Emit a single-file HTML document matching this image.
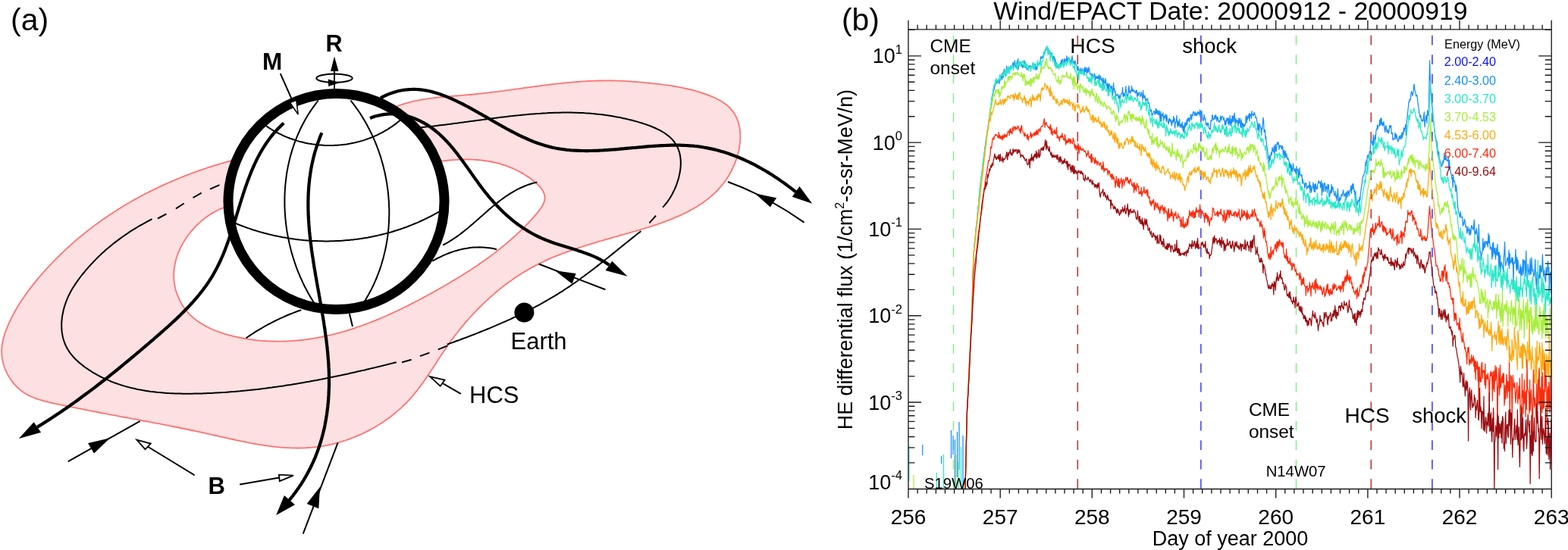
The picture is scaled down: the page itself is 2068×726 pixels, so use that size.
<!DOCTYPE html>
<html><head><meta charset="utf-8"><title>Figure</title>
<style>
html,body{margin:0;padding:0;background:#fff;}
body{width:2068px;height:726px;overflow:hidden;}
svg{display:block;}
text{font-family:"Liberation Sans",Arial,Helvetica,sans-serif;}
</style></head><body>
<svg width="2068" height="726" viewBox="0 0 2068 726">
<rect width="2068" height="726" fill="#fff"/>
<path d="M303.2 212.6L300.8 213.2L298.4 213.9L296 214.6L293.6 215.3L291.2 216L288.8 216.7L286.4 217.4L284 218.2L281.6 218.9L279.2 219.7L276.8 220.4L274.4 221.2L272.1 222L269.7 222.8L267.3 223.6L265 224.4L262.6 225.2L260.2 226.1L257.9 226.9L255.5 227.8L253.2 228.6L250.9 229.5L248.5 230.4L246.2 231.3L243.9 232.2L241.5 233.1L239.2 234L236.9 235L234.6 235.9L232.3 236.9L230 237.8L227.7 238.8L225.4 239.8L223.1 240.8L220.9 241.8L218.6 242.8L216.3 243.9L214.1 244.9L211.8 245.9L209.5 247L207.3 248.1L205.1 249.1L202.8 250.2L200.6 251.3L198.4 252.4L196.1 253.6L193.9 254.7L191.7 255.8L189.5 257L187.3 258.1L185.1 259.3L182.9 260.5L180.8 261.7L178.6 262.9L176.4 264.1L174.3 265.3L172.1 266.6L170 267.8L167.8 269.1L165.7 270.3L163.5 271.6L161.4 272.9L159.3 274.2L157.2 275.5L155.1 276.8L153 278.2L150.9 279.5L148.8 280.9L146.8 282.2L144.7 283.6L142.6 285L140.6 286.4L138.5 287.8L136.5 289.2L134.4 290.6L132.4 292.1L130.4 293.5L128.4 295L126.4 296.4L124.4 297.9L122.4 299.4L120.4 300.9L118.4 302.4L116.5 303.9L114.5 305.5L112.6 307L110.6 308.6L108.7 310.2L106.8 311.7L104.9 313.3L102.9 314.9L101 316.5L99.2 318.2L97.3 319.8L95.4 321.4L93.5 323.1L91.7 324.8L89.8 326.5L88 328.1L86.1 329.8L84.3 331.6L82.5 333.3L80.7 335L78.9 336.8L77.1 338.5L75.3 340.3L73.5 342.1L71.8 343.9L70 345.7L68.3 347.5L66.6 349.3L64.8 351.1L63.1 353L61.4 354.9L59.7 356.7L58 358.6L56.3 360.5L54.7 362.4L53 364.3L51.4 366.3L49.7 368.2L48.1 370.1L46.5 372.1L44.9 374.1L43.3 376.1L41.8 378.1L40.2 380.1L38.7 382.1L37.1 384.1L35.6 386.2L34.2 388.2L32.7 390.3L31.3 392.4L29.8 394.5L28.4 396.6L27.1 398.7L25.7 400.8L24.4 403L23.1 405.1L21.8 407.3L20.5 409.5L19.3 411.7L18.1 413.9L16.9 416.1L15.8 418.3L14.7 420.6L13.6 422.8L12.5 425.1L11.5 427.4L10.5 429.7L9.5 432L8.6 434.3L7.7 436.6L6.9 439L6.1 441.3L5.4 443.7L4.7 446.1L4.1 448.4L3.6 450.8L3.1 453.2L2.7 455.7L2.5 458.1L2.3 460.5L2.2 462.9L2.2 465.4L2.3 467.8L2.5 470.3L2.9 472.7L3.3 475.2L3.8 477.6L4.4 480L5.1 482.5L5.9 484.8L6.8 487.2L7.8 489.5L8.9 491.8L10 494.1L11.2 496.3L12.5 498.4L13.9 500.6L15.4 502.6L16.9 504.6L18.5 506.6L20.1 508.5L21.9 510.3L23.7 512L25.5 513.7L27.4 515.3L29.4 516.7L31.4 518.2L33.5 519.5L35.6 520.7L37.8 521.9L40 523L42.3 524L44.5 525L46.9 525.8L49.2 526.7L51.6 527.5L54 528.2L56.5 528.9L58.9 529.6L61.4 530.2L63.9 530.9L66.4 531.4L68.9 532L71.4 532.6L73.9 533.1L76.4 533.6L78.9 534.2L81.4 534.7L83.9 535.2L86.4 535.7L88.9 536.2L91.4 536.7L93.9 537.2L96.4 537.7L98.8 538.2L101.3 538.7L103.8 539.2L106.3 539.7L108.8 540.2L111.2 540.7L113.7 541.2L116.2 541.7L118.6 542.2L121.1 542.6L123.6 543.1L126 543.6L128.5 544L131 544.5L133.4 545L135.9 545.5L138.3 545.9L140.8 546.4L143.2 546.8L145.7 547.3L148.1 547.8L150.6 548.2L153 548.7L155.5 549.1L157.9 549.6L160.4 550.1L162.8 550.5L165.3 551L167.7 551.4L170.2 551.9L172.6 552.3L175 552.8L177.5 553.2L179.9 553.7L182.3 554.2L184.8 554.6L187.2 555.1L189.7 555.5L192.1 556L194.5 556.4L197 556.9L199.4 557.4L201.8 557.8L204.3 558.3L206.7 558.8L209.1 559.2L211.6 559.7L214 560.2L216.5 560.6L218.9 561.1L221.3 561.6L223.8 562.1L226.2 562.5L228.6 563L231.1 563.5L233.5 564L236 564.5L238.4 565L240.8 565.5L243.3 566L245.7 566.5L248.2 567L250.6 567.5L253 568L255.5 568.5L257.9 569.1L260.4 569.6L262.8 570.1L265.3 570.6L267.7 571.2L270.2 571.7L272.6 572.3L275.1 572.8L277.5 573.3L280 573.9L282.5 574.5L284.9 575L287.4 575.6L289.8 576.1L292.3 576.7L294.8 577.2L297.2 577.8L299.7 578.4L302.2 578.9L304.6 579.5L307.1 580L309.6 580.5L312.1 581.1L314.5 581.6L317 582.1L319.5 582.6L321.9 583.1L324.4 583.6L326.9 584.1L329.4 584.6L331.8 585.1L334.3 585.5L336.8 586L339.3 586.4L341.8 586.8L344.2 587.2L346.7 587.6L349.2 588L351.7 588.3L354.1 588.7L356.6 589L359.1 589.3L361.6 589.6L364.1 589.9L366.5 590.1L369 590.4L371.5 590.6L374 590.8L376.5 590.9L378.9 591.1L381.4 591.2L383.9 591.3L386.4 591.4L388.9 591.4L391.3 591.5L393.8 591.5L396.3 591.4L398.8 591.4L401.2 591.3L403.7 591.2L406.2 591L408.7 590.9L411.1 590.7L413.6 590.4L416.1 590.2L418.5 589.9L421 589.5L423.5 589.2L426 588.8L428.4 588.3L430.9 587.9L433.3 587.4L435.8 586.8L438.2 586.3L440.7 585.7L443.1 585.1L445.6 584.4L448 583.7L450.4 583L452.8 582.2L455.3 581.5L457.7 580.6L460.1 579.8L462.4 578.9L464.8 578L467.2 577.1L469.5 576.1L471.9 575.1L474.2 574.1L476.5 573.1L478.8 572L481.1 570.9L483.4 569.8L485.7 568.6L487.9 567.4L490.1 566.2L492.4 565L494.6 563.7L496.7 562.4L498.9 561.1L501.1 559.8L503.2 558.4L505.3 557L507.4 555.6L509.5 554.1L511.5 552.7L513.5 551.2L515.6 549.7L517.5 548.1L519.5 546.6L521.4 545L523.4 543.4L525.3 541.7L527.1 540.1L529 538.4L530.8 536.7L532.6 535L534.3 533.3L536.1 531.5L537.8 529.7L539.5 527.9L541.1 526.1L542.8 524.2L544.4 522.4L546 520.5L547.5 518.6L549.1 516.7L550.6 514.8L552.1 512.8L553.6 510.9L555 508.9L556.5 506.9L557.9 504.9L559.3 502.9L560.7 500.9L562.1 498.9L563.5 496.8L564.9 494.8L566.3 492.7L567.6 490.7L569 488.6L570.4 486.5L571.7 484.4L573.1 482.4L574.4 480.3L575.8 478.2L577.1 476.1L578.5 474L579.9 471.9L581.2 469.8L582.6 467.8L584 465.7L585.4 463.6L586.8 461.5L588.2 459.4L589.6 457.4L591 455.3L592.5 453.2L594 451.2L595.4 449.1L596.9 447.1L598.5 445.1L600 443L601.5 441L603.1 439L604.7 437L606.2 435L607.8 433.1L609.5 431.1L611.1 429.1L612.7 427.2L614.4 425.2L616.1 423.3L617.7 421.4L619.4 419.5L621.2 417.6L622.9 415.7L624.6 413.8L626.4 412L628.1 410.1L629.9 408.3L631.7 406.5L633.5 404.7L635.3 402.9L637.1 401.1L639 399.3L640.8 397.6L642.7 395.9L644.6 394.1L646.4 392.4L648.3 390.8L650.2 389.1L652.2 387.4L654.1 385.8L656 384.2L658 382.6L659.9 381L661.9 379.4L663.9 377.8L665.9 376.3L667.9 374.8L669.9 373.3L671.9 371.8L674 370.4L676 368.9L678 367.5L680.1 366.1L682.2 364.7L684.2 363.4L686.3 362L688.4 360.7L690.5 359.4L692.6 358.1L694.8 356.9L696.9 355.6L699 354.4L701.2 353.2L703.3 352.1L705.5 350.9L707.6 349.8L709.8 348.7L712 347.6L714.2 346.5L716.4 345.5L718.6 344.4L720.8 343.4L723 342.4L725.2 341.4L727.5 340.5L729.7 339.5L732 338.6L734.2 337.7L736.5 336.8L738.7 335.9L741 335L743.3 334.1L745.6 333.3L747.9 332.4L750.2 331.6L752.5 330.8L754.8 329.9L757.1 329.1L759.5 328.4L761.8 327.6L764.1 326.8L766.5 326L768.8 325.3L771.2 324.5L773.5 323.8L775.9 323L778.3 322.3L780.7 321.6L783 320.9L785.4 320.2L787.8 319.4L790.2 318.7L792.6 318L795 317.3L797.4 316.6L799.9 315.9L802.3 315.3L804.7 314.6L807.2 313.9L809.6 313.2L812 312.5L814.5 311.8L816.9 311.1L819.4 310.4L821.9 309.7L824.3 309L826.8 308.3L829.3 307.6L831.7 306.9L834.2 306.2L836.7 305.5L839.2 304.7L841.7 304L844.2 303.3L846.7 302.5L849.1 301.8L851.6 301L854.1 300.3L856.6 299.5L859.1 298.7L861.5 297.9L864 297.1L866.4 296.3L868.9 295.4L871.3 294.6L873.8 293.7L876.2 292.8L878.6 291.9L881 291L883.4 290.1L885.8 289.1L888.2 288.2L890.5 287.2L892.8 286.2L895.2 285.2L897.5 284.1L899.8 283L902 282L904.3 280.9L906.5 279.7L908.7 278.6L910.9 277.4L913.1 276.2L915.3 275L917.4 273.7L919.5 272.4L921.6 271.1L923.6 269.8L925.7 268.4L927.7 267L929.6 265.6L931.6 264.1L933.5 262.7L935.4 261.1L937.2 259.6L939.1 258L940.9 256.4L942.6 254.7L944.4 253.1L946.1 251.3L947.7 249.6L949.3 247.8L950.9 246L952.5 244.1L954 242.2L955.5 240.2L956.9 238.3L958.3 236.2L959.7 234.2L961 232.1L962.3 229.9L963.5 227.7L964.7 225.5L965.8 223.2L966.9 220.9L967.9 218.5L968.9 216.2L969.9 213.7L970.8 211.3L971.6 208.9L972.4 206.4L973.1 203.9L973.7 201.4L974.3 198.9L974.8 196.3L975.2 193.8L975.6 191.3L975.9 188.8L976.1 186.3L976.3 183.8L976.4 181.3L976.4 178.8L976.3 176.3L976.1 173.9L975.8 171.5L975.5 169.1L975.1 166.7L974.5 164.4L973.9 162.1L973.2 159.9L972.4 157.7L971.5 155.5L970.5 153.4L969.4 151.4L968.2 149.4L966.8 147.4L965.4 145.6L963.9 143.8L962.2 142L960.4 140.3L958.6 138.7L956.6 137.2L954.5 135.7L952.4 134.3L950.2 133L947.9 131.7L945.5 130.5L943.1 129.3L940.7 128.2L938.2 127.1L935.6 126.1L933.1 125.1L930.5 124.2L927.9 123.3L925.3 122.4L922.7 121.6L920.1 120.8L917.6 120.1L915 119.4L912.5 118.7L910 118.1L907.4 117.5L904.9 116.9L902.4 116.3L899.9 115.8L897.4 115.3L895 114.8L892.5 114.4L890 114L887.6 113.5L885.1 113.2L882.6 112.8L880.2 112.4L877.7 112.1L875.3 111.8L872.8 111.4L870.4 111.2L867.9 110.9L865.5 110.6L863 110.3L860.6 110.1L858.1 109.8L855.7 109.5L853.2 109.3L850.7 109.1L848.2 108.8L845.8 108.6L843.3 108.4L840.8 108.2L838.3 108L835.8 107.8L833.3 107.7L830.8 107.5L828.4 107.3L825.9 107.2L823.4 107.1L820.9 106.9L818.4 106.8L815.9 106.7L813.4 106.6L810.9 106.6L808.4 106.5L805.9 106.5L803.4 106.4L800.9 106.4L798.4 106.4L795.9 106.4L793.4 106.5L791 106.5L788.5 106.5L786 106.6L783.5 106.7L781 106.8L778.5 106.9L776 107L773.6 107.2L771.1 107.3L768.6 107.4L766.1 107.6L763.6 107.8L761.1 108L758.7 108.2L756.2 108.4L753.7 108.6L751.2 108.8L748.8 109L746.3 109.3L743.8 109.5L741.3 109.8L738.8 110.1L736.4 110.3L733.9 110.6L731.4 110.9L728.9 111.2L726.4 111.5L724 111.8L721.5 112.1L719 112.4L716.5 112.7L714.1 113L711.6 113.3L709.1 113.7L706.6 114L704.1 114.3L701.7 114.7L699.2 115L696.7 115.3L694.2 115.7L691.7 116L689.2 116.4L686.8 116.7L684.3 117.1L681.8 117.4L679.3 117.7L676.8 118.1L674.3 118.4L671.8 118.8L669.3 119.1L666.9 119.4L664.4 119.8L661.9 120.1L659.4 120.4L656.9 120.8L654.4 121.1L651.9 121.4L649.4 121.7L646.9 122L644.4 122.3L641.9 122.6L639.4 122.9L636.9 123.2L634.4 123.5L631.9 123.7L629.3 124L626.8 124.3L624.3 124.5L621.8 124.8L619.3 125L616.8 125.2L614.2 125.4L611.7 125.6L609.2 125.9L606.7 126.1L604.1 126.3L601.6 126.5L599.1 126.7L596.6 126.9L594.1 127.1L591.5 127.3L589 127.5L586.5 127.7L584 128L581.5 128.2L579 128.5L576.5 128.7L574 129L571.5 129.3L569 129.6L566.6 129.9L564.1 130.3L561.6 130.7L559.2 131.1L556.7 131.5L554.3 131.9L551.8 132.4L549.4 132.9L547 133.4L544.6 133.9L542.2 134.5L539.8 135.1L537.4 135.8L535.1 136.4L532.7 137.2L530.3 137.9L528 138.7L525.7 139.5L523.4 140.4L521.1 141.3L518.8 142.3L516.5 143.3L514.3 144.3L512 145.4L509.8 146.5L507.5 147.6L505.3 148.7L503.1 149.8L500.8 151L498.6 152.2L496.4 153.3L494.2 154.5L491.9 155.7L489.7 156.8L487.5 158L485.2 159.1L483 160.3L480.8 161.4L478.5 162.5L476.2 163.6L474 164.6L471.7 165.6L469.4 166.7L467.1 167.7L464.8 168.6L462.5 169.6L460.2 170.5L457.9 171.4L455.6 172.3L453.3 173.2L450.9 174.1L448.6 174.9L446.2 175.8L443.9 176.6L441.5 177.4L439.2 178.2L436.8 179L434.4 179.7L432.1 180.5L429.7 181.2L427.3 182L424.9 182.7L422.5 183.4L420.1 184.1L417.7 184.8L415.3 185.4L412.9 186.1L410.5 186.7L408.1 187.4L405.7 188L403.2 188.6L400.8 189.3L398.4 189.9L396 190.5L393.5 191.1L391.1 191.7L388.7 192.3L386.2 192.8L383.8 193.4L381.4 194L378.9 194.5L376.5 195.1L374 195.7L371.6 196.2L369.1 196.8L366.7 197.3L364.2 197.9L361.8 198.5L359.3 199L356.9 199.6L354.4 200.1L352 200.7L349.5 201.2L347.1 201.8L344.6 202.3L342.2 202.9L339.7 203.5L337.3 204L334.8 204.6L332.4 205.2L330 205.8L327.5 206.3L325.1 206.9L322.6 207.5L320.2 208.1L317.8 208.7L315.3 209.4L312.9 210L310.5 210.6L308 211.2L305.6 211.9L303.2 212.6ZM294.5 274.3L292.1 275.2L289.8 276.2L287.5 277.3L285.3 278.5L283 279.7L280.8 280.9L278.6 282.3L276.4 283.6L274.3 285.1L272.2 286.6L270.1 288.1L268.1 289.7L266.1 291.4L264.1 293.1L262.2 294.8L260.3 296.6L258.4 298.5L256.6 300.3L254.9 302.3L253.2 304.2L251.5 306.2L249.9 308.3L248.3 310.3L246.8 312.4L245.3 314.6L243.9 316.7L242.5 318.9L241.2 321.1L240 323.4L238.8 325.7L237.7 328L236.6 330.3L235.6 332.6L234.7 335L233.8 337.3L233 339.7L232.3 342.1L231.7 344.5L231.1 346.9L230.6 349.4L230.2 351.8L229.8 354.2L229.5 356.7L229.3 359.1L229.2 361.6L229.2 364L229.3 366.4L229.4 368.9L229.6 371.3L229.9 373.7L230.3 376.1L230.8 378.5L231.3 380.9L231.9 383.3L232.6 385.6L233.4 387.9L234.3 390.2L235.2 392.4L236.2 394.7L237.2 396.9L238.4 399L239.6 401.1L240.8 403.2L242.2 405.2L243.6 407.2L245.1 409.1L246.6 411L248.2 412.8L249.8 414.6L251.5 416.3L253.3 418L255.1 419.6L257 421.1L259 422.6L260.9 424.1L263 425.5L265 426.8L267.1 428.1L269.3 429.4L271.5 430.6L273.7 431.8L276 432.9L278.3 434L280.6 435L283 436L285.4 437L287.8 437.9L290.3 438.7L292.7 439.6L295.2 440.4L297.7 441.1L300.2 441.9L302.7 442.6L305.3 443.2L307.8 443.8L310.4 444.4L312.9 445L315.5 445.5L318.1 446L320.6 446.5L323.2 447L325.8 447.4L328.3 447.8L330.9 448.1L333.4 448.5L336 448.8L338.5 449.1L341.1 449.3L343.6 449.6L346.1 449.8L348.7 450L351.2 450.1L353.7 450.3L356.3 450.4L358.8 450.5L361.3 450.5L363.8 450.6L366.3 450.6L368.8 450.6L371.3 450.6L373.8 450.5L376.3 450.4L378.8 450.3L381.3 450.2L383.8 450.1L386.3 449.9L388.7 449.7L391.2 449.5L393.7 449.3L396.1 449L398.6 448.8L401.1 448.5L403.5 448.2L406 447.8L408.4 447.5L410.9 447.1L413.3 446.7L415.8 446.3L418.2 445.9L420.6 445.4L423.1 445L425.5 444.5L427.9 444L430.3 443.4L432.7 442.9L435.1 442.3L437.6 441.8L440 441.2L442.4 440.6L444.8 439.9L447.2 439.3L449.5 438.6L451.9 438L454.3 437.3L456.7 436.6L459.1 435.8L461.4 435.1L463.8 434.4L466.2 433.6L468.5 432.8L470.9 432L473.3 431.2L475.6 430.4L478 429.5L480.3 428.7L482.6 427.8L485 426.9L487.3 426L489.6 425.1L492 424.2L494.3 423.3L496.6 422.3L498.9 421.4L501.2 420.4L503.5 419.5L505.8 418.5L508.1 417.5L510.4 416.5L512.7 415.4L515 414.4L517.3 413.4L519.6 412.3L521.9 411.2L524.1 410.2L526.4 409.1L528.7 408L530.9 406.9L533.2 405.8L535.5 404.7L537.7 403.6L540 402.4L542.2 401.3L544.4 400.1L546.7 399L548.9 397.8L551.1 396.7L553.4 395.5L555.6 394.3L557.8 393.1L560 391.9L562.2 390.7L564.4 389.5L566.7 388.3L568.8 387.1L571 385.9L573.2 384.6L575.4 383.4L577.6 382.2L579.8 380.9L582 379.7L584.1 378.4L586.3 377.2L588.5 375.9L590.6 374.7L592.8 373.4L594.9 372.1L597.1 370.8L599.2 369.6L601.4 368.3L603.5 367L605.6 365.7L607.8 364.4L609.9 363.1L612 361.7L614.1 360.4L616.2 359.1L618.3 357.7L620.4 356.4L622.5 355L624.6 353.6L626.6 352.2L628.7 350.9L630.8 349.5L632.8 348L634.9 346.6L636.9 345.2L639 343.8L641 342.3L643 340.8L645 339.4L647.1 337.9L649.1 336.4L651.1 334.9L653 333.4L655 331.8L657 330.3L659 328.7L660.9 327.1L662.9 325.5L664.8 323.9L666.8 322.3L668.7 320.7L670.6 319.1L672.6 317.4L674.5 315.7L676.4 314L678.2 312.3L680.1 310.6L682 308.9L683.9 307.1L685.7 305.3L687.6 303.5L689.4 301.7L691.2 299.9L693.1 298.1L694.9 296.2L696.7 294.3L698.5 292.4L700.2 290.5L702 288.6L703.8 286.6L705.5 284.6L707.3 282.6L709 280.6L710.6 278.6L712.1 276.6L713.5 274.5L714.8 272.5L716 270.4L716.9 268.4L717.7 266.3L718.2 264.3L718.5 262.3L718.6 260.2L718.3 258.2L717.8 256.2L717.1 254.3L716.1 252.3L714.9 250.4L713.6 248.5L712 246.7L710.4 244.8L708.6 243.1L706.7 241.3L704.7 239.6L702.6 238L700.5 236.4L698.3 234.8L696.2 233.3L694 231.9L691.8 230.5L689.6 229.1L687.4 227.9L685.2 226.6L682.9 225.5L680.7 224.3L678.4 223.3L676.1 222.2L673.8 221.3L671.5 220.3L669.2 219.5L666.9 218.6L664.6 217.8L662.2 217.1L659.9 216.4L657.5 215.7L655.1 215.1L652.7 214.5L650.3 214L647.9 213.5L645.5 213.1L643.1 212.7L640.7 212.3L638.3 212L635.8 211.7L633.4 211.4L630.9 211.2L628.4 211L626 210.8L623.5 210.7L621 210.6L618.5 210.5L616 210.5L613.6 210.5L611.1 210.5L608.5 210.6L606 210.7L603.5 210.8L601 210.9L598.5 211.1L596 211.3L593.4 211.5L590.9 211.7L588.4 212L585.8 212.3L583.3 212.6L580.8 212.9L578.2 213.2L575.7 213.6L573.1 214L570.6 214.4L568.1 214.8L565.5 215.2L563 215.7L560.4 216.1L557.9 216.6L555.4 217.1L552.8 217.6L550.3 218.1L547.7 218.7L545.2 219.2L542.7 219.7L540.2 220.3L537.6 220.9L535.1 221.4L532.6 222L530.1 222.6L527.6 223.2L525.1 223.8L522.6 224.4L520.1 225L517.6 225.6L515.1 226.2L512.6 226.8L510.1 227.4L507.6 228L505.2 228.6L502.7 229.2L500.2 229.8L497.8 230.4L495.3 231L492.9 231.7L490.4 232.3L488 232.9L485.6 233.5L483.1 234.1L480.7 234.7L478.3 235.3L475.9 235.9L473.4 236.6L471 237.2L468.6 237.8L466.2 238.4L463.8 239L461.4 239.6L458.9 240.2L456.5 240.8L454.1 241.4L451.7 242L449.3 242.6L446.9 243.2L444.5 243.8L442.1 244.4L439.7 245L437.4 245.6L435 246.1L432.6 246.7L430.2 247.3L427.8 247.9L425.4 248.4L423 249L420.6 249.6L418.2 250.1L415.8 250.7L413.4 251.2L411 251.8L408.6 252.3L406.2 252.8L403.8 253.3L401.4 253.9L399 254.4L396.6 254.9L394.2 255.4L391.8 255.9L389.4 256.4L387 256.9L384.6 257.4L382.2 257.8L379.8 258.3L377.4 258.8L375 259.2L372.6 259.7L370.1 260.1L367.7 260.6L365.3 261L362.8 261.4L360.4 261.8L358 262.2L355.5 262.6L353.1 263L350.6 263.4L348.2 263.7L345.7 264.1L343.3 264.5L340.8 264.8L338.3 265.1L335.9 265.5L333.4 265.8L330.9 266.1L328.4 266.5L326 266.8L323.5 267.2L321 267.6L318.6 268L316.1 268.4L313.7 268.9L311.2 269.4L308.8 269.9L306.4 270.5L304 271.2L301.6 271.9L299.2 272.6L296.8 273.4L294.5 274.3Z" fill="#fde0e1" fill-rule="evenodd" stroke="#ff7272" stroke-width="1.8"/>
<path d="M200.5 289.2L198.2 290.4L196 291.5L193.8 292.7L191.7 293.9L189.5 295.1L187.3 296.3L185.1 297.5L183 298.7L180.9 300L178.7 301.3L176.6 302.6L174.5 303.9L172.4 305.2L170.3 306.6L168.3 308L166.2 309.4L164.1 310.8L162.1 312.2L160.1 313.6L158.1 315.1L156.1 316.6L154.1 318.1L152.1 319.6L150.1 321.1L148.2 322.7L146.3 324.3L144.3 325.9L142.4 327.5L140.5 329.1L138.6 330.8L136.8 332.5L134.9 334.1L133.1 335.9L131.3 337.6L129.4 339.3L127.6 341.1L125.9 342.9L124.1 344.7L122.4 346.6L120.6 348.4L118.9 350.3L117.2 352.2L115.5 354.1L113.8 356L112.2 358L110.6 360L108.9 362L107.3 364L105.7 366L104.2 368.1L102.7 370.2L101.2 372.3L99.7 374.4L98.3 376.6L96.9 378.8L95.5 381L94.2 383.2L93 385.5L91.8 387.8L90.6 390.1L89.6 392.4L88.5 394.8L87.6 397.2L86.7 399.5L85.9 402L85.1 404.4L84.4 406.8L83.7 409.3L83.2 411.7L82.7 414.2L82.2 416.6L81.9 419.1L81.6 421.5L81.4 424L81.2 426.4L81.2 428.8L81.2 431.3L81.3 433.7L81.5 436.1L81.7 438.4L82.1 440.8L82.5 443.1L83 445.4L83.6 447.7L84.3 450L85.1 452.2L85.9 454.4L86.9 456.6L88 458.7L89.1 460.8L90.4 462.8L91.7 464.9L93.2 466.8L94.7 468.7L96.3 470.6L98 472.5L99.7 474.2L101.6 476L103.4 477.7L105.4 479.4L107.4 481L109.4 482.6L111.4 484.2L113.5 485.7L115.7 487.1L117.8 488.6L120 489.9L122.1 491.3L124.3 492.6L126.5 493.9L128.7 495.1L131 496.3L133.2 497.5L135.5 498.6L137.7 499.7L140 500.7L142.3 501.7L144.6 502.7L146.9 503.7L149.3 504.6L151.6 505.5L154 506.3L156.3 507.1L158.7 507.9L161.1 508.7L163.5 509.4L165.9 510.1L168.3 510.8L170.7 511.4L173.1 512L175.5 512.6L178 513.1L180.4 513.7L182.9 514.2L185.3 514.6L187.8 515.1L190.3 515.5L192.8 515.9L195.3 516.3L197.8 516.7L200.3 517L202.8 517.3L205.3 517.6L207.8 517.9L210.3 518.1L212.8 518.3L215.4 518.5L217.9 518.7L220.4 518.9L222.9 519.1L225.5 519.2L228 519.3L230.6 519.4L233.1 519.5L235.7 519.6L238.2 519.6L240.8 519.7L243.3 519.7L245.9 519.7L248.4 519.7L250.9 519.7L253.5 519.7L256 519.6L258.6 519.6L261.1 519.5L263.7 519.5L266.2 519.4L268.8 519.3L271.3 519.2L273.8 519.1L276.4 519L278.9 518.9L281.4 518.8L283.9 518.6L286.4 518.5L289 518.3L291.5 518.2L294 518L296.5 517.9L299 517.7L301.5 517.5L304 517.3L306.5 517.1L309 516.9L311.5 516.7L314 516.5L316.5 516.3L319 516L321.5 515.8L323.9 515.6L326.4 515.3L328.9 515.1L331.4 514.8L333.9 514.5L336.3 514.2L338.8 514L341.3 513.7L343.7 513.4L346.2 513.1L348.7 512.8L351.1 512.5L353.6 512.1L356.1 511.8L358.5 511.5L361 511.1L363.5 510.8L365.9 510.5L368.4 510.1L370.8 509.7L373.3 509.4L375.7 509L378.2 508.6L380.6 508.2L383.1 507.9L385.5 507.5L388 507.1L390.4 506.7L392.9 506.3L395.3 505.8L397.8 505.4L400.2 505L402.7 504.6L405.1 504.1L407.5 503.7L410 503.2L412.4 502.8L414.9 502.3L417.3 501.9L419.8 501.4L422.2 500.9L424.6 500.5L427.1 500L429.5 499.5L432 499L434.4 498.5L436.9 498L439.3 497.5L441.7 497L444.2 496.5L446.6 496L449.1 495.5L451.5 494.9L454 494.4L456.4 493.9L458.9 493.4L461.3 492.8L463.7 492.3L466.2 491.7L468.6 491.2L471.1 490.6L473.5 490.1L476 489.5L478.4 488.9L480.9 488.4L483.4 487.8L485.8 487.2L488.3 486.6L490.7 486L493.2 485.5L495.6 484.9L498.1 484.3L500.6 483.7L503 483.1L505.5 482.5L508 481.9L510.4 481.3L512.9 480.6L515.4 480L517.9 479.4L520.3 478.8L522.8 478.2" fill="none" stroke="#000" stroke-width="2" stroke-linecap="butt"/>
<path d="M208 288.5L219.4 282.3" fill="none" stroke="#000" stroke-width="2" stroke-linecap="butt"/>
<path d="M231.9 275.3L242.7 268.5" fill="none" stroke="#000" stroke-width="2" stroke-linecap="butt"/>
<path d="M254.5 261L265.7 254.7" fill="none" stroke="#000" stroke-width="2" stroke-linecap="butt"/>
<path d="M277 249.7L289.5 244.2" fill="none" stroke="#000" stroke-width="2" stroke-linecap="butt"/>
<path d="M530.1 478.2L542.6 474.7" fill="none" stroke="#000" stroke-width="2" stroke-linecap="butt"/>
<path d="M553.9 470.1L566.4 465.6" fill="none" stroke="#000" stroke-width="2" stroke-linecap="butt"/>
<path d="M577.7 461.4L590.2 456.4" fill="none" stroke="#000" stroke-width="2" stroke-linecap="butt"/>
<path d="M856.4 294.4L865.1 284.7" fill="none" stroke="#000" stroke-width="2" stroke-linecap="butt"/>
<path d="M589.7 454.6L592.1 453.8L594.5 452.9L596.8 452.1L599.2 451.2L601.6 450.3L603.9 449.5L606.3 448.6L608.6 447.7L611 446.8L613.3 446L615.7 445.1L618 444.2L620.4 443.3L622.7 442.4L625.1 441.5L627.4 440.6L629.7 439.6L632.1 438.7L634.4 437.8L636.7 436.9L639.1 435.9L641.4 435L643.7 434L646 433.1L648.3 432.1L650.7 431.1L653 430.2L655.3 429.2L657.6 428.2L659.9 427.2L662.2 426.2L664.5 425.2L666.8 424.2L669 423.1L671.3 422.1L673.6 421.1L675.9 420L678.1 418.9L680.4 417.9L682.7 416.8L684.9 415.7L687.2 414.6L689.4 413.5L691.6 412.4L693.9 411.3L696.1 410.2L698.3 409.1L700.6 407.9L702.8 406.8L705 405.6L707.2 404.4L709.4 403.3L711.6 402.1L713.8 400.9L716 399.6L718.1 398.4L720.3 397.2L722.5 396L724.6 394.7L726.8 393.4L728.9 392.2L731.1 390.9L733.2 389.6L735.3 388.3L737.4 386.9L739.6 385.6L741.7 384.3L743.8 382.9L745.8 381.5L747.9 380.2L750 378.8L752.1 377.4L754.1 376L756.2 374.5L758.3 373.1L760.3 371.7L762.3 370.2L764.4 368.7L766.4 367.3L768.4 365.8L770.5 364.3L772.5 362.8L774.5 361.3L776.5 359.8L778.5 358.3L780.5 356.8L782.5 355.2L784.5 353.7L786.5 352.1L788.4 350.6L790.4 349.1L792.4 347.5L794.4 345.9L796.3 344.4L798.3 342.8L800.3 341.2L802.2 339.7L804.2 338.1L806.2 336.5L808.1 334.9L810.1 333.4L812 331.8L814 330.2L815.9 328.6L817.9 327L819.8 325.5L821.8 323.9L823.7 322.3L825.7 320.7L827.7 319.2L829.6 317.6L831.6 316L833.5 314.4L835.5 312.9L837.4 311.3L839.4 309.8L841.3 308.2L843.3 306.7L845.3 305.1" fill="none" stroke="#000" stroke-width="2" stroke-linecap="butt"/>
<path d="M554.1 168.3L556.6 168L559 167.8L561.5 167.5L563.9 167.3L566.4 167L568.9 166.7L571.3 166.5L573.8 166.2L576.2 165.9L578.7 165.6L581.2 165.3L583.7 165L586.1 164.7L588.6 164.4L591.1 164.1L593.6 163.8L596 163.4L598.5 163.1L601 162.8L603.5 162.5L606 162.1L608.5 161.8L610.9 161.5L613.4 161.1L615.9 160.8L618.4 160.4L620.9 160.1L623.4 159.8L625.9 159.4L628.4 159.1L630.9 158.7L633.4 158.4L635.9 158.1L638.4 157.7L640.9 157.4L643.4 157.1L645.9 156.7L648.4 156.4L650.9 156.1L653.4 155.8L655.9 155.4L658.4 155.1L660.9 154.8L663.5 154.5L666 154.2L668.5 153.9L671 153.6L673.5 153.3L676 153.1L678.5 152.8L681 152.5L683.5 152.3L686.1 152L688.6 151.7L691.1 151.5L693.6 151.3L696.1 151L698.6 150.8L701.1 150.6L703.7 150.4L706.2 150.2L708.7 150L711.2 149.9L713.7 149.7L716.2 149.5L718.7 149.4L721.3 149.3L723.8 149.1L726.3 149L728.8 148.9L731.3 148.8L733.8 148.8L736.3 148.7L738.9 148.7L741.4 148.6L743.9 148.6L746.4 148.6L748.9 148.6L751.4 148.6L753.9 148.6L756.4 148.7L758.9 148.7L761.4 148.8L763.9 148.9L766.4 149L768.9 149.1L771.5 149.3L774 149.4L776.5 149.6L779 149.8L781.5 150L784 150.2L786.5 150.5L788.9 150.7L791.4 151L793.9 151.3L796.4 151.6L798.9 151.9L801.4 152.3L803.9 152.7L806.4 153.1L808.9 153.5L811.4 153.9L813.8 154.4L816.3 154.8L818.8 155.3L821.3 155.9L823.8 156.4L826.2 157L828.7 157.6L831.2 158.2L833.7 158.8L836.1 159.5L838.6 160.1L841.1 160.9L843.5 161.6L846 162.3L848.4 163.1L850.9 163.9L853.3 164.8L855.8 165.6L858.2 166.5L860.5 167.5L862.9 168.5L865.2 169.5L867.4 170.6L869.6 171.7L871.8 172.8L873.9 174.1L876 175.3L878 176.7L879.9 178.1L881.7 179.5L883.5 181L885.2 182.6L886.8 184.3L888.3 186L889.6 187.8L890.9 189.7L892.1 191.6L893.2 193.7L894.2 195.8L895 198L895.8 200.3L896.4 202.6L896.9 205L897.3 207.4L897.6 209.9L897.8 212.4L897.8 215L897.8 217.6L897.6 220.2L897.4 222.8L897 225.5L896.6 228.1L896 230.8L895.4 233.5L894.7 236.1L893.9 238.7L893.1 241.3L892.2 243.9L891.2 246.5L890.1 249L889 251.4L887.8 253.8L886.6 256.2L885.3 258.4L884 260.7L882.7 262.8L881.3 264.8L879.9 266.8L878.4 268.7L877 270.4L875.5 272.1L874 273.6" fill="none" stroke="#000" stroke-width="2" stroke-linecap="butt"/>
<path d="M708.3 240.5L705.8 241.1L703.2 241.8L700.8 242.5L698.3 243.3L695.9 244.1L693.5 245L691.2 246L688.9 247L686.6 248L684.3 249.1L682.1 250.2L679.9 251.4L677.7 252.6L675.6 253.8L673.5 255.1L671.4 256.4L669.3 257.8L667.2 259.2L665.2 260.6L663.2 262.1L661.2 263.5L659.2 265L657.2 266.6L655.3 268.1L653.3 269.7L651.4 271.2L649.5 272.8L647.5 274.5L645.6 276.1L643.7 277.7L641.8 279.4L640 281L638.1 282.7L636.2 284.4L634.3 286L632.4 287.7L630.5 289.4L628.6 291L626.8 292.7L624.9 294.3L623 296L621 297.6L619.1 299.2L617.2 300.9L615.3 302.5L613.3 304L611.4 305.6L609.4 307.1L607.4 308.7L605.4 310.2L603.4 311.6L601.3 313.1L599.2 314.5L597.2 315.9L595.1 317.2L592.9 318.6L590.8 319.8L588.6 321.1L586.4 322.3L584.2 323.5" fill="none" stroke="#000" stroke-width="2" stroke-linecap="butt"/>
<path d="M655 329.2L652.5 328.6L650 328.1L647.5 327.6L645 327.2L642.4 326.9L639.9 326.7L637.4 326.5L634.9 326.4L632.4 326.3L629.9 326.4L627.3 326.5L624.8 326.6L622.3 326.8L619.8 327.1L617.3 327.5L614.9 327.9L612.4 328.3L609.9 328.8L607.5 329.4L605 330L602.6 330.7L600.2 331.4L597.7 332.1L595.4 333L593 333.8L590.6 334.7L588.3 335.7L586 336.7L583.7 337.7L581.4 338.8L579.1 339.9L576.9 341L574.7 342.2L572.5 343.4L570.3 344.7" fill="none" stroke="#000" stroke-width="2" stroke-linecap="butt"/>
<path d="M324.6 446.2L326.7 444.7L328.8 443.3L331 441.9L333.1 440.5L335.3 439.1L337.5 437.7L339.6 436.4L341.8 435.1L344 433.8L346.2 432.5L348.4 431.2L350.7 430L352.9 428.7L355.2 427.5L357.4 426.3L359.7 425.2L362 424L364.2 422.9L366.5 421.8L368.8 420.7L371.2 419.6L373.5 418.6L375.8 417.5L378.2 416.5L380.5 415.5L382.9 414.5L385.3 413.6L387.7 412.6L390.1 411.7L392.5 410.8L394.9 410L397.3 409.1" fill="none" stroke="#000" stroke-width="2" stroke-linecap="butt"/>
<path d="M460.9 414L465 430.9" fill="none" stroke="#000" stroke-width="2" stroke-linecap="butt"/>
<circle cx="443.5" cy="266" r="142.5" fill="#fff"/>
<path d="M351 166.3L353.1 167.7L355.3 169.1L357.5 170.5L359.7 171.8L361.9 173.1L364.1 174.3L366.3 175.5L368.6 176.6L370.9 177.7L373.2 178.8L375.5 179.8L377.9 180.8L380.2 181.8L382.6 182.7L384.9 183.5L387.3 184.3L389.7 185.1L392.1 185.9L394.6 186.6L397 187.2L399.5 187.8L401.9 188.4L404.4 188.9L406.8 189.4L409.3 189.8L411.8 190.3L414.3 190.6L416.8 190.9L419.3 191.2L421.8 191.4L424.3 191.6L426.8 191.8L429.3 191.9L431.8 192L434.3 192L436.8 192L439.4 191.9L441.9 191.8L444.4 191.7L446.9 191.5L449.4 191.3L451.9 191L454.4 190.7L456.9 190.4L459.3 190L461.8 189.6L464.3 189.1L466.7 188.6L469.2 188L471.6 187.4L474.1 186.8L476.5 186.1L478.9 185.4L481.3 184.6L483.7 183.8L486.1 182.9L488.4 182L490.8 181.1L493.1 180.1L495.4 179.1L497.7 178.1L500 176.9L502.2 175.8L504.5 174.6L506.7 173.4L508.9 172.1L511.1 170.8L513.2 169.4L515.4 168L517.5 166.6L519.6 165.1L521.7 163.6L523.7 162L525.7 160.4L527.7 158.8" fill="none" stroke="#000" stroke-width="2" stroke-linecap="butt"/>
<path d="M306 292.9L308.3 293.9L310.7 294.8L313 295.8L315.3 296.7L317.7 297.6L320 298.5L322.4 299.4L324.7 300.2L327.1 301.1L329.5 301.9L331.8 302.7L334.2 303.5L336.6 304.2L339 304.9L341.4 305.7L343.8 306.4L346.2 307L348.7 307.7L351.1 308.3L353.5 309L356 309.6L358.4 310.1L360.8 310.7L363.3 311.2L365.8 311.8L368.2 312.3L370.7 312.7L373.1 313.2L375.6 313.6L378.1 314.1L380.6 314.5L383 314.8L385.5 315.2L388 315.6L390.5 315.9L393 316.2L395.5 316.5L398 316.7L400.5 317L403 317.2L405.5 317.4L408 317.6L410.5 317.8L413 317.9L415.5 318L418 318.1L420.5 318.2L423 318.3L425.5 318.3L428 318.4L430.5 318.4L433 318.4L435.5 318.3L438 318.3L440.5 318.2L443 318.1L445.5 318L448 317.9L450.5 317.7L453 317.5L455.5 317.3L458 317.1L460.5 316.9L463 316.6L465.5 316.4L468 316.1L470.5 315.8L472.9 315.4L475.4 315.1L477.9 314.7L480.4 314.3L482.8 313.9L485.3 313.5L487.8 313L490.2 312.5L492.7 312L495.1 311.5L497.6 311L500 310.4L502.4 309.8L504.9 309.2L507.3 308.6L509.7 308L512.1 307.3L514.5 306.7L517 306L519.4 305.2L521.7 304.5L524.1 303.8L526.5 303L528.9 302.2L531.2 301.4L533.6 300.5L536 299.7L538.3 298.8L540.6 297.9L543 296.9L545.3 296L547.6 295L549.9 294.1L552.2 293.1L554.5 292L556.8 291L559.1 289.9L561.3 288.8L563.6 287.7L565.8 286.6L568.1 285.5L570.3 284.3L572.5 283.1L574.7 281.9L576.9 280.7L579.1 279.4" fill="none" stroke="#000" stroke-width="2" stroke-linecap="butt"/>
<path d="M419.8 132.5L418.2 134.5L416.7 136.5L415.2 138.6L413.7 140.6L412.2 142.7L410.8 144.8L409.4 146.9L408 149L406.6 151.1L405.3 153.3L404 155.4L402.8 157.6L401.6 159.8L400.4 162L399.2 164.2L398 166.5L396.9 168.7L395.8 171L394.8 173.3L393.8 175.5L392.8 177.8L391.8 180.1L390.9 182.5L390 184.8L389.1 187.1L388.2 189.5L387.4 191.8L386.6 194.2L385.8 196.6L385.1 199L384.4 201.4L383.7 203.8L383 206.2L382.4 208.6L381.8 211L381.2 213.5L380.7 215.9L380.1 218.4L379.6 220.8L379.2 223.3L378.7 225.8L378.3 228.2L377.9 230.7L377.6 233.2L377.3 235.7L377 238.2L376.7 240.7L376.4 243.2L376.2 245.7L376 248.2L375.8 250.7L375.7 253.2L375.6 255.7L375.5 258.3L375.4 260.8L375.4 263.3L375.4 265.8L375.4 268.3L375.4 270.9L375.5 273.4L375.6 275.9L375.7 278.4L375.8 281L376 283.5L376.2 286L376.4 288.5L376.7 291L376.9 293.5L377.2 296L377.5 298.6L377.9 301.1L378.2 303.6L378.6 306.1L379.1 308.5L379.5 311L380 313.5L380.5 316L381 318.5L381.5 320.9L382.1 323.4L382.7 325.9L383.3 328.3L383.9 330.7L384.6 333.2L385.3 335.6L386 338L386.7 340.4L387.5 342.8L388.3 345.2L389.1 347.6L389.9 350L390.7 352.4L391.6 354.7L392.5 357.1L393.4 359.4L394.4 361.7L395.3 364L396.3 366.3L397.4 368.6L398.4 370.9L399.4 373.2L400.5 375.4L401.6 377.7L402.8 379.9L403.9 382.1L405.1 384.3L406.3 386.5L407.5 388.7L408.7 390.8L410 393L411.3 395.1L412.6 397.2L413.9 399.3" fill="none" stroke="#000" stroke-width="2" stroke-linecap="butt"/>
<path d="M462.5 132.7L464 134.7L465.6 136.6L467.1 138.6L468.6 140.6L470 142.6L471.5 144.7L472.9 146.7L474.3 148.8L475.7 150.9L477 153L478.3 155.1L479.6 157.3L480.9 159.4L482.1 161.6L483.4 163.8L484.6 165.9L485.7 168.2L486.9 170.4L488 172.6L489.1 174.8L490.2 177.1L491.3 179.4L492.3 181.7L493.3 183.9L494.3 186.2L495.3 188.6L496.2 190.9L497.1 193.2L498 195.6L498.9 197.9L499.7 200.3L500.5 202.7L501.3 205L502.1 207.4L502.8 209.8L503.5 212.2L504.2 214.7L504.9 217.1L505.5 219.5L506.1 221.9L506.7 224.4L507.3 226.8L507.8 229.3L508.3 231.7L508.8 234.2L509.3 236.7L509.7 239.2L510.2 241.6L510.5 244.1L510.9 246.6L511.2 249.1L511.6 251.6L511.8 254.1L512.1 256.6L512.3 259.1L512.5 261.6L512.7 264.1L512.9 266.6L513 269.1L513.1 271.6L513.2 274.1L513.3 276.6L513.3 279.2L513.3 281.7L513.3 284.2L513.2 286.7L513.1 289.2L513 291.7L512.9 294.2L512.7 296.7L512.6 299.2L512.4 301.7L512.1 304.2L511.9 306.7L511.6 309.2L511.3 311.7L510.9 314.1L510.6 316.6L510.2 319.1L509.7 321.5L509.3 324L508.8 326.5L508.3 328.9L507.8 331.3L507.2 333.8L506.6 336.2L506 338.6L505.4 341L504.7 343.4L504 345.8L503.3 348.2L502.6 350.6L501.8 353L501 355.3L500.2 357.7L499.3 360L498.4 362.4L497.5 364.7L496.6 367L495.6 369.3L494.6 371.6L493.6 373.9L492.6 376.1L491.5 378.4L490.4 380.6L489.3 382.9L488.1 385.1L486.9 387.3L485.7 389.5L484.4 391.6L483.2 393.8L481.9 396L480.5 398.1" fill="none" stroke="#000" stroke-width="2" stroke-linecap="butt"/>
<path d="M374.3 162.5L372.4 164.2L370.6 165.9L368.8 167.7L367 169.5L365.3 171.3L363.6 173.2L361.9 175L360.3 176.9L358.7 178.9L357.2 180.8L355.7 182.8L354.2 184.7L352.8 186.7L351.4 188.8L350 190.8L348.7 192.9L347.4 194.9L346.1 197L344.9 199.1L343.6 201.3L342.4 203.4L341.3 205.6L340.1 207.8L339 209.9L337.9 212.2L336.9 214.4L335.8 216.6L334.8 218.9L333.8 221.1L332.8 223.4L331.8 225.7L330.9 228L330 230.3L329.1 232.6L328.2 234.9L327.3 237.3L326.4 239.6L325.6 241.9L324.8 244.3L323.9 246.7L323.1 249.1L322.3 251.4L321.5 253.8L320.7 256.2L320 258.6L319.2 261L318.4 263.4L317.7 265.8L316.9 268.2L316.2 270.6L315.4 273.1L314.7 275.5L314 277.9L313.2 280.3L312.5 282.7L311.7 285.1L311 287.6L310.3 290L309.5 292.4L308.8 294.8L308 297.2L307.3 299.6L306.5 302L305.7 304.4L304.9 306.8L304.1 309.2L303.3 311.6L302.5 314L301.7 316.3L300.9 318.7L300 321L299.2 323.4L298.3 325.7L297.4 328.1L296.5 330.4L295.6 332.7L294.7 335L293.7 337.3L292.7 339.5L291.7 341.8L290.7 344.1L289.7 346.3L288.6 348.5L287.5 350.7L286.4 352.9L285.3 355.1L284.1 357.3L282.9 359.4L281.7 361.6L280.5 363.7L279.2 365.8L277.9 367.9L276.6 369.9L275.3 372L273.9 374L272.5 376L271.1 378L269.6 380L268.1 382L266.6 384L265.1 385.9L263.6 387.8L262 389.8L260.4 391.7L258.8 393.6L257.2 395.4L255.6 397.3L253.9 399.2L252.2 401L250.5 402.9L248.8 404.7L247.1 406.5L245.4 408.3L243.6 410.1L241.8 411.9L240 413.6L238.3 415.4L236.4 417.2L234.6 418.9L232.8 420.7L231 422.4L229.1 424.1L227.3 425.8L225.4 427.6L223.5 429.3L221.6 431L219.7 432.7L217.9 434.3L216 436L214.1 437.7L212.1 439.4L210.2 441.1L208.3 442.7L206.4 444.4L204.5 446L202.6 447.7L200.7 449.4L198.7 451L196.8 452.7L194.9 454.3L193 455.9L191.1 457.6L189.1 459.2L187.2 460.9L185.3 462.5L183.4 464.1L181.4 465.7L179.5 467.4L177.6 469L175.7 470.6L173.7 472.2L171.8 473.8L169.9 475.4L167.9 477L166 478.6L164.1 480.2L162.1 481.8L160.2 483.4L158.3 485L156.3 486.6L154.4 488.2L152.4 489.7L150.5 491.3L148.5 492.9L146.6 494.4L144.6 496L142.7 497.6L140.7 499.1L138.8 500.7L136.8 502.2L134.8 503.7L132.9 505.3L130.9 506.8L128.9 508.3L127 509.8L125 511.4L123 512.9L121 514.4L119 515.9L117 517.4L115 518.9L113 520.3L111 521.8L109 523.3L107 524.8L105 526.2L103 527.7L101 529.2L99 530.6L97 532.1L94.9 533.5L92.9 534.9L90.9 536.4L88.8 537.8L86.8 539.2L84.7 540.6L82.7 542L80.6 543.4L78.6 544.8L76.5 546.2L74.4 547.6L72.3 549L70.3 550.3L68.2 551.7L66.1 553.1L64 554.4L61.9 555.8L59.8 557.1L57.7 558.4L55.6 559.8L53.5 561.1L51.3 562.4L49.2 563.7" fill="none" stroke="#000" stroke-width="4.2" stroke-linecap="butt" stroke-linejoin="round"/>
<path d="M24.8 579 44.6 557.2 54.1 570.8Z" fill="#000"/>
<path d="M424.4 175.3L423.4 177.7L422.4 180.1L421.5 182.5L420.6 185L419.7 187.4L418.8 189.8L418 192.3L417.2 194.7L416.5 197.1L415.7 199.6L415 202L414.4 204.4L413.7 206.9L413.1 209.3L412.6 211.8L412 214.2L411.5 216.7L411 219.1L410.5 221.5L410.1 224L409.7 226.4L409.3 228.9L409 231.3L408.6 233.8L408.3 236.2L408 238.7L407.8 241.1L407.5 243.6L407.3 246.1L407.1 248.5L407 251L406.8 253.4L406.7 255.9L406.6 258.4L406.5 260.8L406.5 263.3L406.4 265.7L406.4 268.2L406.4 270.7L406.4 273.1L406.4 275.6L406.5 278.1L406.6 280.5L406.6 283L406.8 285.5L406.9 287.9L407 290.4L407.2 292.9L407.3 295.4L407.5 297.8L407.7 300.3L407.9 302.8L408.1 305.2L408.4 307.7L408.6 310.2L408.9 312.7L409.2 315.2L409.5 317.6L409.7 320.1L410.1 322.6L410.4 325.1L410.7 327.6L411 330L411.4 332.5L411.7 335L412.1 337.5L412.5 340L412.9 342.4L413.2 344.9L413.6 347.4L414 349.9L414.4 352.4L414.8 354.9L415.3 357.4L415.7 359.8L416.1 362.3L416.5 364.8L417 367.3L417.4 369.8L417.8 372.3L418.3 374.8L418.7 377.3L419.1 379.7L419.6 382.2L420 384.7L420.5 387.2L420.9 389.7L421.4 392.2L421.8 394.7L422.2 397.2L422.7 399.7L423.1 402.2L423.5 404.7L424 407.1L424.4 409.6L424.8 412.1L425.2 414.6L425.7 417.1L426.1 419.6L426.5 422.1L426.9 424.6L427.3 427.1L427.6 429.6L428 432.1L428.4 434.6L428.7 437.1L429.1 439.6L429.4 442L429.8 444.5L430.1 447L430.4 449.5L430.7 452L431 454.5L431.3 457L431.6 459.5L431.8 462L432.1 464.5L432.3 467L432.5 469.5L432.7 472L432.9 474.5L433.1 476.9L433.3 479.4L433.4 481.9L433.5 484.4L433.7 486.9L433.8 489.4L433.9 491.9L433.9 494.4L434 496.9L434 499.4L434 501.9L434 504.3L434 506.8L434 509.3L433.9 511.8L433.8 514.3L433.7 516.7L433.6 519.2L433.5 521.7L433.3 524.2L433.2 526.6L433 529.1L432.8 531.6L432.5 534L432.3 536.5L432 538.9L431.7 541.4L431.4 543.8L431.1 546.3L430.7 548.7L430.3 551.1L429.9 553.6L429.5 556L429 558.4L428.6 560.8L428.1 563.3L427.6 565.7L427 568.1L426.4 570.5L425.8 572.9L425.2 575.3L424.6 577.6L423.9 580L423.2 582.4L422.5 584.8L421.7 587.1L421 589.5L420.2 591.8L419.3 594.2L418.5 596.5L417.6 598.8L416.7 601.2L415.8 603.5L414.8 605.8L413.8 608.1L412.8 610.4L411.7 612.7L410.6 615L409.5 617.3L408.4 619.5L407.2 621.8L406 624L404.8 626.3L403.5 628.5L402.3 630.7L400.9 633L399.6 635.2L398.2 637.4L396.8 639.6L395.3 641.7L393.9 643.9L392.3 646.1L390.8 648.2L389.2 650.4L387.6 652.5L386 654.7L384.3 656.8L382.6 658.9L380.8 661" fill="none" stroke="#000" stroke-width="4.2" stroke-linecap="butt" stroke-linejoin="round"/>
<path d="M364.2 679.9 374.9 653.9 389 666.3Z" fill="#000"/>
<path d="M488 156L490.6 155L493.1 154.1L495.7 153.3L498.2 152.7L500.8 152.1L503.3 151.6L505.9 151.2L508.4 150.9L510.9 150.7L513.5 150.5L516 150.5L518.5 150.5L520.9 150.6L523.4 150.8L525.9 151.1L528.3 151.4L530.8 151.8L533.2 152.3L535.6 152.9L538 153.5L540.3 154.2L542.7 154.9L545 155.8L547.3 156.6L549.6 157.6L551.8 158.6L554 159.6L556.2 160.8L558.4 161.9L560.6 163.2L562.7 164.4L564.8 165.7L566.8 167.1L568.8 168.5L570.8 170L572.8 171.5L574.7 173L576.6 174.6L578.5 176.2L580.3 177.8L582.1 179.5L583.9 181.2L585.7 183L587.4 184.7L589.1 186.5L590.8 188.4L592.5 190.2L594.1 192.1L595.7 194L597.4 195.9L599 197.9L600.5 199.9L602.1 201.8L603.6 203.8L605.2 205.9L606.7 207.9L608.2 209.9L609.7 212L611.2 214L612.7 216.1L614.2 218.2L615.7 220.3L617.2 222.4L618.7 224.5L620.1 226.5L621.6 228.6L623.1 230.7L624.5 232.8L626 234.9L627.5 237L629 239L630.5 241.1L632 243.2L633.5 245.2L635 247.2L636.5 249.2L638.1 251.2L639.6 253.2L641.2 255.2L642.8 257.1L644.3 259.1L645.9 261L647.6 262.9L649.2 264.7L650.8 266.6L652.5 268.4L654.2 270.2L655.9 272L657.6 273.8L659.3 275.5L661 277.3L662.8 279L664.5 280.7L666.3 282.3L668.1 284L669.9 285.6L671.8 287.2L673.6 288.7L675.5 290.3L677.4 291.8L679.3 293.3L681.2 294.8L683.1 296.2L685.1 297.6L687.1 299L689.1 300.4L691.1 301.7L693.1 303L695.2 304.3L697.3 305.6L699.4 306.8L701.5 308L703.6 309.2L705.8 310.3L708 311.4L710.2 312.5L712.4 313.5L714.7 314.6L717 315.5L719.3 316.5L721.6 317.4L723.9 318.3L726.3 319.2L728.7 320.1L731 320.9L733.5 321.7L735.9 322.5L738.3 323.3L740.7 324L743.2 324.8L745.6 325.6L748.1 326.3L750.5 327.1L753 327.8L755.4 328.6L757.9 329.3L760.3 330.1L762.8 330.9L765.2 331.7L767.6 332.5L770 333.4L772.4 334.2L774.8 335.1L777.1 336L779.5 336.9L781.8 337.9L784.1 338.9L786.3 339.9L788.6 341L790.8 342.1L793 343.3L795.1 344.5L797.3 345.7L799.3 347L801.4 348.4L803.4 349.8" fill="none" stroke="#000" stroke-width="4.2" stroke-linecap="butt" stroke-linejoin="round"/>
<path d="M827.5 364.7 807.2 344.5 798.6 357Z" fill="#000"/>
<path d="M501.9 129.3L504.5 128L507.1 126.7L509.7 125.5L512.3 124.4L514.8 123.4L517.4 122.5L519.9 121.7L522.4 121L524.9 120.3L527.4 119.8L529.9 119.3L532.4 118.9L534.8 118.5L537.3 118.3L539.7 118.1L542.2 118L544.6 117.9L547 117.9L549.4 118L551.8 118.2L554.2 118.4L556.6 118.7L559 119L561.3 119.4L563.7 119.8L566 120.3L568.4 120.8L570.7 121.4L573 122.1L575.4 122.7L577.7 123.5L580 124.2L582.3 125L584.6 125.9L586.9 126.7L589.1 127.6L591.4 128.6L593.7 129.6L596 130.5L598.2 131.6L600.5 132.6L602.7 133.7L605 134.8L607.2 135.9L609.4 137L611.7 138.1L613.9 139.3L616.1 140.5L618.4 141.7L620.6 142.9L622.8 144.1L625 145.3L627.2 146.6L629.4 147.8L631.6 149.1L633.9 150.3L636.1 151.6L638.3 152.8L640.5 154.1L642.7 155.4L644.9 156.7L647.1 157.9L649.3 159.2L651.5 160.5L653.7 161.8L655.9 163L658.1 164.3L660.4 165.5L662.6 166.8L664.8 168L667 169.3L669.2 170.5L671.4 171.7L673.7 172.9L675.9 174L678.1 175.2L680.4 176.3L682.6 177.5L684.9 178.6L687.1 179.7L689.4 180.7L691.6 181.8L693.9 182.8L696.2 183.8L698.4 184.8L700.7 185.7L703 186.7L705.3 187.6L707.6 188.4L709.9 189.2L712.2 190L714.6 190.8L716.9 191.5L719.2 192.2L721.6 192.9L723.9 193.5L726.3 194.1L728.7 194.7L731.1 195.2L733.5 195.7L735.9 196.1L738.3 196.5L740.7 196.9L743.1 197.2L745.5 197.5L748 197.8L750.4 198L752.8 198.3L755.3 198.5L757.8 198.6L760.2 198.7L762.7 198.9L765.2 198.9L767.7 199L770.2 199L772.6 199.1L775.1 199.1L777.7 199L780.2 199L782.7 198.9L785.2 198.9L787.7 198.8L790.2 198.6L792.8 198.5L795.3 198.4L797.8 198.2L800.4 198.1L802.9 197.9L805.5 197.7L808 197.5L810.6 197.3L813.1 197.1L815.7 196.9L818.2 196.6L820.8 196.4L823.3 196.2L825.9 195.9L828.4 195.7L831 195.5L833.6 195.2L836.1 195L838.7 194.8L841.2 194.5L843.8 194.3L846.4 194.1L848.9 193.8L851.5 193.6L854 193.4L856.6 193.2L859.1 193L861.7 192.8L864.2 192.6L866.8 192.5L869.3 192.3L871.9 192.2L874.4 192.1L877 192L879.5 191.9L882 191.8L884.6 191.7L887.1 191.7L889.6 191.7L892.1 191.7L894.6 191.7L897.1 191.7L899.6 191.8L902.1 191.9L904.6 192L907.1 192.1L909.6 192.3L912.1 192.5L914.6 192.7L917 193L919.5 193.2L922 193.5L924.4 193.9L926.8 194.3L929.3 194.7L931.7 195.1L934.1 195.6L936.6 196.1L939 196.6L941.4 197.1L943.8 197.7L946.1 198.3L948.5 199L950.9 199.7L953.3 200.3L955.6 201.1L958 201.8L960.3 202.6L962.7 203.4L965 204.2L967.3 205.1L969.6 206L971.9 206.9L974.2 207.8L976.5 208.8L978.8 209.7L981.1 210.7L983.4 211.8L985.6 212.8L987.9 213.9L990.1 215L992.4 216.1L994.6 217.2L996.8 218.4L999 219.6L1001.2 220.8L1003.4 222L1005.6 223.3L1007.8 224.5L1010 225.8L1012.2 227.1L1014.3 228.4L1016.5 229.7L1018.6 231.1L1020.7 232.5L1022.8 233.9L1025 235.3L1027.1 236.7L1029.1 238.1L1031.2 239.6L1033.3 241.1L1035.4 242.5L1037.4 244L1039.5 245.6L1041.5 247.1L1043.5 248.6L1045.6 250.2L1047.6 251.8L1049.6 253.3" fill="none" stroke="#000" stroke-width="4.2" stroke-linecap="butt" stroke-linejoin="round"/>
<path d="M1071.2 268.8 1054.5 246.1 1044.8 259.7Z" fill="#000"/>
<circle cx="443.5" cy="266" r="142.5" fill="none" stroke="#000" stroke-width="13"/>
<path d="M89.8 609.2L184.7 555.9" fill="none" stroke="#000" stroke-width="2" stroke-linecap="butt"/>
<path d="M145 578.2 116 585 124 598.6Z" fill="#000"/>
<path d="M445.6 584.4L399.7 704.7" fill="none" stroke="#000" stroke-width="2" stroke-linecap="butt"/>
<path d="M422 642.7 404.7 665 420.3 671.2Z" fill="#000"/>
<path d="M710.7 348.5L798.4 382.3" fill="none" stroke="#000" stroke-width="2" stroke-linecap="butt"/>
<path d="M732 357.2 759.6 361 754.6 374.8Z" fill="#000"/>
<path d="M960 240Q1010 258 1060.6 293.6" fill="none" stroke="#000" stroke-width="2" stroke-linecap="butt"/>
<path d="M995.5 255.2 1024.2 261.2 1015.8 273.3Z" fill="#000"/>
<path d="M369.8 97.2L387.5 137" fill="none" stroke="#000" stroke-width="2" stroke-linecap="butt"/>
<path d="M393.2 151 382.6 135.6 390.8 132.4Z" fill="#fff" stroke="#000" stroke-width="1.5" stroke-linejoin="miter"/>
<path d="M256.6 627.3L194 589" fill="none" stroke="#000" stroke-width="2" stroke-linecap="butt"/>
<path d="M180.5 580.7 191.5 593.2 198.8 585.6Z" fill="#fff" stroke="#000" stroke-width="1.8" stroke-linejoin="miter"/>
<path d="M316.2 639.5L368.3 630.6" fill="none" stroke="#000" stroke-width="2" stroke-linecap="butt"/>
<path d="M386.9 627.7 367.9 626.6 368.8 635.1Z" fill="#fff" stroke="#000" stroke-width="1.8" stroke-linejoin="miter"/>
<path d="M607.8 519.8L583 505.5" fill="none" stroke="#000" stroke-width="2" stroke-linecap="butt"/>
<path d="M567.2 497.2 586.5 501.5 580.7 509.7Z" fill="#fff" stroke="#000" stroke-width="1.8" stroke-linejoin="miter"/>
<path d="M441 92L441 118" fill="none" stroke="#000" stroke-width="2" stroke-linecap="butt"/>
<path d="M441 74.4 436 93.9 446.5 93.9Z" fill="#000"/>
<ellipse cx="441" cy="103.2" rx="23.7" ry="5.6" fill="none" stroke="#000" stroke-width="2"/>
<path d="M447.8 109.2 432.8 104.4 433.2 114Z" fill="#000"/>
<circle cx="691.4" cy="412.6" r="13" fill="#000"/>
<text x="14" y="40.3" font-size="41">(a)</text>
<text x="346" y="92" font-size="31.5" font-weight="bold">M</text>
<text x="429.6" y="67.8" font-size="30.5" font-weight="bold">R</text>
<text x="274.5" y="652.2" font-size="31" font-weight="bold">B</text>
<text x="673.5" y="460.8" font-size="31">Earth</text>
<text x="619.1" y="532" font-size="31">HCS</text>
<defs><clipPath id="pc"><rect x="1198" y="38.8" width="848.2" height="606.7"/></clipPath></defs>
<path d="M1257.5 46.8V645.5" stroke="#7fea86" stroke-width="1.4" stroke-dasharray="12.7 12.75" fill="none"/>
<path d="M1421.3 46.8V645.5" stroke="#b8393b" stroke-width="1.6" stroke-dasharray="12.7 12.75" fill="none"/>
<path d="M1583.8 46.8V645.5" stroke="#5b5bf5" stroke-width="1.9" stroke-dasharray="12.7 12.75" fill="none"/>
<path d="M1709.5 46.8V645.5" stroke="#7fea86" stroke-width="1.4" stroke-dasharray="12.7 12.75" fill="none"/>
<path d="M1808.3 46.8V645.5" stroke="#b8393b" stroke-width="1.6" stroke-dasharray="12.7 12.75" fill="none"/>
<path d="M1888.9 46.8V645.5" stroke="#5b5bf5" stroke-width="1.9" stroke-dasharray="12.7 12.75" fill="none"/>
<g clip-path="url(#pc)" fill="none" stroke-width="1.25" stroke-linejoin="round">
<path stroke="#1890f8" d="M1273 645.9l0.6 -24l0.6 -26.7l0.6 -29.3l0.6 -23.5l0.6 -12.7l0.6 -10.3l0.6 -13.3l0.6 -10.8l0.6 -16.2l0.6 -6.6l0.6 -14.6l0.6 -10.8l0.6 -13.1l0.6 -12.4l0.6 -17.9l0.6 -20l0.6 -21.9l0.6 -20.3l0.6 -9.7l0.6 -7.7l0.6 -6.7l0.6 -3.6l0.6 -7.3l0.6 -7.4l0.6 -4.6l0.6 -5.4l0.6 -6.7l0.6 -6.5l0.6 -5.2l0.6 -6l0.6 -8.2l0.6 -7.5l0.6 -3.7l0.6 -4.6l0.6 -5.9l0.6 -3.9l0.6 -4.5l0.6 -6.2l0.6 -5.4l0.6 -3.7l0.6 -4.9l0.6 -3.9l0.6 -6.6l0.6 -3.4l0.6 -4.3l0.6 -4.9l0.6 -2.3l0.6 -3.8l0.6 -5.3l0.6 -2.2l0.6 -4.7l0.6 -4.6l0.6 -4.6l0.6 -4.1l0.6 -6.4l0.6 -2.6l0.6 -4.6l0.6 -6.4l0.6 -2.8l0.6 -4.2l0.6 1.4l0.6 -6.7l0.6 -0.9l0.6 -0.9l0.6 -6.3l0.6 1.8l0.6 -4.7l0.6 0.7l0.6 -3.6l0.6 4.9l0.6 -2.4l0.6 -2.5l0.6 2.2l0.6 1.4l0.6 1.6l0.6 -11.4l0.6 7.3l0.6 -1.9l0.6 -2.3l0.6 -3.5l0.6 6.2l0.6 -9l0.6 5.1l0.6 1.3l0.6 -10.3l0.6 3l0.6 -4l0.6 3.9l0.6 3.7l0.6 1.1l0.6 -12.5l0.6 3.4l0.6 3.4l0.6 2.6l0.6 -3.8l0.6 -4.1l0.6 2.8l0.6 -1.5l0.6 -1l0.6 -2.3l0.6 3.2l0.6 -0.6l0.6 -2.2l0.6 -0.7l0.6 -4l0.6 2.2l0.6 4.5l0.6 -5l0.6 -4.2l0.6 8.1l0.6 -2.6l0.6 4.6l0.6 -6.2l0.6 -2l0.6 -3.2l0.6 8.8l0.6 4l0.6 -10.2l0.6 0.8l0.6 4.1l0.6 -4.1l0.6 1.2l0.6 -0.1l0.6 2.1l0.6 3.6l0.6 -2.8l0.6 3.1l0.6 -3.6l0.6 2l0.6 -7.7l0.6 2.1l0.6 7.4l0.6 -4l0.6 3.5l0.6 0.9l0.6 2.4l0.6 -1.1l0.6 0.5l0.6 -3.3l0.6 -1.4l0.6 0l0.6 1.2l0.6 -1.4l0.6 1.9l0.6 0.7l0.6 0.7l0.6 -1.7l0.6 -5.1l0.6 5.5l0.6 0.5l0.6 2.4l0.6 -2.1l0.6 -4.5l0.6 -0.6l0.6 8.3l0.6 -4.2l0.6 2.9l0.6 0.3l0.6 -9.4l0.6 3.5l0.6 -0.8l0.6 -0.6l0.6 -1.2l0.6 -1.7l0.6 -0.9l0.6 -5.6l0.6 2.8l0.6 -2.6l0.6 1.4l0.6 -2.5l0.6 2.4l0.6 -0.7l0.6 -3.3l0.6 -1.8l0.6 -2.4l0.6 -2.7l0.6 -0.7l0.6 -2.3l0.6 2.3l0.6 0.2l0.6 2.5l0.6 -4.3l0.6 7.3l0.6 -4.4l0.6 0.3l0.6 2.5l0.6 -0.2l0.6 3.4l0.6 -1.8l0.6 -0.1l0.6 1.8l0.6 7.5l0.6 -2.8l0.6 -2.5l0.6 4.3l0.6 -3.4l0.6 11.3l0.6 -8.4l0.6 7.7l0.6 1.6l0.6 -4.6l0.6 5.4l0.6 1.4l0.6 -1.8l0.6 -1l0.6 1.6l0.6 -3l0.6 0l0.6 -2l0.6 1.7l0.6 -5.4l0.6 4.8l0.6 -4.4l0.6 -2l0.6 3.6l0.6 3.6l0.6 -2.9l0.6 -4.8l0.6 4.3l0.6 -3.2l0.6 1.4l0.6 0.8l0.6 -6.9l0.6 7.4l0.6 -4l0.6 1.2l0.6 -2.3l0.6 -0.2l0.6 1.6l0.6 5.4l0.6 2.5l0.6 -5.8l0.6 3l0.6 -4.2l0.6 -4.8l0.6 6.7l0.6 1.9l0.6 -1.9l0.6 3l0.6 1.5l0.6 -3.5l0.6 -1.2l0.6 4.6l0.6 1l0.6 0.7l0.6 4.5l0.6 2.6l0.6 -6l0.6 3.9l0.6 1.4l0.6 -0.3l0.6 1.3l0.6 -4.1l0.6 3.7l0.6 4.2l0.6 -3.3l0.6 -4.2l0.6 4l0.6 2.3l0.6 -2.6l0.6 -2.9l0.6 6.8l0.6 -9.1l0.6 5.8l0.6 -1.8l0.6 -3.6l0.6 7.9l0.6 -2.3l0.6 -4.7l0.6 5.8l0.6 -2.9l0.6 -4.2l0.6 4.1l0.6 3.8l0.6 1.6l0.6 -0.6l0.6 -0.2l0.6 2.1l0.6 -1.9l0.6 4.7l0.6 -3l0.6 1.3l0.6 0.8l0.6 -4.4l0.6 1.8l0.6 7.2l0.6 -3.7l0.6 -1.5l0.6 2.6l0.6 -2.4l0.6 2.6l0.6 -2.6l0.6 3.2l0.6 -5.5l0.6 9.7l0.6 -5.2l0.6 -3.4l0.6 4.5l0.6 0.4l0.6 2.2l0.6 -4.3l0.6 5.4l0.6 10.8l0.6 -15.4l0.6 5.9l0.6 -1.2l0.6 2l0.6 -6.4l0.6 2.7l0.6 5.8l0.6 -1l0.6 5.8l0.6 -7.3l0.6 3.5l0.6 9.2l0.6 -11.5l0.6 0.3l0.6 2.7l0.6 -0.2l0.6 3.9l0.6 -1.6l0.6 -2.6l0.6 3.9l0.6 8.7l0.6 -4.1l0.6 -12.6l0.6 9.3l0.6 -1.9l0.6 5.7l0.6 -2l0.6 7.9l0.6 -2.5l0.6 0.4l0.6 -1.9l0.6 -0.2l0.6 2l0.6 3.7l0.6 -1.7l0.6 -2.4l0.6 6.1l0.6 -3.6l0.6 -1.6l0.6 -3.2l0.6 0.2l0.6 -0.7l0.6 -7.6l0.6 12.5l0.6 -1.6l0.6 -3.3l0.6 4.1l0.6 -2.5l0.6 -1l0.6 -9.5l0.6 6.7l0.6 2.7l0.6 3.5l0.6 0.9l0.6 -1.4l0.6 -9.3l0.6 -3.9l0.6 9.1l0.6 -1.9l0.6 2.7l0.6 -4l0.6 0.9l0.6 -6.3l0.6 6.7l0.6 -2.9l0.6 2.9l0.6 0.3l0.6 -1.7l0.6 1.9l0.6 -0.5l0.6 2.7l0.6 -0.6l0.6 -3.4l0.6 0.3l0.6 8.6l0.6 -5.6l0.6 4l0.6 -1.5l0.6 -2.7l0.6 -0.2l0.6 3.6l0.6 0.7l0.6 1.2l0.6 -6.1l0.6 2.8l0.6 1.9l0.6 6.4l0.6 -13.2l0.6 9.6l0.6 -3.4l0.6 4l0.6 -3l0.6 3.1l0.6 4.3l0.6 -3.3l0.6 1.1l0.6 0.3l0.6 -2.1l0.6 6.5l0.6 -0.8l0.6 0.2l0.6 4.7l0.6 1.5l0.6 4.8l0.6 -0.7l0.6 -1.1l0.6 7.1l0.6 -1.5l0.6 1l0.6 -1.8l0.6 -2.3l0.6 -0.8l0.6 0.5l0.6 4.2l0.6 -2.5l0.6 -5.4l0.6 6.1l0.6 -4.9l0.6 6.2l0.6 -4.5l0.6 -0.1l0.6 5.5l0.6 -0.7l0.6 -5.3l0.6 9.2l0.6 5l0.6 -12.6l0.6 12.2l0.6 -8.9l0.6 0.6l0.6 1.8l0.6 -4.2l0.6 10.5l0.6 -2.5l0.6 -4l0.6 2.2l0.6 -4.2l0.6 4.4l0.6 5.4l0.6 -9.1l0.6 4.7l0.6 2.6l0.6 3.3l0.6 1.5l0.6 -6.6l0.6 -0.9l0.6 4.4l0.6 -2.9l0.6 0.4l0.6 5.5l0.6 2.3l0.6 -5.4l0.6 -2l0.6 3.5l0.6 -8.7l0.6 6.9l0.6 -3.8l0.6 12.8l0.6 -6.2l0.6 -1.9l0.6 -0.9l0.6 -7.9l0.6 11.7l0.6 3.7l0.6 -7.9l0.6 6.1l0.6 -0.4l0.6 -8.2l0.6 9.6l0.6 1.2l0.6 -3.7l0.6 -0.6l0.6 4.8l0.6 -7.6l0.6 7.1l0.6 4.9l0.6 -7.1l0.6 9.5l0.6 -5.6l0.6 -7.9l0.6 5.6l0.6 -5l0.6 3.2l0.6 -7.6l0.6 6l0.6 -7.8l0.6 3.6l0.6 -4.3l0.6 0.5l0.6 4.8l0.6 -4.2l0.6 -2.9l0.6 -3.2l0.6 7.9l0.6 -2.4l0.6 -4.9l0.6 1.5l0.6 -4.8l0.6 -0.3l0.6 0.3l0.6 4.4l0.6 -0.4l0.6 -4.1l0.6 4.6l0.6 0l0.6 -2.9l0.6 2.7l0.6 -4.8l0.6 1l0.6 2l0.6 -2.2l0.6 3.6l0.6 -6.9l0.6 9.6l0.6 -7.6l0.6 2.6l0.6 -2.9l0.6 8.2l0.6 3.8l0.6 0.4l0.6 0l0.6 -7.8l0.6 3.8l0.6 2.5l0.6 -1l0.6 8.4l0.6 -2.2l0.6 0.4l0.6 3.5l0.6 -4.4l0.6 0.6l0.6 0.8l0.6 6.1l0.6 -0.1l0.6 1.4l0.6 -0.5l0.6 -11.6l0.6 0.4l0.6 0.4l0.6 -8l0.6 1.3l0.6 5.1l0.6 -0.3l0.6 -0.1l0.6 -3.9l0.6 -1.7l0.6 4.7l0.6 -4.9l0.6 3.3l0.6 4.8l0.6 -5.1l0.6 -0.3l0.6 3.3l0.6 3.2l0.6 -0.1l0.6 -1.4l0.6 1.3l0.6 -8.1l0.6 2.5l0.6 3.6l0.6 -4.2l0.6 -1.4l0.6 0.7l0.6 1.2l0.6 3.3l0.6 -2.9l0.6 4.5l0.6 5.4l0.6 -6.3l0.6 5.4l0.6 -3.5l0.6 -5.2l0.6 3.1l0.6 -2.6l0.6 6.7l0.6 -7.2l0.6 9.3l0.6 -2.9l0.6 -9.6l0.6 10.2l0.6 2.9l0.6 -8.6l0.6 5.8l0.6 -10.4l0.6 7.5l0.6 -6.6l0.6 7.1l0.6 -8.2l0.6 -3.3l0.6 10.9l0.6 6.9l0.6 -10.2l0.6 5.5l0.6 -2.6l0.6 -1.1l0.6 4l0.6 3.9l0.6 -10.3l0.6 6.3l0.6 -0.2l0.6 -6.2l0.6 11.1l0.6 1l0.6 -10.1l0.6 10.5l0.6 -5.7l0.6 -0.2l0.6 6.5l0.6 -5.2l0.6 -0.1l0.6 3.3l0.6 -1.5l0.6 -1.9l0.6 -9.5l0.6 -1.4l0.6 9.3l0.6 -8l0.6 3.2l0.6 -4.8l0.6 2.7l0.6 -5.1l0.6 9.6l0.6 -10.1l0.6 3.3l0.6 -1l0.6 4.4l0.6 -9.7l0.6 4.9l0.6 -0.8l0.6 2.2l0.6 -0.7l0.6 -4.2l0.6 2.3l0.6 0.2l0.6 5l0.6 -0.5l0.6 -0.3l0.6 4.7l0.6 3.3l0.6 9.1l0.6 -8.4l0.6 5l0.6 5.9l0.6 -11.4l0.6 3.1l0.6 1.5l0.6 2.3l0.6 8.3l0.6 -9.1l0.6 1.4l0.6 -7.5l0.6 -7.5l0.6 3.7l0.6 15.3l0.6 -0.4l0.6 -2.6l0.6 11.9l0.6 -3.3l0.6 7.8l0.6 5.4l0.6 3l0.6 5l0.6 7.1l0.6 -0.4l0.6 6.9l0.6 -10l0.6 6.5l0.6 -4l0.6 -3.3l0.6 -3.2l0.6 3.6l0.6 -10l0.6 4.7l0.6 -1.6l0.6 3.4l0.6 -8.3l0.6 11.1l0.6 -9.3l0.6 -4l0.6 9.3l0.6 0l0.6 -8l0.6 -3.8l0.6 2.8l0.6 -3l0.6 2.2l0.6 7.5l0.6 -4.5l0.6 -0.8l0.6 1.4l0.6 -1l0.6 3.8l0.6 0.3l0.6 -4.4l0.6 2l0.6 10.9l0.6 -6.4l0.6 -0.4l0.6 10.2l0.6 -6.7l0.6 -2.3l0.6 8.5l0.6 -5.2l0.6 2.6l0.6 4.7l0.6 0l0.6 -1.3l0.6 2.9l0.6 1.3l0.6 8.7l0.6 -6.2l0.6 1.7l0.6 11.3l0.6 -10.7l0.6 8.7l0.6 0l0.6 -5.7l0.6 -4.9l0.6 7.6l0.6 1.2l0.6 1.2l0.6 -3.2l0.6 4.9l0.6 1l0.6 -8.9l0.6 10.5l0.6 -4.5l0.6 -2.7l0.6 1.8l0.6 10.2l0.6 -2.8l0.6 -10.6l0.6 8.6l0.6 0.3l0.6 1.5l0.6 0.5l0.6 -2.2l0.6 11.6l0.6 -5.2l0.6 4.6l0.6 0.4l0.6 -0.2l0.6 6.4l0.6 -1.1l0.6 -4.6l0.6 -0.9l0.6 2.1l0.6 6.5l0.6 -3.3l0.6 0.9l0.6 -2.2l0.6 0.6l0.6 2.1l0.6 -8.5l0.6 15l0.6 -10l0.6 1.1l0.6 8.3l0.6 -4.2l0.6 -1.3l0.6 -3l0.6 -4.4l0.6 7.8l0.6 4.1l0.6 -9.4l0.6 10.2l0.6 -11.3l0.6 1.8l0.6 5.4l0.6 -2.6l0.6 2.7l0.6 -6.8l0.6 -1.1l0.6 -3.5l0.6 2.9l0.6 0.4l0.6 -1.5l0.6 7.6l0.6 -3.9l0.6 -5.4l0.6 19.8l0.6 -14.6l0.6 -1.6l0.6 11.1l0.6 -0.6l0.6 -9.7l0.6 -1.5l0.6 2.4l0.6 9.1l0.6 -5.7l0.6 -1.4l0.6 3.4l0.6 5.4l0.6 -11.3l0.6 5.1l0.6 -4.1l0.6 15.9l0.6 -0.9l0.6 -3.8l0.6 -4.1l0.6 3.5l0.6 -11.5l0.6 10.5l0.6 -7.2l0.6 0.3l0.6 3.3l0.6 2.2l0.6 4.4l0.6 1.4l0.6 -1l0.6 -4.6l0.6 8.4l0.6 -2.9l0.6 7l0.6 -8.4l0.6 -7.5l0.6 10.8l0.6 11.3l0.6 -8l0.6 -3.2l0.6 4.6l0.6 -2.2l0.6 -0.9l0.6 -4.9l0.6 1.6l0.6 -0.2l0.6 -4.2l0.6 -3l0.6 5.1l0.6 3.3l0.6 -2.1l0.6 -1.2l0.6 -0.9l0.6 8.7l0.6 -10.5l0.6 3.1l0.6 3.9l0.6 -8.8l0.6 1.2l0.6 3l0.6 2.7l0.6 -6.5l0.6 0.1l0.6 -1.2l0.6 -5.8l0.6 10.5l0.6 -6l0.6 -6.6l0.6 6.6l0.6 -6.9l0.6 4.7l0.6 5.9l0.6 -1.9l0.6 10.6l0.6 -9.1l0.6 9.5l0.6 3l0.6 6l0.6 -1.7l0.6 -3.9l0.6 -1.1l0.6 -0.7l0.6 4.7l0.6 -8.3l0.6 3.6l0.6 -8.1l0.6 -4.3l0.6 -5.3l0.6 -2.1l0.6 -7.7l0.6 -2.7l0.6 -1.9l0.6 0l0.6 -3.1l0.6 -2l0.6 -0.3l0.6 -12.4l0.6 4.3l0.6 -7l0.6 3.4l0.6 -8.4l0.6 -1.7l0.6 1.2l0.6 3.7l0.6 -5.7l0.6 -4.1l0.6 2.4l0.6 -11.6l0.6 -6.2l0.6 4.1l0.6 -1.5l0.6 3.1l0.6 2.5l0.6 -14.6l0.6 13.3l0.6 -5.2l0.6 -4.2l0.6 -3.3l0.6 6.2l0.6 -10.5l0.6 -3.5l0.6 0.7l0.6 -6.5l0.6 5l0.6 -3.3l0.6 -0.1l0.6 -1.1l0.6 -6.9l0.6 7.3l0.6 -9.7l0.6 7.7l0.6 -7.7l0.6 8.9l0.6 -3.2l0.6 4.3l0.6 -1.7l0.6 -4.1l0.6 5.7l0.6 5.6l0.6 2.8l0.6 -7.2l0.6 -1.4l0.6 5.4l0.6 3.3l0.6 -1.2l0.6 -2.4l0.6 4.9l0.6 -0.6l0.6 -2.4l0.6 -7.7l0.6 2.5l0.6 0.9l0.6 -2.8l0.6 11l0.6 -1l0.6 -0.4l0.6 9.6l0.6 -2.4l0.6 0.6l0.6 0.9l0.6 -1.8l0.6 -7.1l0.6 3.1l0.6 5.5l0.6 -6.4l0.6 3.5l0.6 1.9l0.6 4.3l0.6 -0.5l0.6 -1.9l0.6 -5.1l0.6 3.8l0.6 -1.5l0.6 -3.3l0.6 5.2l0.6 -3.7l0.6 -5.3l0.6 7l0.6 -6.2l0.6 2.1l0.6 -8.9l0.6 5l0.6 -4.5l0.6 -0.3l0.6 -4.6l0.6 14.2l0.6 -14.8l0.6 -5.2l0.6 -4.9l0.6 -6.6l0.6 -5.2l0.6 -7.4l0.6 0.4l0.6 -3.9l0.6 1.6l0.6 -2.2l0.6 -7.1l0.6 -2.6l0.6 1.1l0.6 5l0.6 -2.4l0.6 -1.4l0.6 -9.1l0.6 -2.7l0.6 7l0.6 2.5l0.6 1.1l0.6 5.3l0.6 -0.4l0.6 -1.1l0.6 3.2l0.6 7.4l0.6 3.5l0.6 3.7l0.6 5.9l0.6 1.3l0.6 4.6l0.6 -2.9l0.6 2.9l0.6 3.8l0.6 1l0.6 -1.9l0.6 2.1l0.6 -1l0.6 -6.5l0.6 -4.7l0.6 19.7l0.6 -6.1l0.6 -3.2l0.6 -5.9l0.6 1.5l0.6 8.6l0.6 -16.9l0.6 6.5l0.6 0.3l0.6 -7.8l0.6 -31.8l0.6 -33l1.2 34.7l0.6 7l0.6 6.4l0.6 8l0.6 7.4l0.6 5.2l0.6 7.4l0.6 5.1l0.6 5.8l0.6 6.5l0.6 4.4l0.6 4.1l0.6 2.3l0.6 2.8l0.6 0.2l0.6 7.1l0.6 6.7l0.6 3.7l0.6 -4.5l0.6 9l0.6 1.1l0.6 2.2l0.6 1.3l0.6 1.1l0.6 5.3l0.6 -1.6l0.6 -1.1l0.6 -5.2l0.6 3l0.6 -3.4l0.6 -9.8l0.6 8.4l0.6 -4.6l0.6 5.3l0.6 -3.1l0.6 2l0.6 2.4l0.6 0.2l0.6 -1.1l0.6 -4.3l0.6 16.8l0.6 -12.4l0.6 6.9l0.6 6.2l0.6 1.5l0.6 3.2l0.6 2.7l0.6 4.3l0.6 -2.3l0.6 13.4l0.6 -15.3l0.6 7.4l0.6 -0.8l0.6 1.1l0.6 5.7l0.6 7.1l0.6 -8.4l0.6 4l0.6 7.6l0.6 9.8l0.6 8.7l0.6 2.8l0.6 2.9l0.6 2.4l0.6 4.2l0.6 -1.6l0.6 -5.6l0.6 7.7l0.6 -0.4l0.6 0l0.6 -0.7l0.6 12l0.6 -4.2l0.6 2.8l0.6 -6.5l0.6 -0.8l0.6 5.5l0.6 5.1l0.6 -1.8l0.6 2.1l0.6 7.9l0.6 -2.4l0.6 -6.4l0.6 4.9l0.6 -0.4l0.6 6.4l0.6 -9l0.6 4.5l0.6 4.1l0.6 -5.2l0.6 -7.1l0.6 0.3l0.6 3.4l0.6 1.4l0.6 0.6l0.6 -7.4l0.6 -5.8l0.6 19.8l0.6 -5.4l0.6 2.7l0.6 1.4l0.6 -7.2l0.6 6.4l0.6 5.8l0.6 7.5l0.6 -4.7l0.6 -20l0.6 22l0.6 6.5l0.6 9l0.6 -2.1l0.6 12.1l0.6 -7.7l0.6 -1.1l0.6 -3.5l0.6 -16.8l0.6 15.4l0.6 -2.3l0.6 -9l0.6 7.6l0.6 -1.2l0.6 -6.9l0.6 2l0.6 -1.3l0.6 4.1l0.6 -4.9l0.6 7.7l0.6 -18.1l0.6 12.8l0.6 -9.9l0.6 10l0.6 8.4l0.6 -2.5l0.6 -0.3l0.6 2.3l0.6 13.4l0.6 -20.4l0.6 16.7l0.6 -18.6l0.6 9.1l0.6 6.1l0.6 -7.4l0.6 9.4l0.6 5.2l0.6 -15.1l0.6 9.6l0.6 -1.8l0.6 -12.6l0.6 15.1l0.6 -4.6l0.6 18.2l0.6 -18.1l0.6 22.6l0.6 -18.5l0.6 21.4l0.6 -11.2l0.6 -0.7l0.6 3.5l0.6 1.1l0.6 4.3l0.6 3.1l0.6 -18.6l0.6 -7.9l0.6 -12.7l0.6 20.8l0.6 10.8l0.6 -3.3l0.6 -1.4l0.6 -4.2l0.6 -2l0.6 3.6l0.6 6.3l0.6 -19.5l0.6 24l0.6 -19.7l0.6 12.8l0.6 -3.9l0.6 3l0.6 -6.3l0.6 -0.5l0.6 8.9l0.6 -7.9l0.6 34.8l0.6 -27.7l0.6 -2l0.6 1.6l0.6 -5.2l0.6 -13.2l0.6 22.1l0.6 6.1l0.6 -17.8l0.6 15.5l0.6 -11.8l0.6 11.9l0.6 3.8l0.6 1.3l0.6 0.4l0.6 -11.2l0.6 16.5l0.6 -13.3l0.6 7.7l0.6 3.3l0.6 -10.7l0.6 -10.5l0.6 19.8l0.6 -18.3l0.6 2.4l0.6 -2.4l0.6 20.5l0.6 -11.1l0.6 -22.2l0.6 31.9l0.6 13.8l0.6 -2.9l0.6 -25.3l0.6 6.4l0.6 4.4l0.6 3.5l0.6 -9.4l0.6 -11.9l0.6 20.6l0.6 -1.1l0.6 -21.1l0.6 10.7l0.6 7.4l0.6 -2.4l0.6 6.3l0.6 3.2l0.6 -2.2l0.6 -7l0.6 -13.6l0.6 23l0.6 9l0.6 7.1l0.6 -22.5l0.6 0.4l0.6 17.1l0.6 -0.3l0.6 -13.1l0.6 4.5l0.6 -17l0.6 15.9l0.6 -16.2l0.6 8.1l0.6 0.7l0.6 -3.9l0.6 -19.4l0.6 15.2l0.6 13.9l0.6 -4.2l0.6 -4.1l0.6 10.4l0.6 3l0.6 2.2l0.6 -19.4l0.6 10.1l0.6 -4.3l0.6 -6.7l0.6 -7.4l0.6 17.3l0.6 -9.1l0.6 37.3l0.6 -27.7l0.6 -1.5l0.6 -1.6l0.6 28.2"/>
<path stroke="#2aeac8" d="M1273 647.5l0.6 -29.8l0.6 -23l0.6 -29.6l0.6 -18.7l0.6 -14.2l0.6 -10.7l0.6 -14.1l0.6 -10.6l0.6 -10.4l0.6 -17.7l0.6 -9.1l0.6 -12.8l0.6 -13.1l0.6 -10l0.6 -20l0.6 -19.6l0.6 -22.5l0.6 -19.6l0.6 -10.3l0.6 -6.4l0.6 -5.9l0.6 -6.7l0.6 -4.9l0.6 -5.8l0.6 -6.1l0.6 -5.9l0.6 -5l0.6 -7.8l0.6 -5.3l0.6 -7.9l0.6 -6.7l0.6 -7.1l0.6 -3.7l0.6 -5.1l0.6 -5.7l0.6 -5.4l0.6 -2.6l0.6 -6.1l0.6 -6.7l0.6 -3.7l0.6 -5l0.6 -4.1l0.6 -5l0.6 -4.7l0.6 -2.2l0.6 -7.4l0.6 -3.7l0.6 -3.4l0.6 -4.2l0.6 -3.7l0.6 -4.1l0.6 -3.4l0.6 -6.7l0.6 -0.5l0.6 -6.5l0.6 -5.7l0.6 -4.3l0.6 -4.3l0.6 -6l0.6 -0.5l0.6 -7.5l0.6 -0.6l0.6 -4.5l0.6 -0.8l0.6 -0.4l0.6 -6.2l0.6 6.8l0.6 -9.5l0.6 2.2l0.6 1.2l0.6 1.2l0.6 -1.7l0.6 -1.5l0.6 1.2l0.6 -0.8l0.6 -4.2l0.6 4.3l0.6 -4.8l0.6 -2.6l0.6 2.7l0.6 -2l0.6 1.9l0.6 -0.8l0.6 -3.3l0.6 2.4l0.6 -1l0.6 -5.2l0.6 9.3l0.6 -6l0.6 -0.4l0.6 2.5l0.6 -7.5l0.6 1.9l0.6 4.6l0.6 -9.6l0.6 3.1l0.6 7.2l0.6 -3.8l0.6 -5.4l0.6 2.5l0.6 1.7l0.6 -5l0.6 1.7l0.6 0.7l0.6 -1.3l0.6 3.9l0.6 -5l0.6 -1.2l0.6 0.7l0.6 -1.8l0.6 -1.4l0.6 1.7l0.6 -1.4l0.6 7.5l0.6 1.1l0.6 -7.9l0.6 -7.5l0.6 7.1l0.6 2.8l0.6 -4.4l0.6 3.9l0.6 -0.3l0.6 -4.3l0.6 1.4l0.6 -2.3l0.6 1.5l0.6 -2.4l0.6 1.7l0.6 6.9l0.6 -4.7l0.6 4.8l0.6 -1.7l0.6 -5l0.6 4.7l0.6 -0.3l0.6 -2l0.6 2.4l0.6 5.4l0.6 0.7l0.6 -4.4l0.6 -0.5l0.6 2.1l0.6 1.4l0.6 2.7l0.6 -6.2l0.6 -0.8l0.6 2.6l0.6 -6.5l0.6 5.9l0.6 1l0.6 -7.7l0.6 8.1l0.6 -4.8l0.6 0.7l0.6 -0.2l0.6 0.1l0.6 0.3l0.6 -2.2l0.6 -5l0.6 7.8l0.6 -3.4l0.6 1.1l0.6 -1.3l0.6 2.5l0.6 -4.8l0.6 -2.2l0.6 9l0.6 -4.5l0.6 -2.7l0.6 -0.2l0.6 -0.7l0.6 -11.9l0.6 3.7l0.6 0.1l0.6 -0.1l0.6 -5.5l0.6 1l0.6 -5l0.6 1.8l0.6 -4.1l0.6 5.1l0.6 7.3l0.6 -7.7l0.6 6.6l0.6 -4.3l0.6 1.3l0.6 11.8l0.6 -9l0.6 3.8l0.6 -0.2l0.6 -5.5l0.6 8.6l0.6 3.8l0.6 -4.2l0.6 1.5l0.6 2.4l0.6 5.4l0.6 -4l0.6 6.2l0.6 0.8l0.6 -6.5l0.6 0.9l0.6 3.6l0.6 -3l0.6 5.2l0.6 1l0.6 -6.2l0.6 4.2l0.6 -1.1l0.6 -2.7l0.6 3.4l0.6 -4.7l0.6 2l0.6 -3.5l0.6 -1.3l0.6 7.2l0.6 -0.2l0.6 -4.9l0.6 2.5l0.6 -4.4l0.6 -1.2l0.6 3.5l0.6 2.8l0.6 -4.4l0.6 0.7l0.6 -0.8l0.6 -2.7l0.6 -2.8l0.6 5.4l0.6 -4.3l0.6 8.9l0.6 -4.3l0.6 1.6l0.6 0.7l0.6 -4.8l0.6 1l0.6 8.4l0.6 -1.6l0.6 0.3l0.6 3.5l0.6 -7.6l0.6 11.2l0.6 -1.6l0.6 1.9l0.6 2l0.6 4.2l0.6 -3.6l0.6 -1.9l0.6 -1.9l0.6 11.4l0.6 -14l0.6 5.1l0.6 0l0.6 -2.2l0.6 0.8l0.6 1.3l0.6 -3.3l0.6 3l0.6 2.8l0.6 -5.5l0.6 4.8l0.6 0.9l0.6 -0.8l0.6 0l0.6 0.5l0.6 -0.4l0.6 -0.3l0.6 5.2l0.6 -1.3l0.6 0.2l0.6 5.3l0.6 -1.5l0.6 -4.3l0.6 6.9l0.6 -4.9l0.6 3.8l0.6 -8.5l0.6 11.4l0.6 -6.2l0.6 -1.4l0.6 0.1l0.6 -4.6l0.6 4.6l0.6 1.9l0.6 8.3l0.6 -4.6l0.6 -1l0.6 5.3l0.6 -2l0.6 -3.2l0.6 -0.4l0.6 -1.8l0.6 5.3l0.6 -5.9l0.6 10l0.6 -7.7l0.6 5.8l0.6 3.2l0.6 -5.8l0.6 2.8l0.6 6.8l0.6 -7.1l0.6 4.9l0.6 0.3l0.6 -8.3l0.6 7.3l0.6 -5.1l0.6 5l0.6 0.6l0.6 3.2l0.6 -3.2l0.6 1l0.6 1.1l0.6 6.9l0.6 -6.5l0.6 5.6l0.6 -7.9l0.6 -1.5l0.6 5.4l0.6 -4.3l0.6 4.1l0.6 -0.1l0.6 8.5l0.6 -0.9l0.6 3l0.6 -3.7l0.6 -1.8l0.6 1.3l0.6 8.7l0.6 -9.7l0.6 3.2l0.6 -0.3l0.6 8l0.6 -2.6l0.6 4.3l0.6 2.3l0.6 6.6l0.6 -5.8l0.6 -12l0.6 0.2l0.6 6l0.6 5.2l0.6 -8.7l0.6 1.5l0.6 -4.1l0.6 2.4l0.6 2.4l0.6 -1.6l0.6 0.2l0.6 1.7l0.6 -4.2l0.6 -2.2l0.6 -6.7l0.6 4.9l0.6 8.1l0.6 -8.7l0.6 2l0.6 -1.1l0.6 2.7l0.6 2.2l0.6 -4.8l0.6 0l0.6 4.8l0.6 -7.5l0.6 6.2l0.6 -4.4l0.6 2.2l0.6 3.7l0.6 0l0.6 1.3l0.6 -5.2l0.6 2.6l0.6 -1.9l0.6 -0.8l0.6 2l0.6 2.6l0.6 -0.5l0.6 -0.7l0.6 -2.9l0.6 4l0.6 1.6l0.6 5.7l0.6 -7.5l0.6 4.8l0.6 -2.5l0.6 10.4l0.6 -6.9l0.6 3.8l0.6 -3.1l0.6 -5.6l0.6 0.7l0.6 3.5l0.6 -3.5l0.6 4.7l0.6 -3.5l0.6 1.8l0.6 -4l0.6 12.4l0.6 -10.8l0.6 3.6l0.6 0l0.6 6.1l0.6 6.3l0.6 0.3l0.6 -7.1l0.6 9.8l0.6 5.3l0.6 3l0.6 -6l0.6 -0.1l0.6 -4.3l0.6 15.1l0.6 -9.3l0.6 -0.2l0.6 -0.7l0.6 2.8l0.6 3.1l0.6 0.9l0.6 -5l0.6 -2.1l0.6 8.1l0.6 -5.8l0.6 9.9l0.6 -4.6l0.6 -3.4l0.6 7.4l0.6 -11.2l0.6 6.8l0.6 0.8l0.6 0.8l0.6 -4.6l0.6 4.4l0.6 1.8l0.6 1.5l0.6 -3.1l0.6 -4.6l0.6 7.9l0.6 -6.1l0.6 5.1l0.6 0.1l0.6 11.4l0.6 -10.4l0.6 -3.9l0.6 3.6l0.6 6l0.6 -3.8l0.6 8.2l0.6 -5.7l0.6 4.4l0.6 -0.9l0.6 -7.2l0.6 5.3l0.6 -3.4l0.6 4.4l0.6 -1.8l0.6 2.9l0.6 -3.3l0.6 2.2l0.6 -3.9l0.6 1.1l0.6 6.5l0.6 -4.9l0.6 -3.2l0.6 0.3l0.6 4.8l0.6 4.5l0.6 -5.3l0.6 2.2l0.6 -2.6l0.6 -0.8l0.6 2.8l0.6 -1.8l0.6 7.7l0.6 -5.5l0.6 2.7l0.6 -3.2l0.6 2.8l0.6 -3.6l0.6 5.6l0.6 -2l0.6 1.6l0.6 0.9l0.6 -8.5l0.6 -1.7l0.6 0.2l0.6 7.8l0.6 -5l0.6 3.4l0.6 -5l0.6 -6.5l0.6 3.7l0.6 -2.9l0.6 -4.7l0.6 4.5l0.6 0.9l0.6 3.7l0.6 -1.7l0.6 -8.9l0.6 0.2l0.6 5.6l0.6 -1.3l0.6 -2.4l0.6 0.6l0.6 4.8l0.6 -0.4l0.6 -6l0.6 0.2l0.6 1.2l0.6 -3.4l0.6 1.2l0.6 7.6l0.6 -1.5l0.6 -5.2l0.6 1.2l0.6 5.3l0.6 -7.3l0.6 -0.8l0.6 7l0.6 -1.5l0.6 -5.4l0.6 6.4l0.6 -2.5l0.6 2.5l0.6 8.8l0.6 -6.8l0.6 -0.8l0.6 -2.1l0.6 7.9l0.6 -3.1l0.6 3.9l0.6 4.7l0.6 -2.2l0.6 2.7l0.6 2.4l0.6 -9.9l0.6 6.1l0.6 -3.1l0.6 6.3l0.6 -4.9l0.6 1.1l0.6 -3.1l0.6 -4.2l0.6 -0.7l0.6 2.8l0.6 0.8l0.6 -4.8l0.6 -5.1l0.6 -2.8l0.6 10.5l0.6 -0.3l0.6 -5.7l0.6 2.6l0.6 4.5l0.6 -3.2l0.6 4.4l0.6 -2.4l0.6 -4.7l0.6 -2.6l0.6 8.3l0.6 -2.2l0.6 4.2l0.6 -3.9l0.6 2.7l0.6 -4.6l0.6 -5.7l0.6 6.6l0.6 -4.9l0.6 3.8l0.6 1.2l0.6 7.3l0.6 -7.8l0.6 7.3l0.6 -10l0.6 12.5l0.6 -13.8l0.6 5.1l0.6 9.1l0.6 -0.7l0.6 -4l0.6 -1.2l0.6 2.1l0.6 -6.9l0.6 5.6l0.6 4.6l0.6 -1.3l0.6 -13.2l0.6 9.8l0.6 -5.1l0.6 -2.6l0.6 -0.7l0.6 0.3l0.6 -2.6l0.6 10.4l0.6 -12.5l0.6 6.4l0.6 -1.3l0.6 8l0.6 -6l0.6 2.4l0.6 -4.4l0.6 3.9l0.6 3.9l0.6 -6.1l0.6 6.5l0.6 -1.7l0.6 1.7l0.6 0.9l0.6 1.5l0.6 -11.3l0.6 14.3l0.6 -9.4l0.6 -1.7l0.6 4.6l0.6 1.9l0.6 3.7l0.6 -8.3l0.6 8.9l0.6 -8.5l0.6 4.5l0.6 -8l0.6 4.7l0.6 -2.7l0.6 2.2l0.6 -1.3l0.6 -1.7l0.6 -3.4l0.6 1l0.6 -1.4l0.6 -4.1l0.6 -1.5l0.6 3.7l0.6 -0.7l0.6 2.3l0.6 1.6l0.6 0.8l0.6 -8.2l0.6 5l0.6 0.3l0.6 5.8l0.6 -2.1l0.6 6.3l0.6 1.5l0.6 4.8l0.6 1.8l0.6 -9.7l0.6 4.8l0.6 -0.7l0.6 2.9l0.6 4.9l0.6 -0.9l0.6 -2.3l0.6 5.3l0.6 -4.5l0.6 1.3l0.6 -0.2l0.6 6.9l0.6 0.9l0.6 0.5l0.6 1.7l0.6 3.9l0.6 -6l0.6 8.5l0.6 5.1l0.6 3.2l0.6 2.7l0.6 4.2l0.6 5.9l0.6 2.3l0.6 -8.7l0.6 3l0.6 0.8l0.6 2.3l0.6 -10.5l0.6 6.1l0.6 -4.8l0.6 -2l0.6 2.8l0.6 3l0.6 -8.4l0.6 -4.3l0.6 5.8l0.6 -5.2l0.6 -0.6l0.6 -0.6l0.6 0.4l0.6 5.1l0.6 -3.2l0.6 -1.6l0.6 1l0.6 -3l0.6 1.8l0.6 7.5l0.6 -5.1l0.6 -1.8l0.6 2l0.6 2.3l0.6 0l0.6 -1.9l0.6 1.4l0.6 -1.8l0.6 11.8l0.6 -3.4l0.6 2.8l0.6 -3.2l0.6 5.5l0.6 -5.3l0.6 0.8l0.6 13l0.6 -1.4l0.6 -4.5l0.6 -6.2l0.6 12.1l0.6 3.3l0.6 -5.3l0.6 5.1l0.6 -6l0.6 3.1l0.6 3.6l0.6 3.9l0.6 0.9l0.6 4.9l0.6 -4.2l0.6 -3.8l0.6 5l0.6 -1l0.6 -1l0.6 0.7l0.6 0.1l0.6 1l0.6 -12.4l0.6 17.9l0.6 -3.4l0.6 0.5l0.6 1.6l0.6 1.4l0.6 -3.2l0.6 10l0.6 -5.1l0.6 5.6l0.6 -5.2l0.6 2.1l0.6 4.2l0.6 3.2l0.6 9.1l0.6 -15.1l0.6 3.1l0.6 5.6l0.6 -0.2l0.6 9.7l0.6 -7.3l0.6 -3.3l0.6 -1.5l0.6 4.2l0.6 -4.6l0.6 9.5l0.6 7l0.6 -12.5l0.6 6.5l0.6 2l0.6 -2.8l0.6 -0.9l0.6 2.5l0.6 4.3l0.6 -7.7l0.6 -1.2l0.6 1.8l0.6 -3.3l0.6 11.3l0.6 -6.3l0.6 -1.8l0.6 3.3l0.6 -2.8l0.6 5.6l0.6 -14.8l0.6 4.8l0.6 9.3l0.6 0l0.6 -2l0.6 -0.6l0.6 3.2l0.6 -4.2l0.6 -1.6l0.6 2.9l0.6 -6.2l0.6 1.3l0.6 10.5l0.6 -1.8l0.6 -2.7l0.6 -3.1l0.6 6.2l0.6 -1.1l0.6 -5l0.6 2.1l0.6 2.1l0.6 -12.5l0.6 9.6l0.6 -5.9l0.6 2.4l0.6 6l0.6 1l0.6 -7.2l0.6 5.9l0.6 -1.6l0.6 8.1l0.6 -5.1l0.6 -4.4l0.6 5.1l0.6 4.4l0.6 -7.2l0.6 1.4l0.6 4.2l0.6 -6.9l0.6 8.6l0.6 -8.8l0.6 8.8l0.6 -3.5l0.6 2.6l0.6 -6.2l0.6 5.9l0.6 -1.7l0.6 -0.9l0.6 -3.4l0.6 7.9l0.6 -2.7l0.6 -5.2l0.6 3.7l0.6 1.6l0.6 0.8l0.6 3.7l0.6 -7.7l0.6 -1.7l0.6 -0.9l0.6 10l0.6 -11.3l0.6 -3.7l0.6 3.2l0.6 0.4l0.6 0.7l0.6 12.2l0.6 -4.7l0.6 -8.1l0.6 7.6l0.6 -5.7l0.6 5l0.6 6.3l0.6 -9.4l0.6 -2.8l0.6 5.6l0.6 -4.2l0.6 -5.6l0.6 2.3l0.6 0.6l0.6 3.2l0.6 1.6l0.6 1.1l0.6 2.3l0.6 -16.2l0.6 10.2l0.6 12.6l0.6 -3.3l0.6 -4.8l0.6 2.6l0.6 5.6l0.6 -4.5l0.6 8.9l0.6 -17.7l0.6 0.5l0.6 10.9l0.6 1.9l0.6 -6.4l0.6 -7.1l0.6 -4.8l0.6 -4.1l0.6 -2.8l0.6 -4.4l0.6 -3.4l0.6 -1.8l0.6 -7.4l0.6 -1.3l0.6 4.2l0.6 -14.4l0.6 3l0.6 -10.4l0.6 -5.1l0.6 15.6l0.6 -16.4l0.6 0.5l0.6 -8.8l0.6 6.7l0.6 -2l0.6 -5.1l0.6 4.3l0.6 -4.3l0.6 -0.7l0.6 -0.7l0.6 -2l0.6 -9.4l0.6 11l0.6 -1.3l0.6 -9l0.6 3l0.6 -11.2l0.6 13.3l0.6 -1.7l0.6 -7.5l0.6 3.4l0.6 2.8l0.6 -9.8l0.6 -4.1l0.6 1.4l0.6 5l0.6 0l0.6 -2.9l0.6 -1.2l0.6 7.2l0.6 -9.2l0.6 5.2l0.6 0.1l0.6 7.8l0.6 0.3l0.6 -7.1l0.6 11.1l0.6 -0.9l0.6 -4.7l0.6 -0.2l0.6 0.2l0.6 0.7l0.6 1.1l0.6 -7.9l0.6 16.6l0.6 -9.4l0.6 -2.2l0.6 3.4l0.6 3.1l0.6 -2.3l0.6 -3.9l0.6 3.9l0.6 6.9l0.6 -8.3l0.6 1.2l0.6 1.4l0.6 5.3l0.6 1l0.6 -8.2l0.6 4.8l0.6 8.4l0.6 -3.4l0.6 0.1l0.6 -2.2l0.6 -6.7l0.6 9.6l0.6 -5.3l0.6 -3.6l0.6 20.5l0.6 -5.5l0.6 -0.3l0.6 -1l0.6 -6.7l0.6 -5.7l0.6 6.3l0.6 2.9l0.6 -4.5l0.6 -6.9l0.6 -2.1l0.6 0.3l0.6 0l0.6 -2.5l0.6 -2.7l0.6 -5.4l0.6 -3.9l0.6 -4.2l0.6 -5.1l0.6 -4.2l0.6 -3.8l0.6 -10.7l0.6 1.7l0.6 5.2l0.6 -7.6l0.6 -2l0.6 -4.6l0.6 3.5l0.6 0.8l0.6 0.3l0.6 0.3l0.6 -1.7l0.6 -5.2l0.6 2.1l0.6 2.4l0.6 1.2l0.6 4.2l0.6 4.2l0.6 -1l0.6 3.9l0.6 -2.3l0.6 4.9l0.6 -4.5l0.6 11.7l0.6 -2.8l0.6 -1l0.6 -5.8l0.6 11.1l0.6 1.5l0.6 1.3l0.6 -0.4l0.6 6l0.6 0l0.6 5.1l0.6 -1.8l0.6 -1.5l0.6 0l0.6 1.1l0.6 -0.2l0.6 1.7l0.6 -4.5l0.6 -2.5l0.6 1.2l0.6 -9.4l0.6 -1.2l0.6 -1.7l0.6 -18.6l1.1 -39.6l0.7 11.1l0.6 12.1l0.6 5.7l0.6 7.9l0.6 4l0.6 5.7l0.6 4.2l0.6 5l0.6 5.6l0.6 5.6l0.6 6.6l0.6 3.6l0.6 3.2l0.6 5.4l0.6 3.2l0.6 5.9l0.6 3.6l0.6 2.4l0.6 -2.9l0.6 10.3l0.6 -3.1l0.6 10.9l0.6 1l0.6 12.5l0.6 -2.4l0.6 0.6l0.6 4.8l0.6 -6.1l0.6 8.4l0.6 -1.6l0.6 -2.7l0.6 -5l0.6 0.7l0.6 4.3l0.6 3.8l0.6 -3.7l0.6 1.8l0.6 -6.3l0.6 0.8l0.6 1.4l0.6 5.3l0.6 5.8l0.6 3.4l0.6 1.6l0.6 1l0.6 -4.5l0.6 9.2l0.6 4l0.6 -4.8l0.6 3.9l0.6 9.2l0.6 -1.1l0.6 7.1l0.6 -9l0.6 -0.9l0.6 16.2l0.6 1.1l0.6 -3.2l0.6 -1.8l0.6 6l0.6 8.8l0.6 5l0.6 5.8l0.6 2.1l0.6 8.6l0.6 -3.1l0.6 -10.8l0.6 13.9l0.6 1.2l0.6 0.2l0.6 -10.6l0.6 3.7l0.6 0.8l0.6 8.2l0.6 1.1l0.6 1.4l0.6 -7.9l0.6 11.3l0.6 5l0.6 5.1l0.6 -1.9l0.6 -5.9l0.6 3.2l0.6 0.5l0.6 4.1l0.6 -0.2l0.6 -5.8l0.6 11.7l0.6 2.4l0.6 -13.3l0.6 -0.6l0.6 13.9l0.6 -10l0.6 -3.2l0.6 -7.1l0.6 1.1l0.6 3.4l0.6 -16.4l0.6 18.6l0.6 3.6l0.6 -6.8l0.6 -2.1l0.6 -1.8l0.6 24l0.6 -9.2l0.6 -10.4l0.6 17.3l0.6 -1.9l0.6 -3.4l0.6 16l0.6 -7.8l0.6 16l0.6 -6.4l0.6 3.7l0.6 -5.4l0.6 -13.7l0.6 7.6l0.6 -0.2l0.6 9.5l0.6 9.2l0.6 -9.9l0.6 3.7l0.6 -9.5l0.6 1.8l0.6 -1.6l0.6 11.5l0.6 -26.5l0.6 22.3l0.6 2.6l0.6 2.8l0.6 1.4l0.6 -8.7l0.6 -0.8l0.6 -6.9l0.6 31.4l0.6 -8.6l0.6 -13.9l0.6 -0.8l0.6 14.5l0.6 -9.2l0.6 4.4l0.6 -15.3l0.6 0.3l0.6 27l0.6 -28.1l0.6 17.8l0.6 3.2l0.6 -0.1l0.6 -3.5l0.6 -18.3l0.6 15.8l0.6 -1l0.6 -4.5l0.6 -6.2l0.6 12.4l0.6 13.6l0.6 -15.6l0.6 1.8l0.6 18.9l0.6 -23.9l0.6 14.5l0.6 -19.3l0.6 1.2l0.6 11.1l0.6 1.4l0.6 0.7l0.6 -11.2l0.6 14.5l0.6 7l0.6 -26.5l0.6 20.5l0.6 -4.8l0.6 8.5l0.6 -1.3l0.6 0l0.6 10l0.6 -11.9l0.6 0.6l0.6 -6.9l0.6 0.9l0.6 12.1l0.6 -11.2l0.6 10.8l0.6 -9.7l0.6 13.2l0.6 -14.4l0.6 10.6l0.6 10.1l0.6 -20.4l0.6 -5.5l0.6 31.3l0.6 -14.9l0.6 -3.7l0.6 20.1l0.6 -19l0.6 0.9l0.6 11.9l0.6 -12.8l0.6 -15.6l0.6 19l0.6 -3.1l0.6 3.2l0.6 9.8l0.6 -12.4l0.6 -6.6l0.6 -1.1l0.6 -8l0.6 11l0.6 -6.4l0.6 10.9l0.6 4l0.6 8l0.6 -33.4l0.6 18.9l0.6 -6.2l0.6 7.9l0.6 -8.7l0.6 7.1l0.6 20.4l0.6 -19.6l0.6 -6.6l0.6 29.9l0.6 -17l0.6 -13.5l0.6 -5.6l0.6 1.3l0.6 24.8l0.6 -1.7l0.6 -9.3l0.6 22.4l0.6 -15.2l0.6 1l0.6 12.2l0.6 18.8l0.6 -43.2l0.6 9.2l0.6 -42.3l0.6 49.6l0.6 -3.2l0.6 -11.4l0.6 8.7l0.6 2.2l0.6 -4.6l0.6 -0.2l0.6 -18.9l0.6 33.4l0.6 -17.1l0.6 -15.1l0.6 26.3l0.6 -19.1l0.6 5.7l0.6 1.5l0.6 37.1l0.6 -12.8l0.6 -17.5l0.6 -4.4l0.6 12.7l0.6 -8.8l0.6 8.6l0.6 -18.6l0.6 7.2l0.6 18.6l0.6 -10.7l0.6 4l0.6 3.8l0.6 -7.8"/>
<path stroke="#a8ee3c" d="M1273 646.4l0.6 -27l0.6 -27.1l0.6 -29.4l0.6 -19.9l0.6 -10.7l0.6 -12l0.6 -14.7l0.6 -5.6l0.6 -14.7l0.6 -15.4l0.6 -11.9l0.6 -10.5l0.6 -13.9l0.6 -11.4l0.6 -17.6l0.6 -20.5l0.6 -22.7l0.6 -20.2l0.6 -10.7l0.6 -5.3l0.6 -5.8l0.6 -6.4l0.6 -4.6l0.6 -6.7l0.6 -5.8l0.6 -8.1l0.6 -5.3l0.6 -3l0.6 -4.4l0.6 -6.9l0.6 -3l0.6 -7.2l0.6 -5.2l0.6 -5.1l0.6 -4.7l0.6 -4.4l0.6 -6.3l0.6 -2.8l0.6 -7.3l0.6 -3.5l0.6 -5.6l0.6 -4.8l0.6 -4l0.6 -5.4l0.6 -3.4l0.6 -6.7l0.6 -3.7l0.6 -4.6l0.6 -4l0.6 -6.1l0.6 -6.5l0.6 -4.7l0.6 -6.4l0.6 -6.8l0.6 1.3l0.6 0.4l0.6 -8.3l0.6 3.9l0.6 -6.7l0.6 -4.9l0.6 1.9l0.6 -8.1l0.6 1.2l0.6 -2.5l0.6 3.5l0.6 -6.3l0.6 -3.2l0.6 4.5l0.6 -3.8l0.6 -0.5l0.6 0.1l0.6 5.4l0.6 -3.2l0.6 -3l0.6 11l0.6 -7.4l0.6 4.6l0.6 -3.5l0.6 -0.3l0.6 -7.9l0.6 0.3l0.6 3l0.6 -3.3l0.6 0.3l0.6 1.8l0.6 -10.8l0.6 4.8l0.6 4.6l0.6 -6.8l0.6 0.6l0.6 0.1l0.6 -1l0.6 -1.1l0.6 -5l0.6 3.2l0.6 -3.7l0.6 6.2l0.6 -7.2l0.6 1.8l0.6 -1.4l0.6 4.2l0.6 -3.6l0.6 1.4l0.6 -4.2l0.6 0.1l0.6 -1.8l0.6 2.1l0.6 -0.4l0.6 -2.7l0.6 -0.6l0.6 4.5l0.6 -1.3l0.6 -2l0.6 -1.1l0.6 -0.1l0.6 3.9l0.6 -1.4l0.6 0.4l0.6 0.8l0.6 0.6l0.6 0.4l0.6 1.3l0.6 -5.2l0.6 5l0.6 -2.4l0.6 2.7l0.6 5.4l0.6 -8.9l0.6 2.3l0.6 3.2l0.6 -4.7l0.6 14.5l0.6 -8.5l0.6 7.5l0.6 -4.4l0.6 4.1l0.6 -1l0.6 -3.1l0.6 3.5l0.6 -4l0.6 -0.4l0.6 6.1l0.6 -8.4l0.6 -0.7l0.6 10.6l0.6 -9.8l0.6 1.6l0.6 3.2l0.6 -6.4l0.6 -0.9l0.6 7.1l0.6 -6.3l0.6 0.7l0.6 -2l0.6 1.7l0.6 -6.2l0.6 5.2l0.6 2l0.6 -0.6l0.6 -4.7l0.6 2.9l0.6 3l0.6 -6.8l0.6 0.8l0.6 -4.1l0.6 -5.4l0.6 6.4l0.6 -6.1l0.6 -0.3l0.6 0.8l0.6 -1l0.6 -1.1l0.6 3l0.6 -3.8l0.6 -1.2l0.6 -4.2l0.6 5.1l0.6 -7.5l0.6 -2.5l0.6 4.8l0.6 5.7l0.6 -0.5l0.6 3.8l0.6 -1.8l0.6 1.2l0.6 0.8l0.6 -2.4l0.6 1.6l0.6 1.3l0.6 2.5l0.6 -2.2l0.6 2.4l0.6 3.4l0.6 0.3l0.6 0.5l0.6 1.1l0.6 -2.2l0.6 0.1l0.6 2.7l0.6 6.3l0.6 0.6l0.6 -1.1l0.6 2.6l0.6 0.9l0.6 -8.7l0.6 5.5l0.6 3.1l0.6 2.4l0.6 -5.6l0.6 4.1l0.6 -2.3l0.6 -3.8l0.6 -3.9l0.6 -0.6l0.6 2.2l0.6 -0.7l0.6 -1.3l0.6 1.4l0.6 0.3l0.6 -1.2l0.6 1.1l0.6 0l0.6 -6.6l0.6 1.9l0.6 5.2l0.6 1.5l0.6 -2l0.6 -0.5l0.6 2.1l0.6 0.9l0.6 -0.7l0.6 -6.6l0.6 7.4l0.6 1.6l0.6 -1.1l0.6 7.7l0.6 -10.4l0.6 -0.7l0.6 16.9l0.6 -12.4l0.6 -4.1l0.6 6.8l0.6 5.2l0.6 -3.9l0.6 1.9l0.6 3.6l0.6 3.7l0.6 -3.6l0.6 -1.5l0.6 -1.7l0.6 4.4l0.6 6.3l0.6 -12l0.6 0.7l0.6 2.5l0.6 3.4l0.6 -0.2l0.6 -2.5l0.6 -0.2l0.6 6.8l0.6 -2.2l0.6 3.1l0.6 -4.6l0.6 4.8l0.6 -5.8l0.6 9.6l0.6 -7.6l0.6 0.4l0.6 3.4l0.6 -1.7l0.6 -0.2l0.6 3.7l0.6 -3.5l0.6 8.3l0.6 -7.8l0.6 5.2l0.6 -5l0.6 -2.6l0.6 -1.2l0.6 8.3l0.6 -4l0.6 5l0.6 -2.4l0.6 2.7l0.6 1.1l0.6 6.1l0.6 -5.2l0.6 -3.6l0.6 -2.4l0.6 11.1l0.6 -2.1l0.6 4.6l0.6 -9.6l0.6 4.7l0.6 -1.3l0.6 5l0.6 -2.3l0.6 6.4l0.6 -5l0.6 0.9l0.6 -0.9l0.6 4.1l0.6 2.2l0.6 -1.3l0.6 -3.2l0.6 -1.3l0.6 1.2l0.6 4.1l0.6 -1.9l0.6 1.5l0.6 4.4l0.6 -1.9l0.6 -0.7l0.6 -2l0.6 1.2l0.6 0.3l0.6 1.7l0.6 -0.4l0.6 1.7l0.6 -1.7l0.6 7.7l0.6 -2.3l0.6 0.6l0.6 2.9l0.6 -5.4l0.6 0.6l0.6 0.2l0.6 3.7l0.6 5.3l0.6 -0.8l0.6 5.7l0.6 -9.5l0.6 7.1l0.6 -5.3l0.6 1.2l0.6 1.3l0.6 9.7l0.6 -3.4l0.6 3.6l0.6 -5.1l0.6 1.8l0.6 -0.2l0.6 -0.4l0.6 -2.3l0.6 2.7l0.6 -3.2l0.6 -0.6l0.6 -0.8l0.6 -3.1l0.6 -3.7l0.6 2.5l0.6 8.4l0.6 -5.5l0.6 -4.3l0.6 2.3l0.6 4l0.6 3.1l0.6 -13.1l0.6 0.6l0.6 -2.3l0.6 5.3l0.6 -1.4l0.6 7l0.6 -2.1l0.6 -4.1l0.6 9.5l0.6 -10.1l0.6 3.9l0.6 2.2l0.6 -5.8l0.6 4.6l0.6 1.1l0.6 -0.9l0.6 3.2l0.6 -2.6l0.6 -1.4l0.6 5.3l0.6 -4.5l0.6 3.3l0.6 -3.2l0.6 4l0.6 -1.4l0.6 -4.2l0.6 5.9l0.6 -2.8l0.6 7.8l0.6 -7.6l0.6 5.5l0.6 -10.2l0.6 7.1l0.6 -3.5l0.6 7.2l0.6 -2.6l0.6 8.1l0.6 -2.1l0.6 2.8l0.6 -8l0.6 -4.2l0.6 8.4l0.6 5.2l0.6 -1.5l0.6 7.5l0.6 -5.4l0.6 0.4l0.6 6.7l0.6 4.4l0.6 -3.2l0.6 0.9l0.6 0.8l0.6 9.6l0.6 -15l0.6 12.5l0.6 -4l0.6 6.2l0.6 -1.9l0.6 -7.4l0.6 5.4l0.6 -2.6l0.6 -0.1l0.6 -2.7l0.6 10.5l0.6 -11.9l0.6 8.2l0.6 7.4l0.6 -6l0.6 3.6l0.6 -2.2l0.6 1.7l0.6 -8.2l0.6 4.3l0.6 1.4l0.6 0.3l0.6 -3.7l0.6 0.6l0.6 5l0.6 2.3l0.6 0.1l0.6 -6.3l0.6 4.9l0.6 0.4l0.6 3.9l0.6 -4.1l0.6 4.1l0.6 -4l0.6 3l0.6 4.1l0.6 0.6l0.6 -8.2l0.6 5.8l0.6 -2.8l0.6 10.1l0.6 -4.9l0.6 -1.6l0.6 7.1l0.6 -18.3l0.6 8.4l0.6 5.9l0.6 -1.9l0.6 2.1l0.6 -3.5l0.6 1.5l0.6 2.3l0.6 3.6l0.6 4.4l0.6 -12.5l0.6 7.1l0.6 -9.8l0.6 7.4l0.6 3.2l0.6 -4.6l0.6 4.4l0.6 -1.1l0.6 7.9l0.6 -5.3l0.6 -1.9l0.6 -3l0.6 5.4l0.6 5.3l0.6 7.3l0.6 -7.4l0.6 -2.1l0.6 -0.8l0.6 0.8l0.6 1.3l0.6 -1.8l0.6 -4.5l0.6 0.3l0.6 -3.8l0.6 4.6l0.6 -10.5l0.6 9.1l0.6 -3.7l0.6 -0.9l0.6 0.2l0.6 -1.9l0.6 -3.1l0.6 2.7l0.6 0.5l0.6 0.4l0.6 1.7l0.6 -5.1l0.6 -6.9l0.6 6.1l0.6 1.2l0.6 -0.3l0.6 -8.5l0.6 10.2l0.6 2.7l0.6 -6.4l0.6 3.1l0.6 0.4l0.6 0.6l0.6 -10.6l0.6 8.2l0.6 -4.2l0.6 -4.1l0.6 5.7l0.6 -1.5l0.6 5.1l0.6 0.3l0.6 -5l0.6 5.8l0.6 1.5l0.6 -6.4l0.6 7l0.6 -1.1l0.6 6.9l0.6 -1.7l0.6 -4.1l0.6 -0.2l0.6 -5.1l0.6 14l0.6 0.6l0.6 -0.1l0.6 -2.2l0.6 2.6l0.6 -5l0.6 3.3l0.6 -0.8l0.6 -3.4l0.6 6l0.6 -9.1l0.6 -4l0.6 -2.7l0.6 6.5l0.6 -6.4l0.6 -0.5l0.6 -2.2l0.6 -1.5l0.6 6.9l0.6 -9.9l0.6 14.7l0.6 -10.6l0.6 5.7l0.6 -2.8l0.6 4.2l0.6 1.3l0.6 -0.2l0.6 7.5l0.6 -10.9l0.6 4.5l0.6 -2.9l0.6 2.5l0.6 -2.5l0.6 -2.4l0.6 2.7l0.6 -0.7l0.6 1.5l0.6 1l0.6 -3.9l0.6 -0.3l0.6 -3.1l0.6 4.9l0.6 0.1l0.6 2.4l0.6 0.9l0.6 -7l0.6 5.8l0.6 -1.1l0.6 -9.2l0.6 7.9l0.6 2.9l0.6 1.9l0.6 -1.9l0.6 1.4l0.6 -7.3l0.6 11.3l0.6 -13.6l0.6 9.4l0.6 -5.8l0.6 2.3l0.6 -0.8l0.6 -3.2l0.6 10.3l0.6 -9.3l0.6 -0.7l0.6 8.2l0.6 -2.9l0.6 8.8l0.6 -5.2l0.6 -0.5l0.6 1.8l0.6 1l0.6 -10.1l0.6 3.1l0.6 0.8l0.6 11.9l0.6 -9.5l0.6 0.6l0.6 6.1l0.6 -2.6l0.6 -2.6l0.6 -2.6l0.6 -1.1l0.6 2.2l0.6 1.2l0.6 -0.3l0.6 0l0.6 -8.8l0.6 3.7l0.6 -2l0.6 -2.6l0.6 5.4l0.6 3.2l0.6 -5.9l0.6 -6.6l0.6 5.4l0.6 3.6l0.6 -7.8l0.6 -0.5l0.6 3.5l0.6 -2.8l0.6 2.7l0.6 7.1l0.6 -7.5l0.6 -1.9l0.6 5.3l0.6 -1.2l0.6 9.5l0.6 -3.7l0.6 0.1l0.6 -3.4l0.6 9.9l0.6 4l0.6 -5.7l0.6 4.1l0.6 2.9l0.6 2.2l0.6 3.3l0.6 -4l0.6 2.4l0.6 1.6l0.6 0l0.6 5.8l0.6 1.7l0.6 -11.4l0.6 9.7l0.6 -6.3l0.6 12.5l0.6 1.1l0.6 -1.4l0.6 7.5l0.6 1.5l0.6 6.3l0.6 3.9l0.6 4.9l0.6 -2.8l0.6 6.9l0.6 3.5l0.6 -7l0.6 5.8l0.6 -7.4l0.6 -0.9l0.6 -4l0.6 0.2l0.6 -1.5l0.6 3.9l0.6 -5.9l0.6 2.6l0.6 -0.9l0.6 -0.8l0.6 -4.5l0.6 -7.6l0.6 9.4l0.6 -2.5l0.6 5l0.6 -7l0.6 -2.1l0.6 -3.3l0.6 5.2l0.6 -6.3l0.6 4l0.6 0l0.6 -1l0.6 -4.8l0.6 15.5l0.6 -3.1l0.6 -8.3l0.6 0.8l0.6 0l0.6 6.5l0.6 7.3l0.6 -4.2l0.6 6l0.6 4l0.6 -4.8l0.6 1.6l0.6 2.6l0.6 1.2l0.6 4.3l0.6 3.9l0.6 5.2l0.6 -5.4l0.6 -2.1l0.6 2.3l0.6 -4.7l0.6 10.8l0.6 -4.4l0.6 6l0.6 -4.1l0.6 -2l0.6 8.4l0.6 -5.3l0.6 -0.7l0.6 2.1l0.6 -8.7l0.6 6l0.6 2.6l0.6 -0.7l0.6 -5.9l0.6 11.4l0.6 -0.3l0.6 5l0.6 2.2l0.6 -12.5l0.6 12.2l0.6 1.7l0.6 -4.1l0.6 6.9l0.6 3.5l0.6 -3.5l0.6 2l0.6 -5.3l0.6 2.7l0.6 5.1l0.6 9.1l0.6 -13.2l0.6 9.1l0.6 -1.3l0.6 0.6l0.6 -10.9l0.6 6.3l0.6 9.7l0.6 -5.2l0.6 -4.5l0.6 6.5l0.6 1l0.6 -3.1l0.6 -3.9l0.6 6.9l0.6 -1.3l0.6 3.6l0.6 -6l0.6 3.7l0.6 -6.7l0.6 2.3l0.6 2.4l0.6 4.4l0.6 -5.5l0.6 -1.6l0.6 5.3l0.6 2.7l0.6 -7.9l0.6 5.2l0.6 4.1l0.6 -3.3l0.6 -7.1l0.6 5.8l0.6 -5.6l0.6 4l0.6 8.2l0.6 2.1l0.6 -12.8l0.6 5.6l0.6 4.1l0.6 -11.9l0.6 7.3l0.6 -3l0.6 2.8l0.6 2.9l0.6 -4.9l0.6 -3.7l0.6 1.2l0.6 9.2l0.6 -2.7l0.6 0.5l0.6 -5.5l0.6 4.1l0.6 0.3l0.6 2.8l0.6 -2.7l0.6 5l0.6 -5.5l0.6 8.7l0.6 -13.7l0.6 7.5l0.6 -4.9l0.6 3.6l0.6 2.2l0.6 -9.2l0.6 15.8l0.6 -10.2l0.6 1.1l0.6 -7.9l0.6 11.9l0.6 6.2l0.6 -5.2l0.6 -0.5l0.6 2.4l0.6 -4.7l0.6 0.6l0.6 7.4l0.6 -8.4l0.6 -2.8l0.6 -1.2l0.6 5.5l0.6 0.9l0.6 -9.4l0.6 5.1l0.6 -0.8l0.6 -7.5l0.6 18l0.6 -9.6l0.6 -4.6l0.6 -5l0.6 5.4l0.6 4.7l0.6 -7.5l0.6 3.3l0.6 8.1l0.6 -1.6l0.6 -1.4l0.6 -2.1l0.6 -2.9l0.6 -0.5l0.6 7.8l0.6 -5.3l0.6 -1.7l0.6 5.7l0.6 -2.9l0.6 1.9l0.6 0.5l0.6 7l0.6 -8.2l0.6 7.5l0.6 -6.6l0.6 4.1l0.6 -4.2l0.6 0.1l0.6 3.2l0.6 -1.7l0.6 -8.8l0.6 5.1l0.6 7.3l0.6 -7.4l0.6 0.3l0.6 -7l0.6 17.7l0.6 -14.6l0.6 -3.5l0.6 -0.6l0.6 2.9l0.6 -3.5l0.6 -1.4l0.6 1l0.6 -4.2l0.6 -4.5l0.6 -2.8l0.6 -4.7l0.6 -2.3l0.6 -3.4l0.6 -5.7l0.6 -4.9l0.6 -2.4l0.6 -6.3l0.6 -2.8l0.6 -4l0.6 -3l0.6 -3.7l0.6 -3.4l0.6 2.4l0.6 -5.7l0.6 -0.9l0.6 -2.6l0.6 -1.6l0.6 2.3l0.6 0.5l0.6 -2.1l0.6 3.5l0.6 -4.4l0.6 0.7l0.6 -3.7l0.6 -11.3l0.6 8.7l0.6 -2.5l0.6 2.6l0.6 -4.5l0.6 -1.1l0.6 3.8l0.6 -3.3l0.6 2.2l0.6 3.9l0.6 -4.5l0.6 -5.1l0.6 6.9l0.6 -1.8l0.6 0.8l0.6 12.7l0.6 5.9l0.6 -13.9l0.6 12.2l0.6 1.4l0.6 -5.6l0.6 -1.5l0.6 4.5l0.6 -3l0.6 0.7l0.6 -0.6l0.6 -2.2l0.6 1.5l0.6 -0.7l0.6 0l0.6 3.7l0.6 -6.3l0.6 1.3l0.6 4.3l0.6 4.6l0.6 -1.5l0.6 -1.6l0.6 -2.7l0.6 -3.6l0.6 5.7l0.6 1.8l0.6 -6.4l0.6 13.5l0.6 -6.3l0.6 2.7l0.6 -0.9l0.6 -12.7l0.6 12.7l0.6 -0.6l0.6 -9.1l0.6 7l0.6 -0.2l0.6 0.4l0.6 3.7l0.6 -8l0.6 0.6l0.6 -5.4l0.6 10.3l0.6 -7.5l0.6 0.8l0.6 -0.9l0.6 0.7l0.6 -8.2l0.6 8.9l0.6 -7.9l0.6 0l0.6 3.5l0.6 1.1l0.6 -2.7l0.6 -6.8l0.6 1.5l0.6 -8.5l0.6 7.5l0.6 -4.9l0.6 -3.7l0.6 -2.2l0.6 2.1l0.6 4.2l0.6 -6.6l0.6 8.9l0.6 -9.7l0.6 7.7l0.6 5.8l0.6 -9.8l0.6 6.4l0.6 -2.5l0.6 9.2l0.6 -9.3l0.6 -0.8l0.6 1.1l0.6 0.9l0.6 1.4l0.6 -3.3l0.6 3l0.6 9.3l0.6 -1.4l0.6 -9.2l0.6 -0.2l0.6 5.7l0.6 -2.2l0.6 1.2l0.6 4.2l0.6 -1.3l0.6 -1.2l0.6 -0.7l0.6 4.1l0.6 0l0.6 -1l0.6 -3.2l0.6 8l0.6 -6.9l0.6 -3.1l0.6 6.3l0.6 1.8l0.6 -6.4l0.6 -6.5l0.6 -6.5l0.6 -4.3l0.6 -17.8l1 -28.4l0.8 18.9l0.6 17.3l0.6 9.1l0.6 7.5l0.6 3.1l0.6 5.3l0.6 6.4l0.6 3.8l0.6 4.2l0.6 7.6l0.6 4.1l0.6 5.1l0.6 6.1l0.6 1.1l0.6 0.6l0.6 5.8l0.6 12.5l0.6 -2.8l0.6 1.8l0.6 8.6l0.6 3.4l0.6 -2.2l0.6 -1.1l0.6 -6.1l0.6 6.5l0.6 -1.2l0.6 -5.6l0.6 0.7l0.6 3l0.6 -9.8l0.6 3.2l0.6 -4.5l0.6 1.6l0.6 5l0.6 -0.1l0.6 -6.1l0.6 -1.3l0.6 7.9l0.6 -3.3l0.6 10.2l0.6 -2.1l0.6 4.8l0.6 3.3l0.6 5.6l0.6 7l0.6 -3l0.6 6.7l0.6 5.2l0.6 7l0.6 -6.5l0.6 8.1l0.6 -5.1l0.6 5.4l0.6 -4.6l0.6 0l0.6 3.3l0.6 3.5l0.6 8.9l0.6 8.6l0.6 8l0.6 2.6l0.6 4.9l0.6 10.7l0.6 -8.2l0.6 -5.8l0.6 7l0.6 0.7l0.6 -2.1l0.6 -13.8l0.6 11.9l0.6 3.2l0.6 17.3l0.6 -30.7l0.6 20.4l0.6 -9l0.6 5.9l0.6 -1.8l0.6 3.1l0.6 4.6l0.6 2.6l0.6 4.6l0.6 -10.2l0.6 1.3l0.6 5l0.6 -4.4l0.6 -3l0.6 16l0.6 2l0.6 -18.9l0.6 18.3l0.6 -15.9l0.6 2.4l0.6 -12.2l0.6 6.8l0.6 8.5l0.6 -4.4l0.6 -1l0.6 -0.4l0.6 1.6l0.6 7.3l0.6 -1.3l0.6 1.3l0.6 1.2l0.6 5.7l0.6 1.6l0.6 4.7l0.6 4.7l0.6 11.2l0.6 -4.4l0.6 4.4l0.6 -18.9l0.6 0.8l0.6 7.6l0.6 9.8l0.6 -14.1l0.6 9l0.6 4.7l0.6 -6.7l0.6 2.9l0.6 -13l0.6 23.4l0.6 -3.7l0.6 -3.7l0.6 0.6l0.6 -4.7l0.6 25.3l0.6 -17.3l0.6 9.1l0.6 -14.4l0.6 4.2l0.6 -5.9l0.6 6.6l0.6 0.4l0.6 2.3l0.6 3.4l0.6 0.9l0.6 -0.5l0.6 -10.9l0.6 9.3l0.6 -9.1l0.6 9.7l0.6 -2.4l0.6 -12.5l0.6 -4.9l0.6 32.5l0.6 -21.1l0.6 10.9l0.6 -5.7l0.6 -15.9l0.6 18.4l0.6 -10.5l0.6 20.4l0.6 -11.3l0.6 20l0.6 -10.2l0.6 -14.9l0.6 22.7l0.6 -39.5l0.6 47.3l0.6 -17.1l0.6 -4.7l0.6 -7.1l0.6 2.4l0.6 5.9l0.6 -9.6l0.6 6.6l0.6 4.4l0.6 -15.1l0.6 19.4l0.6 15.4l0.6 -16.6l0.6 -10.4l0.6 3.6l0.6 6.6l0.6 -1.9l0.6 11.5l0.6 -22.6l0.6 -5.1l0.6 17l0.6 -5.7l0.6 20l0.6 -23.4l0.6 10.6l0.6 -8.5l0.6 4.5l0.6 22.5l0.6 -44.6l0.6 40l0.6 1.1l0.6 -2.3l0.6 -5.1l0.6 -3.9l0.6 -4.8l0.6 -8.8l0.6 -10.3l0.6 41.5l0.6 -9l0.6 -19.4l0.6 2.7l0.6 24.4l0.6 -24.4l0.6 2.1l0.6 7.4l0.6 -25.4l0.6 33.3l0.6 18.7l0.6 -28.8l0.6 -13.1l0.6 7.7l0.6 -13.4l0.6 23.5l0.6 11.4l0.6 -39.5l0.6 7.8l0.6 23.1l0.6 -0.6l0.6 -15.4l0.6 27l0.6 -28.1l0.6 -3l0.6 0.6l0.6 31.8l0.6 -20.6l0.6 23.6l0.6 -0.4l0.6 -15.4l0.6 -4.1l0.6 14.5l0.6 2.2l0.6 -32.9l0.6 26.6l0.6 -30l0.6 25.8l0.6 6.5l0.6 -7.4l0.6 -8.8l0.6 19l0.6 5.1l0.6 -4.9l0.6 -32l0.6 13.3l0.6 -5.5l0.6 23.7l0.6 -12.8l0.6 23.7l0.6 -23.7l0.6 -13l0.6 29.3l0.6 -38.5l0.6 26.8l0.6 1.9l0.6 -12.7l0.6 29.5l0.6 -29l0.6 21.7l0.6 -19.3l0.6 0.1l0.6 19.3l0.6 7.5l0.6 -2l0.6 -5.7l0.6 -32.4l0.6 18.9l0.6 4.7l0.6 0"/>
<path stroke="#fcaa10" d="M1273 647.5l0.6 -26.7l0.6 -27.7l0.6 -25.2l0.6 -26.1l0.6 -14l0.6 -6.7l0.6 -14l0.6 -16.1l0.6 -10.7l0.6 -11.5l0.6 -10.8l0.6 -10.6l0.6 -13.4l0.6 -13.1l0.6 -17.6l0.6 -21.4l0.6 -20l0.6 -21.4l0.6 -6.5l0.6 -3l0.6 -7.8l0.6 -5.3l0.6 -6.6l0.6 -5.8l0.6 -5.6l0.6 -4.8l0.6 -5.1l0.6 -6.4l0.6 -6.4l0.6 -1.7l0.6 -7.3l0.6 -5l0.6 -6.9l0.6 -4.9l0.6 -4.3l0.6 -7.6l0.6 -4.2l0.6 -4l0.6 -3.3l0.6 -7.1l0.6 -6.5l0.6 -5.4l0.6 -3.7l0.6 -7l0.6 -5.1l0.6 -3.5l0.6 -7.1l0.6 -5.7l0.6 -5.8l0.6 1l0.6 -2.1l0.6 -8.9l0.6 -4.7l0.6 1.8l0.6 2.2l0.6 -4.8l0.6 -7.7l0.6 3.2l0.6 0.2l0.6 -4l0.6 -1.3l0.6 -1.5l0.6 -2.6l0.6 -2.5l0.6 -3.8l0.6 -1.5l0.6 -3l0.6 6.6l0.6 0.2l0.6 -1.1l0.6 1.6l0.6 -1l0.6 -2.5l0.6 3.2l0.6 -1.8l0.6 0.3l0.6 -5.8l0.6 4.7l0.6 2.9l0.6 -3.1l0.6 -1.9l0.6 -2.8l0.6 2l0.6 5.8l0.6 -6.8l0.6 4.9l0.6 -5.3l0.6 3.9l0.6 -4.9l0.6 2.6l0.6 -0.4l0.6 -0.8l0.6 -4.9l0.6 1.6l0.6 -2l0.6 2.5l0.6 -1l0.6 0.2l0.6 2.5l0.6 -5.1l0.6 0.8l0.6 0.4l0.6 0.4l0.6 -1.6l0.6 3.7l0.6 -4.7l0.6 8.4l0.6 -5.5l0.6 2.7l0.6 -7l0.6 2.3l0.6 0.9l0.6 4.9l0.6 -5l0.6 4.2l0.6 -5.9l0.6 7.3l0.6 -6.1l0.6 -3.3l0.6 -0.3l0.6 7.3l0.6 -0.7l0.6 2.1l0.6 -0.8l0.6 2l0.6 3.9l0.6 -5.6l0.6 1.7l0.6 -1.6l0.6 -4.3l0.6 4.5l0.6 5.6l0.6 -6.7l0.6 10l0.6 -5l0.6 -0.1l0.6 1.7l0.6 -2.3l0.6 0.5l0.6 4.1l0.6 -6.9l0.6 1l0.6 -3.5l0.6 3.8l0.6 8.6l0.6 -5.8l0.6 -7.2l0.6 -3.3l0.6 6.8l0.6 0.2l0.6 -4.3l0.6 5.2l0.6 -3.2l0.6 1.2l0.6 0.6l0.6 0.8l0.6 -5.2l0.6 -0.9l0.6 5.9l0.6 -4.6l0.6 -3.7l0.6 4l0.6 -3.7l0.6 1.3l0.6 8.1l0.6 -5.3l0.6 -8.1l0.6 -3.7l0.6 3l0.6 -4l0.6 2.8l0.6 -0.9l0.6 0l0.6 -2.9l0.6 -4.9l0.6 3.3l0.6 0.7l0.6 1l0.6 4l0.6 -6l0.6 3.4l0.6 -0.5l0.6 0.5l0.6 5.2l0.6 -3.3l0.6 8.6l0.6 -12.3l0.6 12.8l0.6 -4.5l0.6 -1.7l0.6 5.4l0.6 0.6l0.6 3.1l0.6 1.8l0.6 -5.2l0.6 2.9l0.6 2l0.6 0.8l0.6 -1l0.6 5.9l0.6 -2.4l0.6 -4.2l0.6 5.4l0.6 -0.9l0.6 0.9l0.6 4.1l0.6 -1.1l0.6 -1.7l0.6 -0.4l0.6 0.9l0.6 -4.9l0.6 2.2l0.6 3.4l0.6 -6.4l0.6 -0.5l0.6 -0.8l0.6 4.6l0.6 -4.7l0.6 5.2l0.6 -4.1l0.6 2.4l0.6 1.1l0.6 -2.1l0.6 -1.6l0.6 6l0.6 -3.9l0.6 3.1l0.6 1.2l0.6 -6.5l0.6 8.5l0.6 -3.3l0.6 -1.3l0.6 0.3l0.6 -0.1l0.6 2.5l0.6 6.2l0.6 -6.1l0.6 -2.4l0.6 3l0.6 7.7l0.6 -5.9l0.6 6.3l0.6 -8.2l0.6 0.2l0.6 -0.3l0.6 0.8l0.6 2.7l0.6 1l0.6 -5.6l0.6 2.9l0.6 0.7l0.6 1.3l0.6 6l0.6 1l0.6 -3.2l0.6 1.5l0.6 -4.9l0.6 3.6l0.6 -6.4l0.6 6l0.6 1.1l0.6 1.6l0.6 -3.3l0.6 0.2l0.6 -1.9l0.6 -3.6l0.6 5.4l0.6 -3.6l0.6 5.1l0.6 0.8l0.6 -2.7l0.6 -0.4l0.6 6l0.6 -0.5l0.6 4l0.6 2l0.6 2.9l0.6 -1.9l0.6 -5.7l0.6 3l0.6 7.7l0.6 -9.5l0.6 2.3l0.6 6.1l0.6 -2.2l0.6 -3.4l0.6 3.7l0.6 -2.6l0.6 5l0.6 -2.7l0.6 1l0.6 0.8l0.6 -6.7l0.6 6.6l0.6 3l0.6 -1l0.6 -2.4l0.6 2.2l0.6 5.2l0.6 -2.1l0.6 -3.6l0.6 6.5l0.6 -2.1l0.6 -2.3l0.6 -3.8l0.6 8.3l0.6 -5.5l0.6 5.5l0.6 3.4l0.6 -0.4l0.6 -6.2l0.6 1.5l0.6 5.7l0.6 2.3l0.6 -2.9l0.6 0.1l0.6 7.2l0.6 0.3l0.6 -4.2l0.6 -1.5l0.6 4l0.6 -5.5l0.6 6l0.6 1.4l0.6 4l0.6 -1.4l0.6 -7.6l0.6 13.3l0.6 -3.7l0.6 -8.2l0.6 2.3l0.6 8.9l0.6 -5.9l0.6 8.5l0.6 -5.7l0.6 -1.3l0.6 11.9l0.6 1.5l0.6 -7.4l0.6 6.3l0.6 -4.8l0.6 0.4l0.6 -2.2l0.6 3l0.6 3l0.6 -0.3l0.6 1.9l0.6 -1l0.6 -4.2l0.6 -4.4l0.6 4.5l0.6 -1l0.6 -3.6l0.6 -2.6l0.6 1.1l0.6 -2.8l0.6 1.6l0.6 3.6l0.6 3.6l0.6 -4.2l0.6 -2.4l0.6 0.2l0.6 0.7l0.6 4.7l0.6 -3.9l0.6 -6l0.6 6.8l0.6 -5.8l0.6 3.8l0.6 3.3l0.6 -3.1l0.6 3.4l0.6 5.1l0.6 -6.6l0.6 6.8l0.6 0.2l0.6 0.2l0.6 -5.2l0.6 6.7l0.6 -2.1l0.6 2.2l0.6 -1.9l0.6 4.9l0.6 -8.7l0.6 6.4l0.6 1.6l0.6 7.6l0.6 -15l0.6 1.5l0.6 3.2l0.6 2l0.6 -3l0.6 6.1l0.6 -3.2l0.6 1.5l0.6 -4.5l0.6 6.1l0.6 -0.6l0.6 5.4l0.6 -2.7l0.6 4l0.6 -2.4l0.6 -2l0.6 6.9l0.6 -6.5l0.6 1.9l0.6 4.2l0.6 6.4l0.6 2.4l0.6 -8.6l0.6 5.8l0.6 6.1l0.6 -5.6l0.6 -4.5l0.6 6.4l0.6 5.2l0.6 -7l0.6 0.3l0.6 9.8l0.6 -4.8l0.6 -6.4l0.6 7.4l0.6 1.8l0.6 -5.3l0.6 2.2l0.6 3l0.6 -1.1l0.6 5.4l0.6 -0.2l0.6 -1l0.6 2.5l0.6 -6.1l0.6 -1.7l0.6 -1.5l0.6 3.3l0.6 -1.7l0.6 3.5l0.6 4.8l0.6 2l0.6 -2.8l0.6 -0.6l0.6 -1.1l0.6 1l0.6 -3.4l0.6 -0.3l0.6 -1.5l0.6 3.8l0.6 2.7l0.6 -1.5l0.6 1.8l0.6 7l0.6 -4.7l0.6 1.3l0.6 -1.5l0.6 2.3l0.6 -5.8l0.6 6.3l0.6 0.7l0.6 0.7l0.6 -9l0.6 5.1l0.6 6.5l0.6 -1.9l0.6 -7.9l0.6 2.2l0.6 -1l0.6 6.3l0.6 2.1l0.6 -3.4l0.6 -5.2l0.6 7.6l0.6 -7.9l0.6 12l0.6 -7.1l0.6 0.1l0.6 0.7l0.6 5.5l0.6 1.8l0.6 2.3l0.6 -1.5l0.6 1.4l0.6 5.5l0.6 1.8l0.6 -6.1l0.6 0l0.6 -0.3l0.6 -5.1l0.6 -2.5l0.6 -4.6l0.6 1.6l0.6 6.3l0.6 -10.2l0.6 -3.7l0.6 3.2l0.6 1.1l0.6 -0.2l0.6 -5.2l0.6 4.5l0.6 -4l0.6 -0.4l0.6 0l0.6 -3.2l0.6 1.2l0.6 3.9l0.6 -7.2l0.6 3.1l0.6 3.6l0.6 -1.3l0.6 0.6l0.6 -5.2l0.6 -0.4l0.6 4l0.6 -1.2l0.6 -4.3l0.6 6.8l0.6 1.6l0.6 4.4l0.6 -5.5l0.6 0.2l0.6 -1.8l0.6 4.3l0.6 -1.7l0.6 9l0.6 -9.9l0.6 7.8l0.6 -5.1l0.6 -3.2l0.6 6l0.6 0.1l0.6 4.9l0.6 -1.6l0.6 -1.4l0.6 -1l0.6 0.5l0.6 3.8l0.6 2.6l0.6 -2.7l0.6 1.7l0.6 3.2l0.6 -7.5l0.6 0.6l0.6 -2.8l0.6 -4.5l0.6 5.1l0.6 -4l0.6 -2.8l0.6 -4.8l0.6 5.5l0.6 -1.6l0.6 0.4l0.6 0.3l0.6 -2.5l0.6 10.3l0.6 -5.8l0.6 -3.1l0.6 2.2l0.6 -2.9l0.6 -1.2l0.6 -0.4l0.6 5.2l0.6 3.4l0.6 1.4l0.6 -4.3l0.6 0.5l0.6 -6.8l0.6 -0.8l0.6 5.6l0.6 4.6l0.6 1.5l0.6 -5.6l0.6 -3.9l0.6 3.4l0.6 0.7l0.6 -3.6l0.6 2.5l0.6 4.6l0.6 -5.5l0.6 1.7l0.6 7.6l0.6 -5.2l0.6 0.2l0.6 -3.5l0.6 5.4l0.6 -8.5l0.6 11.1l0.6 -5l0.6 -3.1l0.6 0.9l0.6 2l0.6 -8.3l0.6 7.6l0.6 1.3l0.6 -5.3l0.6 6.5l0.6 3l0.6 -9.6l0.6 3l0.6 5.4l0.6 6.1l0.6 -9.6l0.6 3l0.6 -3.3l0.6 3.1l0.6 1.6l0.6 -3.7l0.6 5.1l0.6 10l0.6 -5.7l0.6 -6.5l0.6 1l0.6 -6.3l0.6 3.9l0.6 -1.4l0.6 -2l0.6 -4.5l0.6 13.2l0.6 -4.3l0.6 -7.1l0.6 6.5l0.6 -0.3l0.6 -8.5l0.6 9.3l0.6 -13.9l0.6 11l0.6 -7.6l0.6 4.9l0.6 -9.1l0.6 6.6l0.6 2.9l0.6 0.4l0.6 -4.2l0.6 0.1l0.6 -3.7l0.6 1.5l0.6 1.7l0.6 -4.7l0.6 7.9l0.6 -0.6l0.6 4.5l0.6 3.2l0.6 -1.2l0.6 -1.2l0.6 7.2l0.6 -2.5l0.6 3.9l0.6 1.6l0.6 -3.1l0.6 8.1l0.6 -5.5l0.6 6l0.6 5.2l0.6 0.6l0.6 1l0.6 7.3l0.6 -5.9l0.6 3l0.6 4.7l0.6 -9.3l0.6 6.7l0.6 6.3l0.6 0.9l0.6 -1.1l0.6 7.8l0.6 3.5l0.6 1.2l0.6 7.5l0.6 -7l0.6 7.3l0.6 -4.3l0.6 -1.3l0.6 -7.8l0.6 16.8l0.6 -21l0.6 10.2l0.6 -2.2l0.6 8.3l0.6 -10.7l0.6 0.6l0.6 0.9l0.6 1.4l0.6 1.3l0.6 -2.5l0.6 -11.7l0.6 5.4l0.6 4.9l0.6 -0.9l0.6 1.1l0.6 -7.6l0.6 0.2l0.6 0.4l0.6 3.2l0.6 1.2l0.6 -4.8l0.6 5.4l0.6 -4.5l0.6 1.6l0.6 -8.1l0.6 1.7l0.6 12l0.6 -5l0.6 10.9l0.6 0.7l0.6 -7.9l0.6 7.1l0.6 4l0.6 -0.4l0.6 -6.3l0.6 11.2l0.6 -0.8l0.6 -4l0.6 5.5l0.6 0l0.6 11.6l0.6 -6.2l0.6 -4.3l0.6 4.4l0.6 -6.5l0.6 12.3l0.6 -2.4l0.6 6.1l0.6 -4.5l0.6 6.7l0.6 0.3l0.6 -11l0.6 4.2l0.6 2.2l0.6 -0.6l0.6 -2.9l0.6 2.9l0.6 0.5l0.6 4.4l0.6 -3.5l0.6 2.9l0.6 5.1l0.6 -1.5l0.6 -3.5l0.6 -1.9l0.6 6.7l0.6 -3.6l0.6 8.1l0.6 -2.9l0.6 -4.4l0.6 11.5l0.6 -5.8l0.6 7.8l0.6 -0.5l0.6 3l0.6 -9.8l0.6 6.2l0.6 2.2l0.6 12.4l0.6 -7.2l0.6 -2.5l0.6 4.4l0.6 -6.4l0.6 -0.4l0.6 -3.2l0.6 4.1l0.6 -11.8l0.6 2l0.6 12.8l0.6 -0.4l0.6 -3.6l0.6 -2.8l0.6 8.7l0.6 -2.4l0.6 -9.1l0.6 6.5l0.6 2.9l0.6 -5.4l0.6 -5.9l0.6 7.5l0.6 3.6l0.6 1.3l0.6 -5.6l0.6 4.2l0.6 -2l0.6 3l0.6 -8l0.6 2.3l0.6 6l0.6 2.1l0.6 -4l0.6 2.5l0.6 -1.7l0.6 -4.9l0.6 10.4l0.6 -10.9l0.6 -0.5l0.6 5.6l0.6 3.5l0.6 -2.3l0.6 -5.2l0.6 -2.3l0.6 7.9l0.6 -1.4l0.6 -5l0.6 1.7l0.6 8.6l0.6 -1l0.6 -15.6l0.6 8l0.6 9l0.6 -8l0.6 -6.8l0.6 4.6l0.6 10.1l0.6 -8.8l0.6 7.8l0.6 -8.2l0.6 9.8l0.6 -5.4l0.6 2.7l0.6 -0.6l0.6 -2l0.6 -10.2l0.6 17.3l0.6 -0.1l0.6 -1.2l0.6 2.1l0.6 -7.4l0.6 5.6l0.6 -11.1l0.6 -0.7l0.6 7.1l0.6 -10.8l0.6 11.9l0.6 -4.8l0.6 0.7l0.6 -5.2l0.6 4.2l0.6 1.4l0.6 -9.8l0.6 1.5l0.6 6.2l0.6 -7.7l0.6 9.1l0.6 -6.9l0.6 3.2l0.6 4.5l0.6 0.6l0.6 -7.9l0.6 13.2l0.6 -9.4l0.6 -0.9l0.6 7.8l0.6 -1.5l0.6 9.3l0.6 -10.8l0.6 -4.7l0.6 -1.8l0.6 8.7l0.6 4.4l0.6 3.3l0.6 1.1l0.6 3.6l0.6 -5.3l0.6 -2.8l0.6 16.3l0.6 -3.2l0.6 -14.4l0.6 2.1l0.6 -3.2l0.6 9.4l0.6 -3.7l0.6 -16.1l0.6 9.1l0.6 -3.7l0.6 3.7l0.6 -5l0.6 2.9l0.6 -4.9l0.6 7.5l0.6 -7.5l0.6 -0.4l0.6 -6.7l0.6 -1.9l0.6 -3.8l0.6 -4.4l0.6 -4.6l0.6 -4.7l0.6 -3.4l0.6 -4.6l0.6 -2l0.6 -4.8l0.6 -3.8l0.6 -4l0.6 -6.1l0.6 -3.6l0.6 -5.3l0.6 -4.1l0.6 -1.1l0.6 -1.3l0.6 2.1l0.6 10l0.6 -7.6l0.6 -0.9l0.6 -0.9l0.6 -6.8l0.6 5.7l0.6 -3.9l0.6 0.2l0.6 -3.9l0.6 9.3l0.6 -14.4l0.6 3.8l0.6 -1.9l0.6 0.2l0.6 6.3l0.6 -0.3l0.6 -5.4l0.6 -5.4l0.6 9l0.6 -2.4l0.6 -6l0.6 11.4l0.6 -1.4l0.6 1.8l0.6 5l0.6 2.9l0.6 -10.7l0.6 6.4l0.6 0.6l0.6 0.1l0.6 -0.7l0.6 6l0.6 -8.5l0.6 2.6l0.6 8.9l0.6 -7.3l0.6 3.8l0.6 4l0.6 -9.9l0.6 -3.7l0.6 -4.9l0.6 11.8l0.6 0.7l0.6 -2l0.6 5.9l0.6 3.6l0.6 -3.8l0.6 -3.9l0.6 -4.5l0.6 6.6l0.6 2l0.6 4.2l0.6 -9.2l0.6 0.9l0.6 -5.4l0.6 7.5l0.6 7l0.6 1.6l0.6 -5.2l0.6 -4.1l0.6 6.7l0.6 -4.4l0.6 0.2l0.6 12.5l0.6 -15.3l0.6 2.6l0.6 -2.1l0.6 3l0.6 -8.4l0.6 0.7l0.6 4.8l0.6 -8.7l0.6 -1.3l0.6 -1l0.6 -4.4l0.6 -4.7l0.6 6.6l0.6 -10.1l0.6 -1.3l0.6 3.6l0.6 -5.9l0.6 -9.2l0.6 4.2l0.6 -3.1l0.6 -2.7l0.6 10.6l0.6 -9.6l0.6 0.8l0.6 2.6l0.6 -0.3l0.6 0.1l0.6 -1.5l0.6 0.3l0.6 4l0.6 -0.6l0.6 3l0.6 6l0.6 2.3l0.6 -2.2l0.6 0.8l0.6 10.6l0.6 -10.2l0.6 9.5l0.6 2.1l0.6 -7l0.6 1.7l0.6 12.3l0.6 -3.5l0.6 -2.8l0.6 1.7l0.6 2.3l0.6 -6.1l0.6 10.6l0.6 -11.6l0.6 8.5l0.6 -3.7l0.6 -0.9l0.6 4.7l0.6 -4.9l0.6 7.6l0.6 -0.5l0.6 0.4l0.6 -11.4l0.6 -9.9l0.6 -7.1l1.1 -22.8l0.7 16.1l0.6 5.1l0.6 6l0.6 3.9l0.6 9.3l0.6 3.9l0.6 5.6l0.6 4.5l0.6 3.3l0.6 8l0.6 6.3l0.6 4.3l0.6 6.9l0.6 7.4l0.6 -4.7l0.6 7.2l0.6 -5.6l0.6 2.7l0.6 1.3l0.6 3.2l0.6 8.5l0.6 -4.2l0.6 -0.5l0.6 6.5l0.6 -8.4l0.6 0.5l0.6 8.6l0.6 1.5l0.6 -0.5l0.6 -12l0.6 3.1l0.6 -1.1l0.6 3.1l0.6 -3l0.6 -7l0.6 -2.4l0.6 8.9l0.6 -2.9l0.6 15.5l0.6 -4.2l0.6 10.2l0.6 -2.2l0.6 -3.9l0.6 2.1l0.6 -4.5l0.6 16.5l0.6 4.1l0.6 0.6l0.6 4.1l0.6 2.7l0.6 1.9l0.6 9l0.6 1.7l0.6 -11l0.6 5l0.6 -14.1l0.6 8.2l0.6 5.2l0.6 10.3l0.6 -5.9l0.6 5.2l0.6 3.3l0.6 6.8l0.6 7l0.6 3.1l0.6 -6.1l0.6 12.4l0.6 6l0.6 9.2l0.6 -2.4l0.6 -5.1l0.6 10.4l0.6 -17.9l0.6 11.6l0.6 8l0.6 -2.5l0.6 1.7l0.6 -6.7l0.6 -2.4l0.6 11.6l0.6 9.2l0.6 -10.4l0.6 4.5l0.6 4.1l0.6 -15.7l0.6 15l0.6 -7.2l0.6 -6.7l0.6 9.4l0.6 -0.3l0.6 -10.1l0.6 7.9l0.6 -8l0.6 9.9l0.6 -10.7l0.6 0.8l0.6 2l0.6 -7.9l0.6 14.5l0.6 -4.4l0.6 17.6l0.6 -7.8l0.6 -0.6l0.6 -2l0.6 5.5l0.6 4.3l0.6 -6l0.6 12.6l0.6 8.4l0.6 -13.6l0.6 11.5l0.6 -0.5l0.6 -5.2l0.6 -10.8l0.6 11.9l0.6 -2l0.6 -3.6l0.6 -0.1l0.6 23.7l0.6 -16.4l0.6 1.1l0.6 -5.4l0.6 12.3l0.6 1.1l0.6 -6.5l0.6 4.8l0.6 -13.9l0.6 16.8l0.6 -0.9l0.6 3.6l0.6 -7.6l0.6 1.1l0.6 7.3l0.6 -2.9l0.6 -14.8l0.6 12.5l0.6 25.1l0.6 -20.4l0.6 3.5l0.6 -1.2l0.6 -1l0.6 -0.4l0.6 -5.8l0.6 10.5l0.6 -5.8l0.6 1.3l0.6 11.3l0.6 -16.5l0.6 -0.3l0.6 -2.3l0.6 -11.7l0.6 28.6l0.6 -8.8l0.6 -14.3l0.6 24.9l0.6 -10.4l0.6 -7.3l0.6 17.8l0.6 -20.8l0.6 19.1l0.6 -7.4l0.6 10.1l0.6 -7.7l0.6 -0.5l0.6 -3l0.6 7.8l0.6 4.2l0.6 -9.1l0.6 -3l0.6 17.9l0.6 -23.5l0.6 -4.5l0.6 11.9l0.6 2l0.6 33.7l0.6 -24.6l0.6 12.6l0.6 5.8l0.6 -6.7l0.6 8l0.6 -28.9l0.6 8.3l0.6 18.8l0.6 -12.1l0.6 7.7l0.6 -38.3l0.6 11.6l0.6 0.3l0.6 16.4l0.6 -9.4l0.6 22.6l0.6 4l0.6 10.4l0.6 -51.9l0.6 3.9l0.6 16.7l0.6 10.1l0.6 5.2l0.6 -1.5l0.6 -13.3l0.6 14.6l0.6 -15.2l0.6 28.7l0.6 -32.3l0.6 33.2l0.6 -32l0.6 11.1l0.6 -9.6l0.6 0.6l0.6 12.7l0.6 -8.1l0.6 16.8l0.6 7.2l0.6 -15.4l0.6 -18.8l0.6 13.4l0.6 0.7l0.6 11.9l0.6 -55.2l0.6 53.2l0.6 -13.6l0.6 7.3l0.6 19.1l0.6 -2.3l0.6 -28l0.6 13.7l0.6 3.9l0.6 3.6l0.6 -1.3l0.6 27.7l0.6 -10.5l0.6 11.1l0.6 -46.5l0.6 29.8l0.6 16.3l0.6 -55.1l0.6 29.6l0.6 -8.2l0.6 -1.3l0.6 5.2l0.6 -23.4l0.6 15.6l0.6 -9.7l0.6 23.5l0.6 6l0.6 8.1l0.6 -43.5l0.6 21.2l0.6 14.7l0.6 -26.3l0.6 26.5l0.6 -11.3l0.6 -10.8l0.6 26.1l0.6 -13.1l0.6 31.4l0.6 -43.1l0.6 6.5l0.6 19.9l0.6 0.7l0.6 -23.9l0.6 28.9l0.6 -58.8l0.6 35.4l0.6 5.8l0.6 15.9l0.6 -22.5"/>
<path stroke="#fb2c0c" d="M1273 646.1l0.6 -25.1l0.6 -25.9l0.6 -27.2l0.6 -23.8l0.6 -9.9l0.6 -12l0.6 -10.2l0.6 -9.7l0.6 -16.8l0.6 -12l0.6 -12.2l0.6 -13l0.6 -11.7l0.6 -7.3l0.6 -17.9l0.6 -12.6l0.6 -17.1l0.6 -17.1l0.6 -6.8l0.6 -6.4l0.6 -3.1l0.6 -3.8l0.6 -3.9l0.6 -5.2l0.6 -4.8l0.6 -5l0.6 -6.3l0.6 -7.3l0.6 -4.7l0.6 -3.1l0.6 -3.8l0.6 -4.2l0.6 -6.2l0.6 -3.7l0.6 -3.2l0.6 -4.3l0.6 -3.2l0.6 -6.4l0.6 -4l0.6 -6.3l0.6 -4.9l0.6 -4.6l0.6 -3.4l0.6 -7.2l0.6 -2.8l0.6 -4.4l0.6 -3l0.6 -3l0.6 -4.2l0.6 -3.9l0.6 -5.4l0.6 0l0.6 0.2l0.6 -6.5l0.6 -0.3l0.6 -11.6l0.6 1.8l0.6 -0.4l0.6 -6.4l0.6 -5.2l0.6 -1.7l0.6 0.5l0.6 2l0.6 -4.4l0.6 0.3l0.6 -2.9l0.6 0.2l0.6 1.1l0.6 -1l0.6 0.8l0.6 1.5l0.6 1.7l0.6 -2.2l0.6 -4.9l0.6 7.8l0.6 -3.9l0.6 4.2l0.6 -3l0.6 3.4l0.6 -0.3l0.6 -4.1l0.6 6.1l0.6 -5.9l0.6 0.3l0.6 3.4l0.6 -5.8l0.6 2l0.6 2.3l0.6 -2.5l0.6 -0.9l0.6 3.1l0.6 -1.8l0.6 -3.6l0.6 -2.1l0.6 -0.4l0.6 0.6l0.6 5.1l0.6 -8.2l0.6 4.4l0.6 -5l0.6 5.6l0.6 -1.6l0.6 3l0.6 -8.5l0.6 3.4l0.6 0.8l0.6 -5.9l0.6 2.5l0.6 -1.4l0.6 4.1l0.6 -4.4l0.6 1.4l0.6 1l0.6 0.6l0.6 -2.9l0.6 -1.4l0.6 1.9l0.6 3l0.6 0.4l0.6 2.2l0.6 -4l0.6 6.5l0.6 -9.9l0.6 -0.7l0.6 6.1l0.6 0.6l0.6 2l0.6 1.3l0.6 1.7l0.6 2.9l0.6 -5l0.6 4l0.6 -0.3l0.6 -0.1l0.6 0l0.6 4.5l0.6 -6.4l0.6 4.6l0.6 3.9l0.6 -5.3l0.6 0.6l0.6 -1.3l0.6 -0.5l0.6 -4.4l0.6 7.9l0.6 -5.4l0.6 3.3l0.6 -0.8l0.6 -2.5l0.6 0.2l0.6 -1.6l0.6 3.8l0.6 -5l0.6 1.5l0.6 2.8l0.6 -6l0.6 4.7l0.6 -5.9l0.6 4.8l0.6 1.5l0.6 -5.5l0.6 -2.2l0.6 0l0.6 3.9l0.6 -1l0.6 -3.9l0.6 -1.8l0.6 -0.7l0.6 0.2l0.6 0l0.6 -1.5l0.6 -3.3l0.6 -3l0.6 -2.4l0.6 11.5l0.6 -5.1l0.6 0.9l0.6 -2.6l0.6 3.4l0.6 1l0.6 0.4l0.6 1l0.6 1.7l0.6 0.1l0.6 -1.7l0.6 4.2l0.6 -4.3l0.6 -2.6l0.6 12.4l0.6 -7.5l0.6 1.3l0.6 7.9l0.6 -3.5l0.6 -0.9l0.6 -1.6l0.6 3.6l0.6 -5.2l0.6 4.9l0.6 1.1l0.6 -2.4l0.6 -6.4l0.6 13.9l0.6 -3.6l0.6 1.9l0.6 2.2l0.6 -1.8l0.6 5.5l0.6 -3.4l0.6 -3.5l0.6 2.1l0.6 -2.4l0.6 2.6l0.6 -5.9l0.6 5.2l0.6 -0.7l0.6 4l0.6 -0.8l0.6 2l0.6 -8.2l0.6 3l0.6 10.7l0.6 -2.2l0.6 -4.1l0.6 3.8l0.6 -2.6l0.6 2.1l0.6 -5.4l0.6 5l0.6 -4.3l0.6 2.1l0.6 4.3l0.6 -6.2l0.6 3.4l0.6 0.9l0.6 1.1l0.6 1l0.6 -7.9l0.6 3.1l0.6 0.6l0.6 7.2l0.6 3l0.6 -4.9l0.6 1l0.6 6.2l0.6 -3.7l0.6 -2.1l0.6 5.8l0.6 -8.7l0.6 2.9l0.6 10.3l0.6 -4.4l0.6 -5.6l0.6 4.5l0.6 -2.4l0.6 3.3l0.6 -1.2l0.6 1.5l0.6 -0.7l0.6 -1.6l0.6 1.4l0.6 2.7l0.6 -0.1l0.6 -1.2l0.6 0.6l0.6 2.4l0.6 2.9l0.6 2.2l0.6 -4.4l0.6 1.6l0.6 -5.5l0.6 3.3l0.6 5.6l0.6 0.6l0.6 -1.7l0.6 2.8l0.6 -5.1l0.6 10.3l0.6 -11.6l0.6 10.9l0.6 -3.9l0.6 -1.9l0.6 1.7l0.6 0.1l0.6 5.2l0.6 1.1l0.6 -8.1l0.6 6.5l0.6 -2.8l0.6 2.7l0.6 3.5l0.6 -4.3l0.6 -0.2l0.6 1.7l0.6 2l0.6 1.4l0.6 -2.1l0.6 -1.6l0.6 0.4l0.6 4.3l0.6 4l0.6 -4.5l0.6 4.6l0.6 -10l0.6 5.6l0.6 7.8l0.6 -5l0.6 2.9l0.6 -0.4l0.6 -2l0.6 0.7l0.6 0.9l0.6 -1.2l0.6 5.4l0.6 2.7l0.6 -5.9l0.6 2.7l0.6 -2.3l0.6 4.5l0.6 2.8l0.6 0.5l0.6 -3.4l0.6 6.5l0.6 -6.5l0.6 1l0.6 6.1l0.6 -3.6l0.6 0.6l0.6 3.9l0.6 1.7l0.6 7.9l0.6 -7.2l0.6 -7.5l0.6 8.4l0.6 -0.8l0.6 5.4l0.6 -10.2l0.6 10.4l0.6 -9.4l0.6 11.4l0.6 -7.8l0.6 1.4l0.6 -3.7l0.6 -2.7l0.6 3.9l0.6 9.4l0.6 -9l0.6 -1.7l0.6 -1.2l0.6 8.6l0.6 -3.4l0.6 -3.4l0.6 -0.2l0.6 -4.3l0.6 4.8l0.6 -1.2l0.6 -3.3l0.6 0.6l0.6 6.8l0.6 -0.9l0.6 -2.7l0.6 4.8l0.6 -3l0.6 -3.8l0.6 2l0.6 0.4l0.6 6l0.6 0.1l0.6 1.6l0.6 -4.5l0.6 4.2l0.6 8.3l0.6 -13.2l0.6 9.2l0.6 -5l0.6 3.2l0.6 4l0.6 -9.2l0.6 -1.1l0.6 5l0.6 -0.1l0.6 -1.4l0.6 10.5l0.6 -2.2l0.6 1.7l0.6 -2.8l0.6 3l0.6 -8.2l0.6 11.5l0.6 -2.7l0.6 -3.4l0.6 1.3l0.6 -1.6l0.6 -5.9l0.6 6.7l0.6 1.9l0.6 -0.3l0.6 -4.3l0.6 3.3l0.6 -2.8l0.6 7.1l0.6 -8.2l0.6 9l0.6 2.2l0.6 -0.7l0.6 -1.4l0.6 9.1l0.6 -3l0.6 4.4l0.6 2.1l0.6 -6.1l0.6 3.4l0.6 -4.1l0.6 2.9l0.6 -4.9l0.6 5.4l0.6 8.9l0.6 -1.5l0.6 -8.4l0.6 0.5l0.6 3.6l0.6 2.6l0.6 -3.2l0.6 -2.9l0.6 7.3l0.6 1.2l0.6 -3.3l0.6 5l0.6 3.2l0.6 -9.7l0.6 5.5l0.6 -3.5l0.6 -0.1l0.6 -3.1l0.6 7.3l0.6 -3l0.6 -0.8l0.6 8.5l0.6 -5.3l0.6 -4.1l0.6 5.1l0.6 2.1l0.6 -1.7l0.6 0.9l0.6 4l0.6 8.3l0.6 -15.6l0.6 -0.7l0.6 12.6l0.6 -5.5l0.6 4.3l0.6 -5.1l0.6 2.8l0.6 -8.7l0.6 8.9l0.6 -4.9l0.6 3.6l0.6 4.6l0.6 3.8l0.6 -10.1l0.6 1.3l0.6 1.4l0.6 -2.6l0.6 -2.4l0.6 8l0.6 0.2l0.6 1.3l0.6 -3.2l0.6 -3.7l0.6 4.7l0.6 -0.5l0.6 -0.3l0.6 5.4l0.6 -0.5l0.6 8.6l0.6 -11.8l0.6 7.9l0.6 3.6l0.6 -1.4l0.6 -11.6l0.6 14.5l0.6 -4l0.6 4.2l0.6 -1.6l0.6 -5.6l0.6 4.2l0.6 1.2l0.6 -3.6l0.6 -7l0.6 8.8l0.6 -2.6l0.6 -9.1l0.6 1.7l0.6 -9.6l0.6 6.3l0.6 -2.1l0.6 3.6l0.6 -6.1l0.6 1.6l0.6 5.4l0.6 -6.9l0.6 -1.8l0.6 10.2l0.6 -7.3l0.6 6.9l0.6 -7.6l0.6 6.8l0.6 -9.8l0.6 -3l0.6 6.5l0.6 -2.2l0.6 1.4l0.6 -0.5l0.6 -1.9l0.6 9.5l0.6 -7.2l0.6 -9.4l0.6 8.4l0.6 3.7l0.6 2.4l0.6 -5.8l0.6 -0.5l0.6 3.4l0.6 -0.4l0.6 3.9l0.6 -0.6l0.6 9l0.6 -12.3l0.6 6.5l0.6 -6.7l0.6 2.3l0.6 5l0.6 -4.6l0.6 9.5l0.6 -8.1l0.6 1.9l0.6 5.9l0.6 5.1l0.6 -7.2l0.6 -0.1l0.6 -3.3l0.6 2.4l0.6 0.1l0.6 -4.3l0.6 -11.5l0.6 1.2l0.6 0.2l0.6 4.5l0.6 0l0.6 4.5l0.6 -1.7l0.6 0.3l0.6 -0.6l0.6 -2.4l0.6 4.6l0.6 -6.5l0.6 7.7l0.6 -3.2l0.6 -2.6l0.6 -0.1l0.6 2.6l0.6 -0.7l0.6 -6.2l0.6 6.6l0.6 1.3l0.6 0.3l0.6 -0.3l0.6 7.9l0.6 -2.8l0.6 -11.3l0.6 4.1l0.6 12.3l0.6 -1.8l0.6 -8.3l0.6 -2.4l0.6 9l0.6 -13.5l0.6 4.6l0.6 1.5l0.6 -5.6l0.6 10.3l0.6 -5l0.6 -5.6l0.6 5.9l0.6 -4.4l0.6 3.4l0.6 2.7l0.6 -0.8l0.6 0.8l0.6 0l0.6 -4l0.6 0.6l0.6 4.5l0.6 -6.5l0.6 1.1l0.6 -0.7l0.6 5.7l0.6 -4l0.6 5.2l0.6 -1.5l0.6 -4.5l0.6 3.2l0.6 -7.6l0.6 11.5l0.6 -0.4l0.6 4.1l0.6 -3.7l0.6 -2.1l0.6 -9.2l0.6 10.8l0.6 -3.8l0.6 1.8l0.6 -7.2l0.6 6.3l0.6 -5.5l0.6 4.1l0.6 0.6l0.6 3.1l0.6 -5.6l0.6 9.2l0.6 -12.4l0.6 11.1l0.6 -6.6l0.6 1.4l0.6 3.6l0.6 1.5l0.6 -2.4l0.6 -1l0.6 -2.4l0.6 2.9l0.6 -2.2l0.6 -6.9l0.6 9.4l0.6 -1.3l0.6 -5.5l0.6 -1.5l0.6 -2.1l0.6 10.2l0.6 -5.1l0.6 2.8l0.6 0.5l0.6 5.1l0.6 2.3l0.6 -3l0.6 0.6l0.6 2.5l0.6 0.6l0.6 2.1l0.6 4.9l0.6 -1.8l0.6 -6l0.6 5.2l0.6 3.1l0.6 -3l0.6 7.6l0.6 3.8l0.6 6.1l0.6 -13.4l0.6 10.5l0.6 -6.6l0.6 11.8l0.6 2.9l0.6 -0.8l0.6 4.7l0.6 4.1l0.6 7.1l0.6 2.3l0.6 4.4l0.6 -6.3l0.6 -0.5l0.6 8.3l0.6 -1.3l0.6 -15.7l0.6 13.7l0.6 -6.4l0.6 1.2l0.6 -3.9l0.6 5.8l0.6 -5.2l0.6 -1.8l0.6 -0.8l0.6 -4.8l0.6 -1.5l0.6 6.4l0.6 3.5l0.6 -13.2l0.6 2.2l0.6 7l0.6 -9.8l0.6 4.5l0.6 2.4l0.6 -9l0.6 3.2l0.6 1.4l0.6 2.6l0.6 -0.7l0.6 -3.3l0.6 7l0.6 -1.9l0.6 -4.3l0.6 13.8l0.6 0.9l0.6 5.5l0.6 -3.2l0.6 2.1l0.6 2.4l0.6 -13l0.6 14.5l0.6 1.7l0.6 -6.5l0.6 9.9l0.6 -3.2l0.6 -0.4l0.6 2.9l0.6 -7.1l0.6 9.5l0.6 -2.7l0.6 0.2l0.6 9.2l0.6 -1.9l0.6 -7.4l0.6 3.4l0.6 0.6l0.6 -3.2l0.6 4l0.6 5.9l0.6 -0.6l0.6 -1.8l0.6 6.3l0.6 -0.9l0.6 2.4l0.6 -2l0.6 0.3l0.6 -0.4l0.6 2.2l0.6 6l0.6 -9.6l0.6 7.4l0.6 -2.9l0.6 12.3l0.6 -8.1l0.6 6.4l0.6 -6.6l0.6 6.4l0.6 -8.6l0.6 8.6l0.6 2.8l0.6 0.4l0.6 0.2l0.6 12l0.6 -12.4l0.6 1.3l0.6 -1.9l0.6 8.9l0.6 -5.3l0.6 2.4l0.6 -1.6l0.6 -8.7l0.6 2.8l0.6 5.4l0.6 9.8l0.6 -13.5l0.6 2.5l0.6 -3.5l0.6 -3.4l0.6 7.8l0.6 -2.1l0.6 3.3l0.6 -9.3l0.6 -2.3l0.6 16.5l0.6 -19l0.6 7.3l0.6 5.2l0.6 -5.6l0.6 8.1l0.6 -5.5l0.6 2.2l0.6 0.4l0.6 2.1l0.6 -5.2l0.6 1.8l0.6 3.9l0.6 -3.6l0.6 4.1l0.6 6l0.6 -1.5l0.6 -3.4l0.6 -5.2l0.6 2.2l0.6 10.6l0.6 -3.4l0.6 1.5l0.6 -7.5l0.6 4l0.6 -10.1l0.6 6.4l0.6 -8l0.6 11.6l0.6 1.5l0.6 -5.4l0.6 7.9l0.6 -4.6l0.6 -4.5l0.6 6.6l0.6 0.6l0.6 -4.5l0.6 4.3l0.6 -12.6l0.6 6.4l0.6 -0.2l0.6 -7.6l0.6 6.5l0.6 -3.4l0.6 -1.2l0.6 0.9l0.6 6.5l0.6 -2l0.6 0.7l0.6 -2.3l0.6 0.2l0.6 -2.4l0.6 1.8l0.6 2.3l0.6 -5.2l0.6 9l0.6 -7.3l0.6 3.4l0.6 -1.5l0.6 -8.3l0.6 0l0.6 13.1l0.6 -13.8l0.6 5.4l0.6 -7.2l0.6 -4.2l0.6 7.3l0.6 -5.3l0.6 -3.9l0.6 8.2l0.6 -15l0.6 9.3l0.6 4.1l0.6 -0.5l0.6 -6.5l0.6 10.4l0.6 -6.6l0.6 -1.5l0.6 1.4l0.6 8.3l0.6 -2.4l0.6 8l0.6 -0.5l0.6 -1.6l0.6 7.1l0.6 0l0.6 -0.1l0.6 3.5l0.6 -5.2l0.6 1.9l0.6 -3l0.6 11.6l0.6 -14.2l0.6 6.3l0.6 4.9l0.6 -0.6l0.6 -5.2l0.6 -0.8l0.6 -8.2l0.6 1.9l0.6 -3.2l0.6 5.2l0.6 -6.3l0.6 -4.2l0.6 -6.3l0.6 10.8l0.6 -12.4l0.6 -2.8l0.6 5.8l0.6 -12.4l0.6 1.5l0.6 3.5l0.6 -3.7l0.6 -1.8l0.6 -3.5l0.6 -1.7l0.6 -9.8l0.6 -5.7l0.6 -7.3l0.6 -6.6l0.6 -8.8l0.6 -5.5l0.6 4.6l0.6 -3.1l0.6 -3.9l0.6 5l0.6 -10l0.6 10.8l0.6 3.5l0.6 -7.2l0.6 4.4l0.6 -4.5l0.6 -8.5l0.6 8.7l0.6 -3.3l0.6 -0.4l0.6 -4.5l0.6 2.6l0.6 0.3l0.6 -1.8l0.6 -10.7l0.6 13.8l0.6 1.1l0.6 -3.1l0.6 -2.6l0.6 -1.1l0.6 -0.6l0.6 6.6l0.6 5.7l0.6 -7.2l0.6 8.7l0.6 -7.3l0.6 0.4l0.6 4.8l0.6 2.6l0.6 -5.7l0.6 9.8l0.6 -4.2l0.6 2.8l0.6 -1l0.6 -1.5l0.6 -0.8l0.6 0.4l0.6 -1.7l0.6 -3.7l0.6 8.1l0.6 -6.6l0.6 9.1l0.6 3.2l0.6 -2.4l0.6 -10.7l0.6 6.3l0.6 7.7l0.6 1.8l0.6 -3.7l0.6 -0.1l0.6 0.6l0.6 -1l0.6 -2.9l0.6 12.8l0.6 -8.8l0.6 -5.5l0.6 11l0.6 1.4l0.6 -2.1l0.6 -1.2l0.6 -6.8l0.6 1.6l0.6 -8.3l0.6 1.5l0.6 15.3l0.6 -9.8l0.6 -5.4l0.6 4.5l0.6 -2.5l0.6 4.6l0.6 -12.8l0.6 5.2l0.6 -11.9l0.6 -1.9l0.6 1.9l0.6 -1.2l0.6 0.9l0.6 -15.7l0.6 6.2l0.6 -1.2l0.6 -1.6l0.6 1.2l0.6 2.9l0.6 -4.6l0.6 0.9l0.6 -3.4l0.6 0.9l0.6 7.5l0.6 5.7l0.6 -7.9l0.6 5.1l0.6 0.8l0.6 -2.6l0.6 9.2l0.6 -2.8l0.6 -1.4l0.6 3.4l0.6 6.5l0.6 0.6l0.6 -1.9l0.6 3.7l0.6 4.4l0.6 2.2l0.6 -0.3l0.6 1.1l0.6 -9.5l0.6 3.5l0.6 10.1l0.6 -1.2l0.6 2.9l0.6 -6.6l0.6 4l0.6 -0.1l0.6 0.1l0.6 -3.7l0.6 6l0.6 0.1l0.6 -3.5l0.6 3.1l0.6 -4.1l0.6 0.1l0.6 -9.2l0.6 -7.2l0.6 -8.8l1.1 -15.9l0.7 8.5l0.6 7.2l0.6 6.7l0.6 6.4l0.6 8l0.6 4.4l0.6 2.5l0.6 5.4l0.6 3.8l0.6 4.8l0.6 1.8l0.6 6l0.6 4.8l0.6 8.8l0.6 -0.7l0.6 -0.3l0.6 1l0.6 4.7l0.6 -0.8l0.6 8.6l0.6 0l0.6 2.9l0.6 4.9l0.6 -3.2l0.6 2.1l0.6 -7.6l0.6 -5.2l0.6 0.8l0.6 13.7l0.6 -14.3l0.6 7.2l0.6 -12.7l0.6 2.8l0.6 -5.9l0.6 16.1l0.6 5.5l0.6 -10.1l0.6 -2.1l0.6 11.2l0.6 4.9l0.6 -1.6l0.6 0.4l0.6 5.9l0.6 -2l0.6 6.2l0.6 4.1l0.6 4.9l0.6 2.7l0.6 0.1l0.6 -2.4l0.6 8l0.6 -7.5l0.6 15l0.6 15.1l0.6 -9.8l0.6 -0.7l0.6 8.8l0.6 -7.8l0.6 10.4l0.6 4.8l0.6 -1.6l0.6 -1.2l0.6 0.1l0.6 8.7l0.6 -1.6l0.6 -13.8l0.6 16.2l0.6 -3.1l0.6 8.4l0.6 5l0.6 4.5l0.6 0.7l0.6 -12.2l0.6 9.8l0.6 1.5l0.6 3.3l0.6 6.7l0.6 -2.5l0.6 5.3l0.6 1l0.6 7l0.6 9l0.6 -15.7l0.6 -6.3l0.6 6.3l0.6 -6.6l0.6 23.7l0.6 -4.8l0.6 -2.5l0.6 5.2l0.6 -6.5l0.6 -4.7l0.6 10.5l0.6 -6.3l0.6 3.1l0.6 -6.3l0.6 13.8l0.6 -9.6l0.6 16.9l0.6 -14.4l0.6 24.7l0.6 -23.6l0.6 9.7l0.6 -1.5l0.6 -8.4l0.6 25.7l0.6 -19l0.6 69.1l0.6 -68.3l0.6 0.1l0.6 19l0.6 -5.6l0.6 5.8l0.6 -23.7l0.6 -2.3l0.6 21.7l0.6 -9.6l0.6 -1.6l0.6 2.7l0.6 -2.2l0.6 19.1l0.6 -27.8l0.6 32.4l0.6 -10.6l0.6 -7.7l0.6 4.8l0.6 1.4l0.6 -7.8l0.6 5.8l0.6 3.5l0.6 27.6l0.6 -19.8l0.6 -13.7l0.6 -6.1l0.6 5.9l0.6 -4.7l0.6 7.6l0.6 30.2l0.6 -38.3l0.6 22.7l0.6 -23.9l0.6 27.5l0.6 -15.7l0.6 -18.9l0.6 19.9l0.6 -9.7l0.6 -8.1l0.6 19.2l0.6 74.1l0.6 -64l0.6 -6.1l0.6 -22.1l0.6 35.9l0.6 -8l0.6 -31.7l0.6 29.6l0.6 -1.9l0.6 -9.6l0.6 -3.7l0.6 8.9l0.6 -12.3l0.6 11.6l0.6 -11.6l0.6 42.3l0.6 -6.4l0.6 -20.5l0.6 18l0.6 -8.6l0.6 -23.5l0.6 11.4l0.6 19.4l0.6 -21.6l0.6 9.7l0.6 3.4l0.6 -37.8l0.6 70.9l0.6 -34l0.6 -20.4l0.6 2l0.6 0.5l0.6 63.1l0.6 -43.6l0.6 -21.9l0.6 9l0.6 7.1l0.6 -0.7l0.6 -5.2l0.6 16.6l0.6 9.6l0.6 -13.4l0.6 -3.9l0.6 -9.5l0.6 20.6l0.6 7.4l0.6 -11.9l0.6 -11.4l0.6 16.7l0.6 -27.3l0.6 41.4l0.6 17.1l0.6 -22.5l0.6 11.4l0.6 -52.8l0.6 31.2l0.6 -9.2l0.6 30.2l0.6 -20.6l0.6 -23.7l0.6 31.1l0.6 -14.8l0.6 32.5l0.6 -35.2l0.6 25l0.6 -65.3l0.6 36l0.6 3.8l0.6 3.1l0.6 0.4l0.6 27.2l0.6 -43.7l0.6 40.3l0.6 -10.8l0.6 -16.5l0.6 11.6l0.6 21.4l0.6 45.3l0.6 -58l0.6 -46.5l0.6 33.9l0.6 14.9l0.6 -12.1l0.6 8.5l0.6 2.3l0.6 16.1l0.6 -45.5l0.6 42.1l0.6 -5l0.6 -42.6l0.6 32.2l0.6 -43l0.6 -4.7l0.6 49.1l0.6 -22.9l0.6 30.2l0.6 -17.1l0.6 -27.7l0.6 47.7l0.6 -53.3l0.6 48.3l0.6 -25.3l0.6 24.2l0.6 -6l0.6 -54.5l0.6 38.6l0.6 -21.3l0.6 3l0.6 18.4l0.6 43.4l0.6 -44.3l0.6 -5.6l0.6 28.9l0.6 -34.9l0.6 21l0.6 19.5l0.6 -47.1l0.6 38.9l0.6 2.8"/>
<path stroke="#990c10" d="M1273 645l0.6 -22.3l0.6 -27.4l0.6 -23.6l0.6 -25.5l0.6 -11.9l0.6 -9.7l0.6 -12.1l0.6 -10.7l0.6 -11.1l0.6 -11.8l0.6 -12.6l0.6 -12.4l0.6 -11.6l0.6 -10l0.6 -8.8l0.6 -12.3l0.6 -11.8l0.6 -9.1l0.6 -9.1l0.6 -11.1l0.6 -8.1l0.6 -5.2l0.6 -6.1l0.6 -6.2l0.6 -9.5l0.6 -4.4l0.6 -4.5l0.6 -4.2l0.6 -6.3l0.6 -7.6l0.6 -3.6l0.6 -7l0.6 -5.7l0.6 -6.2l0.6 -5.4l0.6 -4.8l0.6 -7.7l0.6 -2.3l0.6 -4.5l0.6 -3.5l0.6 -3.7l0.6 -5.3l0.6 0.8l0.6 0.4l0.6 -9.7l0.6 6.5l0.6 -5.2l0.6 2.4l0.6 -13.4l0.6 4.6l0.6 -3l0.6 -2.7l0.6 -6l0.6 2.8l0.6 -2l0.6 -4.6l0.6 -1.4l0.6 3.3l0.6 -5.5l0.6 1.4l0.6 1.4l0.6 -7.5l0.6 -0.3l0.6 -5.4l0.6 -2.1l0.6 5.1l0.6 -1.6l0.6 3.7l0.6 0.2l0.6 -3.4l0.6 1.9l0.6 -3.1l0.6 4l0.6 -5.9l0.6 6.3l0.6 2.8l0.6 -9.8l0.6 4l0.6 4.9l0.6 -0.3l0.6 -0.3l0.6 -4.5l0.6 7.2l0.6 -3.7l0.6 -1.4l0.6 1.6l0.6 -1l0.6 -0.5l0.6 -3.3l0.6 -0.6l0.6 -4.8l0.6 7.9l0.6 2.4l0.6 -9.6l0.6 4.5l0.6 -2.3l0.6 -2.5l0.6 0.5l0.6 -4.3l0.6 7l0.6 -2.7l0.6 1.8l0.6 2l0.6 -3.3l0.6 -5.6l0.6 5.7l0.6 -3.4l0.6 1.2l0.6 -2.3l0.6 2.3l0.6 -1.5l0.6 -1.2l0.6 0.6l0.6 5.1l0.6 -0.2l0.6 -5.4l0.6 0.7l0.6 3.3l0.6 -3.2l0.6 1.4l0.6 4.5l0.6 3.8l0.6 -2.9l0.6 -0.6l0.6 1.4l0.6 0.6l0.6 -1.4l0.6 3.3l0.6 -0.8l0.6 2.5l0.6 -0.7l0.6 3.1l0.6 -0.5l0.6 -0.9l0.6 -1.2l0.6 7l0.6 1l0.6 -0.6l0.6 -0.5l0.6 -6.8l0.6 3.4l0.6 8.5l0.6 -11.6l0.6 -1.4l0.6 3.3l0.6 -8.5l0.6 8.1l0.6 -1.3l0.6 -2.9l0.6 5.3l0.6 -7.7l0.6 2.4l0.6 -4.3l0.6 1.4l0.6 3.2l0.6 -8.5l0.6 10.2l0.6 -8l0.6 3.8l0.6 2.3l0.6 -2.7l0.6 -7.4l0.6 10.8l0.6 -2.6l0.6 -0.5l0.6 -8.8l0.6 0.6l0.6 -1.8l0.6 3.2l0.6 -0.2l0.6 -4.3l0.6 4.6l0.6 -2.3l0.6 -3l0.6 -1.6l0.6 -6.9l0.6 6.9l0.6 5.9l0.6 -11.3l0.6 8.8l0.6 -2l0.6 3.7l0.6 1.9l0.6 1l0.6 -6.1l0.6 6.6l0.6 0.9l0.6 3.2l0.6 1.1l0.6 -4l0.6 6.8l0.6 -3.5l0.6 3.2l0.6 -1.5l0.6 -2l0.6 3.1l0.6 -0.1l0.6 -1.5l0.6 1.9l0.6 -3l0.6 3.8l0.6 2.2l0.6 -6.3l0.6 3.9l0.6 2.2l0.6 3.6l0.6 -6.5l0.6 -0.2l0.6 6.8l0.6 -7.5l0.6 5.6l0.6 -1.3l0.6 5.5l0.6 -2.1l0.6 -1.9l0.6 3.6l0.6 -4.5l0.6 2.8l0.6 -4.9l0.6 5.1l0.6 0.7l0.6 0.5l0.6 -3.1l0.6 7.9l0.6 -7.6l0.6 11.1l0.6 -7.3l0.6 2l0.6 -0.9l0.6 -1.2l0.6 7.1l0.6 -2.9l0.6 6.5l0.6 -8.8l0.6 1l0.6 6.9l0.6 -8.2l0.6 11l0.6 -0.5l0.6 -9.1l0.6 9.6l0.6 -2.1l0.6 -2.4l0.6 2.2l0.6 2.5l0.6 -1.8l0.6 0.6l0.6 -1.1l0.6 0.4l0.6 -2.5l0.6 2.6l0.6 -0.1l0.6 1.9l0.6 -4.1l0.6 3.7l0.6 -2.5l0.6 2l0.6 1.8l0.6 -2l0.6 8.6l0.6 -0.7l0.6 1.5l0.6 1.3l0.6 -7.8l0.6 4.8l0.6 -0.1l0.6 0.3l0.6 1.5l0.6 -2.3l0.6 -1.9l0.6 2.9l0.6 0.8l0.6 1.2l0.6 1.9l0.6 -3l0.6 -0.5l0.6 3.7l0.6 0.2l0.6 2.8l0.6 -5.6l0.6 5l0.6 0l0.6 -0.7l0.6 3.4l0.6 1.8l0.6 -3.7l0.6 2.8l0.6 -2.7l0.6 2l0.6 3.1l0.6 -6.7l0.6 4.1l0.6 0.6l0.6 -5.9l0.6 11.4l0.6 5.1l0.6 2.9l0.6 -4.2l0.6 -2.2l0.6 0.6l0.6 -1.1l0.6 -2.1l0.6 -1.7l0.6 8.9l0.6 -1.1l0.6 -3.5l0.6 0.1l0.6 6l0.6 -2l0.6 0.7l0.6 5.1l0.6 -1.9l0.6 -4.6l0.6 2.9l0.6 3.8l0.6 -1l0.6 1.7l0.6 -0.4l0.6 -0.3l0.6 11.3l0.6 -11.4l0.6 6.7l0.6 -0.9l0.6 -0.7l0.6 4l0.6 2.7l0.6 -1.2l0.6 -2.7l0.6 3.4l0.6 -1.7l0.6 2l0.6 3.8l0.6 2.2l0.6 -5.9l0.6 4l0.6 -3.3l0.6 5.2l0.6 -2.4l0.6 5.2l0.6 -1.4l0.6 -1l0.6 -5.2l0.6 4.2l0.6 -3.4l0.6 0.5l0.6 -4.8l0.6 5.3l0.6 1.5l0.6 -4.1l0.6 2l0.6 -6.8l0.6 9.2l0.6 2l0.6 -1.8l0.6 -6l0.6 2.3l0.6 -7.7l0.6 8.9l0.6 7.9l0.6 -9.4l0.6 6.4l0.6 -3.5l0.6 -3l0.6 -0.6l0.6 4.9l0.6 0l0.6 -1.8l0.6 -0.1l0.6 2l0.6 -2.4l0.6 -1.9l0.6 3.3l0.6 0.2l0.6 -0.3l0.6 6.2l0.6 3.1l0.6 -1.7l0.6 2.5l0.6 -11.7l0.6 8.5l0.6 0.6l0.6 5.5l0.6 -7.3l0.6 0.3l0.6 9.6l0.6 -5.1l0.6 4.2l0.6 1.1l0.6 -7.8l0.6 9.9l0.6 -5.3l0.6 10.5l0.6 -7.9l0.6 -0.7l0.6 -5.8l0.6 8.4l0.6 -6.1l0.6 5.2l0.6 -6.5l0.6 8.3l0.6 -0.5l0.6 6.6l0.6 0.2l0.6 -0.7l0.6 -2.9l0.6 6.4l0.6 0.9l0.6 1.7l0.6 -4.4l0.6 7.6l0.6 0.5l0.6 -0.2l0.6 -5.4l0.6 0.2l0.6 3.2l0.6 1.4l0.6 -1.9l0.6 6.5l0.6 -4.3l0.6 -1.1l0.6 2.3l0.6 7.7l0.6 -11.2l0.6 9.4l0.6 0l0.6 1.8l0.6 -4.8l0.6 -7.2l0.6 8.2l0.6 -6.5l0.6 11.4l0.6 -0.3l0.6 -3.8l0.6 1l0.6 6.3l0.6 -11l0.6 6.6l0.6 1.9l0.6 3.7l0.6 -0.6l0.6 2.1l0.6 -4.2l0.6 4.5l0.6 -7.3l0.6 7.9l0.6 -3.7l0.6 -4.5l0.6 5.2l0.6 -4.7l0.6 2.4l0.6 0.2l0.6 8.3l0.6 -7.4l0.6 -1l0.6 0l0.6 4.6l0.6 1.6l0.6 2.4l0.6 -2.7l0.6 1.4l0.6 -9.3l0.6 9l0.6 -2.9l0.6 2l0.6 -13.4l0.6 16.4l0.6 -4.8l0.6 5l0.6 -6.1l0.6 9.7l0.6 -8.3l0.6 6.5l0.6 2.2l0.6 -3.4l0.6 1.8l0.6 -0.5l0.6 0.2l0.6 -1.7l0.6 0.6l0.6 1.9l0.6 -3l0.6 3.7l0.6 -4.3l0.6 0.8l0.6 -1.8l0.6 6.1l0.6 -4.7l0.6 -3.5l0.6 2.9l0.6 1l0.6 -6.3l0.6 1.1l0.6 -6.5l0.6 0.7l0.6 1.8l0.6 1.6l0.6 -3.8l0.6 6l0.6 -10.8l0.6 6.7l0.6 0.8l0.6 -0.5l0.6 -5l0.6 -1.4l0.6 4l0.6 6.2l0.6 -6.3l0.6 4.4l0.6 -7.8l0.6 8.1l0.6 -12.4l0.6 14.3l0.6 -6l0.6 5l0.6 -0.1l0.6 0l0.6 -0.1l0.6 -2l0.6 -5l0.6 3.1l0.6 -3l0.6 -1.2l0.6 4.1l0.6 3.1l0.6 -3.4l0.6 -0.2l0.6 3.7l0.6 -8l0.6 11.9l0.6 0.8l0.6 2.7l0.6 -6.2l0.6 6.9l0.6 -1.8l0.6 1.7l0.6 -1.4l0.6 8.3l0.6 -5.1l0.6 0.8l0.6 -0.8l0.6 -1.4l0.6 -5.2l0.6 -3.9l0.6 -4.8l0.6 -8l0.6 5.3l0.6 3.1l0.6 -10.6l0.6 8.4l0.6 -4l0.6 -0.2l0.6 -0.1l0.6 4.3l0.6 2.9l0.6 -3.8l0.6 -1.2l0.6 1.6l0.6 1.4l0.6 -5.5l0.6 9.2l0.6 -6.9l0.6 1.5l0.6 8.1l0.6 -13.8l0.6 5.5l0.6 3.8l0.6 -2.9l0.6 -1.6l0.6 13.8l0.6 -10.1l0.6 1.7l0.6 7.5l0.6 -5.6l0.6 -1.9l0.6 1.7l0.6 -9.2l0.6 6.2l0.6 1.9l0.6 0.4l0.6 -3.4l0.6 -1l0.6 -1.4l0.6 7.8l0.6 1.9l0.6 -4.3l0.6 3.9l0.6 -7l0.6 -2.3l0.6 6.3l0.6 0.3l0.6 7.3l0.6 -4l0.6 -8.4l0.6 1.3l0.6 4.1l0.6 -0.7l0.6 -5.6l0.6 7.5l0.6 -1.3l0.6 2.2l0.6 -3.2l0.6 5.2l0.6 -0.4l0.6 -3.4l0.6 -4.3l0.6 2.9l0.6 7.3l0.6 -8.7l0.6 2.6l0.6 -1.7l0.6 -1.1l0.6 6.1l0.6 -0.7l0.6 0.9l0.6 -12.2l0.6 5l0.6 8.5l0.6 -6.2l0.6 -0.2l0.6 -4.8l0.6 2.7l0.6 4.5l0.6 -1.1l0.6 6.4l0.6 -6.1l0.6 -1.3l0.6 -6.1l0.6 15l0.6 -14.1l0.6 8.2l0.6 -10.2l0.6 10.5l0.6 -9.7l0.6 -2.4l0.6 -4.6l0.6 13.4l0.6 1.7l0.6 0.9l0.6 9.4l0.6 -3.9l0.6 1.5l0.6 -7.3l0.6 9.9l0.6 0.7l0.6 -0.8l0.6 6.4l0.6 3.1l0.6 0.5l0.6 -5l0.6 5l0.6 -5.4l0.6 4.4l0.6 -1l0.6 8.9l0.6 7.6l0.6 -11.6l0.6 2.6l0.6 0.4l0.6 4.3l0.6 6.7l0.6 -0.9l0.6 5.9l0.6 1.6l0.6 3l0.6 4.1l0.6 3.4l0.6 1l0.6 -4.9l0.6 4.3l0.6 -1l0.6 2.1l0.6 -4.8l0.6 4.3l0.6 -5l0.6 -2.3l0.6 3.9l0.6 -1.9l0.6 13.3l0.6 -17.9l0.6 7.1l0.6 -5.4l0.6 10.3l0.6 -9.4l0.6 -7.6l0.6 4.9l0.6 -11.2l0.6 6l0.6 3.8l0.6 0.9l0.6 -4.2l0.6 -3.6l0.6 4.1l0.6 -9.4l0.6 8l0.6 2.8l0.6 -1.7l0.6 1.4l0.6 6.5l0.6 -1.3l0.6 0.6l0.6 5.9l0.6 3.5l0.6 -1.6l0.6 -6.2l0.6 3l0.6 0.9l0.6 9l0.6 2.7l0.6 -2.3l0.6 -0.3l0.6 4l0.6 -6.5l0.6 7.2l0.6 -7.9l0.6 9.6l0.6 -2.5l0.6 6l0.6 -1.3l0.6 2l0.6 2.4l0.6 -4.2l0.6 -5l0.6 6.6l0.6 -1.2l0.6 8.8l0.6 -12.3l0.6 -2.4l0.6 6l0.6 6.2l0.6 0.6l0.6 -3.2l0.6 1.5l0.6 -3.7l0.6 10.1l0.6 -3.9l0.6 5.8l0.6 -6.8l0.6 5.4l0.6 3.1l0.6 -7.7l0.6 10.1l0.6 -1.2l0.6 1.4l0.6 5.6l0.6 -4.6l0.6 4.1l0.6 -3.8l0.6 7.4l0.6 -4.8l0.6 6l0.6 -2.3l0.6 7.2l0.6 -6.9l0.6 4.9l0.6 1.1l0.6 -7.4l0.6 -1.9l0.6 2.3l0.6 -1l0.6 6.3l0.6 2.5l0.6 -10.1l0.6 -2.1l0.6 -7.5l0.6 6.4l0.6 -1.2l0.6 3.3l0.6 1.2l0.6 -7.3l0.6 5.7l0.6 0.4l0.6 6.6l0.6 0.2l0.6 -4.3l0.6 8.7l0.6 6.6l0.6 -7.5l0.6 -0.2l0.6 -2.4l0.6 -10.2l0.6 7.8l0.6 -0.7l0.6 -1.5l0.6 2.6l0.6 2.2l0.6 -0.9l0.6 4.3l0.6 1.1l0.6 -18.7l0.6 7.7l0.6 -0.7l0.6 -6.8l0.6 -0.5l0.6 5.6l0.6 -1l0.6 8.1l0.6 3.9l0.6 -11.3l0.6 3.5l0.6 -3.2l0.6 -1.6l0.6 -0.6l0.6 -2.9l0.6 11.1l0.6 -2.7l0.6 2.3l0.6 -9.2l0.6 1.7l0.6 2.2l0.6 -8.1l0.6 6.5l0.6 -6.2l0.6 -6.8l0.6 15.3l0.6 -9.9l0.6 12.1l0.6 -8.7l0.6 -0.2l0.6 4.7l0.6 -1.5l0.6 -10.9l0.6 1.6l0.6 -2.7l0.6 1.7l0.6 5.4l0.6 -6.8l0.6 0.3l0.6 -4.5l0.6 6.7l0.6 -1.1l0.6 3.2l0.6 -0.9l0.6 -9.7l0.6 4.7l0.6 -0.7l0.6 1.9l0.6 -1.5l0.6 -2.7l0.6 2.6l0.6 2.9l0.6 7.9l0.6 -2l0.6 -5.1l0.6 -9.5l0.6 9.2l0.6 -0.2l0.6 3.6l0.6 -0.6l0.6 -0.4l0.6 3.8l0.6 2.3l0.6 6.6l0.6 0.8l0.6 -4.9l0.6 -1.6l0.6 11.1l0.6 -12.1l0.6 11.6l0.6 -4.3l0.6 8.4l0.6 -16.2l0.6 8.3l0.6 -11.9l0.6 9.3l0.6 -8l0.6 4.1l0.6 -3.3l0.6 7.1l0.6 -8l0.6 4.5l0.6 -6.8l0.6 0.7l0.6 2.5l0.6 -12.8l0.6 2.8l0.6 -8.1l0.6 -0.2l0.6 1.5l0.6 0.9l0.6 -5l0.6 -6.6l0.6 0.9l0.6 0.3l0.6 -1.9l0.6 -5.1l0.6 5.5l0.6 -11l0.6 -3.7l0.6 -4.8l0.6 -4l0.6 -5l0.6 -7.3l0.6 -5.3l0.6 2.6l0.6 -4.1l0.6 -2.4l0.6 5.2l0.6 -2.8l0.6 -5.7l0.6 -0.9l0.6 3.4l0.6 -4.4l0.6 3.9l0.6 3.5l0.6 -8.3l0.6 4.8l0.6 4l0.6 -14.7l0.6 2l0.6 1.3l0.6 -0.5l0.6 6.3l0.6 0.1l0.6 -1.1l0.6 -5.8l0.6 5.8l0.6 1.4l0.6 4.1l0.6 -2.4l0.6 6l0.6 -7.4l0.6 4.8l0.6 -5.9l0.6 4.2l0.6 1.2l0.6 -0.9l0.6 -1l0.6 4.5l0.6 -3.6l0.6 2.7l0.6 4.8l0.6 -1.3l0.6 1.5l0.6 -1.6l0.6 4.5l0.6 -10.4l0.6 5.5l0.6 5.1l0.6 -5.2l0.6 1.5l0.6 3.4l0.6 -3.9l0.6 6.3l0.6 3.4l0.6 -13.6l0.6 3.8l0.6 -2l0.6 6.6l0.6 1.7l0.6 -12.2l0.6 6.1l0.6 3.5l0.6 -0.4l0.6 -1.1l0.6 6.8l0.6 -5.2l0.6 2.6l0.6 1.9l0.6 -6.7l0.6 2.2l0.6 1.3l0.6 1.8l0.6 -8l0.6 4.6l0.6 0.5l0.6 -0.9l0.6 -4.9l0.6 -9.3l0.6 5.4l0.6 -5.9l0.6 -0.2l0.6 -2.9l0.6 -2l0.6 -2.6l0.6 8.3l0.6 -8.1l0.6 1.4l0.6 -1.2l0.6 2.9l0.6 1.6l0.6 -3.7l0.6 6.1l0.6 -1.7l0.6 -1.9l0.6 -3.2l0.6 10.4l0.6 -5.1l0.6 0.4l0.6 3.6l0.6 3.6l0.6 -3.9l0.6 3l0.6 8.3l0.6 -11.2l0.6 1.6l0.6 4.9l0.6 5.7l0.6 -1.9l0.6 6.4l0.6 0.8l0.6 -7.5l0.6 -4.2l0.6 4.1l0.6 6.6l0.6 -3.7l0.6 -0.9l0.6 6.6l0.6 -5.3l0.6 0.8l0.6 9.3l0.6 -0.1l0.6 -6.3l0.6 -1.7l0.6 -0.4l0.6 -5.2l0.6 2.2l0.6 -3.8l0.6 -2.3l0.6 -1.8l0.6 -7.8l0.6 0.8l0.6 -1.6l0.6 7.4l0.6 5.6l0.6 5.2l0.6 7.5l0.6 4.8l0.6 4.9l0.6 5.2l0.6 4.6l0.6 2.1l0.6 -1.2l0.6 8.2l0.6 -2.5l0.6 3.2l0.6 -1.9l0.6 9l0.6 -0.5l0.6 8.1l0.6 3l0.6 13.4l0.6 -10.7l0.6 -0.1l0.6 9.9l0.6 -2.8l0.6 7.1l0.6 -11.7l0.6 1.8l0.6 9.7l0.6 -3.4l0.6 -4.5l0.6 -4.6l0.6 6.2l0.6 4.2l0.6 -10.7l0.6 7.5l0.6 8.9l0.6 -8.1l0.6 2.4l0.6 3.1l0.6 -6.2l0.6 -2l0.6 8.3l0.6 10.4l0.6 -0.5l0.6 0.9l0.6 -2.4l0.6 5.9l0.6 -0.8l0.6 6.2l0.6 -5l0.6 19.9l0.6 -10.1l0.6 0.8l0.6 -5.1l0.6 -0.1l0.6 1.7l0.6 13.7l0.6 0.9l0.6 3.8l0.6 3.8l0.6 4.7l0.6 1.3l0.6 4.5l0.6 3.5l0.6 6.7l0.6 7.6l0.6 10l0.6 -21.3l0.6 5.6l0.6 5.3l0.6 -3l0.6 6.8l0.6 12.6l0.6 -0.7l0.6 -17.6l0.6 15.2l0.6 4.1l0.6 11l0.6 -16.2l0.6 -4.5l0.6 13.2l0.6 -10.6l0.6 -0.7l0.6 13.8l0.6 64.3l0.6 -58.5l0.6 -5.5l0.6 -6.2l0.6 23.5l0.6 5.8l0.6 -23.6l0.6 -2.9l0.6 12.6l0.6 10.9l0.6 -1.6l0.6 -3.9l0.6 3.1l0.6 -14.4l0.6 6.5l0.6 -2.6l0.6 26.1l0.6 -15l0.6 4.7l0.6 -8.8l0.6 -4l0.6 10.8l0.6 15l0.6 0.2l0.6 -11l0.6 -31l0.6 30.8l0.6 -6.5l0.6 3.9l0.6 24.9l0.6 -22.6l0.6 2.3l0.6 -1.9l0.6 24.3l0.6 -44.1l0.6 42.5l0.6 3.7l0.6 -10.5l0.6 -8.7l0.6 2.3l0.6 19.2l0.6 -14.5l0.6 3l0.6 -15.1l0.6 17.6l0.6 -14.4l0.6 -29.9l0.6 50.8l0.6 -22.2l0.6 21.1l0.6 -24l0.6 29.2l0.6 9.7l0.6 -30.7l0.6 17.1l0.6 -31.3l0.6 20.8l0.6 88.4l0.6 -62.8l0.6 -4.1l0.6 -18.7l0.6 14l0.6 -6.1l0.6 -13.3l0.6 -10.3l0.6 73.4l0.6 -70.4l0.6 28.7l0.6 -18.7l0.6 12.8l0.6 -4.3l0.6 -8.2l0.6 18.1l0.6 -21.5l0.6 28.7l0.6 -35.3l0.6 1.7l0.6 8.8l0.6 32.1l0.6 -7.3l0.6 10.6l0.6 -40.1l0.6 -11.3l0.6 41.3l0.6 -17.6l0.6 -7.2l0.6 -0.4l0.6 15.3l0.6 2.2l0.6 -36.2l0.6 20.6l0.6 -18.7l0.6 -3.1l0.6 46l0.6 -41.4l0.6 1.7l0.6 29.1l0.6 28.2l0.6 -24.8l0.6 2l0.6 -6.6l0.6 -14.2l0.6 -7l0.6 27.3l0.6 -8.9l0.6 -2.8l0.6 -7.5l0.6 18.8l0.6 -39.2l0.6 46.5l0.6 -7.2l0.6 -16.6l0.6 29.4l0.6 23.3l0.6 -33.1l0.6 -36.5l0.6 34.3l0.6 -4.8l0.6 -38.2l0.6 40.4l0.6 -26.5l0.6 38.9l0.6 5l0.6 -22.4l0.6 -1.6l0.6 3.3l0.6 -16l0.6 -5.3l0.6 38.5l0.6 -8.8l0.6 -20.8l0.6 -15.9l0.6 12.5l0.6 1.9l0.6 9.4l0.6 -15.2l0.6 83.2l0.6 -63.6l0.6 23.7l0.6 -50.2l0.6 53.2l0.6 -2.6l0.6 -29.4l0.6 25.7l0.6 -33l0.6 -10.8l0.6 27.3l0.6 4.3l0.6 -1.1l0.6 0.4l0.6 -49.7l0.6 25.4l0.6 -14.9l0.6 13.6l0.6 13.5l0.6 -5.1l0.6 66.5l0.6 -48.5l0.6 -11.5l0.6 -35.4l0.6 30.3l0.6 13.3l0.6 -30.3l0.6 36.5l0.6 -11.5l0.6 -9.1l0.6 3.2l0.6 7.8l0.6 8.8l0.6 -20.1l0.6 -27.2l0.6 59.9l0.6 0.8l0.6 -21l0.6 23l0.6 -48.4l0.6 8l0.6 45.8l0.6 -25.4l0.6 -9.3l0.6 48l0.6 -18.8l0.6 -47.5"/>
<path stroke="#2aeac8" d="M1198.8 588V635"/>
<path stroke="#a8ee3c" d="M1205 627V646"/>
<path stroke="#1890f8" d="M1216.7 587V601"/>
<path stroke="#1890f8" d="M1241.6 602V612"/>
<path stroke="#2aeac8" d="M1235.4 624V646"/>
<path stroke="#2aeac8" d="M1244.5 600V646"/>
<path stroke="#1890f8" d="M1254.5 568V605"/>
<path stroke="#1890f8" d="M1257 575V600"/>
<path stroke="#1890f8" d="M1259.5 580V640"/>
<path stroke="#1890f8" d="M1262.5 570V630"/>
<path stroke="#1890f8" d="M1265 557V620"/>
<path stroke="#2aeac8" d="M1267.5 590V646"/>
<path stroke="#1890f8" d="M1270 575V646"/>
<path stroke="#a8ee3c" d="M1261 600V646"/>
<path stroke="#2aeac8" d="M1264 610V646"/>
</g>
<path d="M1198 38.8H2046.2V645.5H1198ZM1198 645.5v12M1198 38.8v-12M1210.1 645.5v6M1210.1 38.8v-6M1222.2 645.5v6M1222.2 38.8v-6M1234.4 645.5v6M1234.4 38.8v-6M1246.5 645.5v6M1246.5 38.8v-6M1258.6 645.5v6M1258.6 38.8v-6M1270.7 645.5v6M1270.7 38.8v-6M1282.8 645.5v6M1282.8 38.8v-6M1294.9 645.5v6M1294.9 38.8v-6M1307.1 645.5v6M1307.1 38.8v-6M1319.2 645.5v12M1319.2 38.8v-12M1331.3 645.5v6M1331.3 38.8v-6M1343.4 645.5v6M1343.4 38.8v-6M1355.5 645.5v6M1355.5 38.8v-6M1367.6 645.5v6M1367.6 38.8v-6M1379.8 645.5v6M1379.8 38.8v-6M1391.9 645.5v6M1391.9 38.8v-6M1404 645.5v6M1404 38.8v-6M1416.1 645.5v6M1416.1 38.8v-6M1428.2 645.5v6M1428.2 38.8v-6M1440.3 645.5v12M1440.3 38.8v-12M1452.5 645.5v6M1452.5 38.8v-6M1464.6 645.5v6M1464.6 38.8v-6M1476.7 645.5v6M1476.7 38.8v-6M1488.8 645.5v6M1488.8 38.8v-6M1500.9 645.5v6M1500.9 38.8v-6M1513 645.5v6M1513 38.8v-6M1525.2 645.5v6M1525.2 38.8v-6M1537.3 645.5v6M1537.3 38.8v-6M1549.4 645.5v6M1549.4 38.8v-6M1561.5 645.5v12M1561.5 38.8v-12M1573.6 645.5v6M1573.6 38.8v-6M1585.7 645.5v6M1585.7 38.8v-6M1597.9 645.5v6M1597.9 38.8v-6M1610 645.5v6M1610 38.8v-6M1622.1 645.5v6M1622.1 38.8v-6M1634.2 645.5v6M1634.2 38.8v-6M1646.3 645.5v6M1646.3 38.8v-6M1658.5 645.5v6M1658.5 38.8v-6M1670.6 645.5v6M1670.6 38.8v-6M1682.7 645.5v12M1682.7 38.8v-12M1694.8 645.5v6M1694.8 38.8v-6M1706.9 645.5v6M1706.9 38.8v-6M1719 645.5v6M1719 38.8v-6M1731.2 645.5v6M1731.2 38.8v-6M1743.3 645.5v6M1743.3 38.8v-6M1755.4 645.5v6M1755.4 38.8v-6M1767.5 645.5v6M1767.5 38.8v-6M1779.6 645.5v6M1779.6 38.8v-6M1791.7 645.5v6M1791.7 38.8v-6M1803.9 645.5v12M1803.9 38.8v-12M1816 645.5v6M1816 38.8v-6M1828.1 645.5v6M1828.1 38.8v-6M1840.2 645.5v6M1840.2 38.8v-6M1852.3 645.5v6M1852.3 38.8v-6M1864.4 645.5v6M1864.4 38.8v-6M1876.6 645.5v6M1876.6 38.8v-6M1888.7 645.5v6M1888.7 38.8v-6M1900.8 645.5v6M1900.8 38.8v-6M1912.9 645.5v6M1912.9 38.8v-6M1925 645.5v12M1925 38.8v-12M1937.1 645.5v6M1937.1 38.8v-6M1949.3 645.5v6M1949.3 38.8v-6M1961.4 645.5v6M1961.4 38.8v-6M1973.5 645.5v6M1973.5 38.8v-6M1985.6 645.5v6M1985.6 38.8v-6M1997.7 645.5v6M1997.7 38.8v-6M2009.8 645.5v6M2009.8 38.8v-6M2022 645.5v6M2022 38.8v-6M2034.1 645.5v6M2034.1 38.8v-6M2046.2 645.5v12M2046.2 38.8v-12M1198 645.3h17M2046.2 645.3h-17M1198 610.9h8.5M2046.2 610.9h-8.5M1198 590.8h8.5M2046.2 590.8h-8.5M1198 576.5h8.5M2046.2 576.5h-8.5M1198 565.4h8.5M2046.2 565.4h-8.5M1198 556.4h8.5M2046.2 556.4h-8.5M1198 548.7h8.5M2046.2 548.7h-8.5M1198 542.1h8.5M2046.2 542.1h-8.5M1198 536.2h8.5M2046.2 536.2h-8.5M1198 531h17M2046.2 531h-17M1198 496.6h8.5M2046.2 496.6h-8.5M1198 476.5h8.5M2046.2 476.5h-8.5M1198 462.2h8.5M2046.2 462.2h-8.5M1198 451.1h8.5M2046.2 451.1h-8.5M1198 442.1h8.5M2046.2 442.1h-8.5M1198 434.4h8.5M2046.2 434.4h-8.5M1198 427.8h8.5M2046.2 427.8h-8.5M1198 421.9h8.5M2046.2 421.9h-8.5M1198 416.7h17M2046.2 416.7h-17M1198 382.3h8.5M2046.2 382.3h-8.5M1198 362.2h8.5M2046.2 362.2h-8.5M1198 347.9h8.5M2046.2 347.9h-8.5M1198 336.8h8.5M2046.2 336.8h-8.5M1198 327.8h8.5M2046.2 327.8h-8.5M1198 320.1h8.5M2046.2 320.1h-8.5M1198 313.5h8.5M2046.2 313.5h-8.5M1198 307.6h8.5M2046.2 307.6h-8.5M1198 302.4h17M2046.2 302.4h-17M1198 268h8.5M2046.2 268h-8.5M1198 247.9h8.5M2046.2 247.9h-8.5M1198 233.6h8.5M2046.2 233.6h-8.5M1198 222.5h8.5M2046.2 222.5h-8.5M1198 213.5h8.5M2046.2 213.5h-8.5M1198 205.8h8.5M2046.2 205.8h-8.5M1198 199.2h8.5M2046.2 199.2h-8.5M1198 193.3h8.5M2046.2 193.3h-8.5M1198 188.1h17M2046.2 188.1h-17M1198 153.7h8.5M2046.2 153.7h-8.5M1198 133.6h8.5M2046.2 133.6h-8.5M1198 119.3h8.5M2046.2 119.3h-8.5M1198 108.2h8.5M2046.2 108.2h-8.5M1198 99.2h8.5M2046.2 99.2h-8.5M1198 91.5h8.5M2046.2 91.5h-8.5M1198 84.9h8.5M2046.2 84.9h-8.5M1198 79h8.5M2046.2 79h-8.5M1198 73.8h17M2046.2 73.8h-17M1198 39.4h8.5M2046.2 39.4h-8.5" fill="none" stroke="#1a1a1a" stroke-width="1.35"/>
<text x="1198" y="691.7" font-size="28" text-anchor="middle">256</text>
<text x="1319.2" y="691.7" font-size="28" text-anchor="middle">257</text>
<text x="1440.3" y="691.7" font-size="28" text-anchor="middle">258</text>
<text x="1561.5" y="691.7" font-size="28" text-anchor="middle">259</text>
<text x="1682.7" y="691.7" font-size="28" text-anchor="middle">260</text>
<text x="1803.9" y="691.7" font-size="28" text-anchor="middle">261</text>
<text x="1925" y="691.7" font-size="28" text-anchor="middle">262</text>
<text x="2046.2" y="691.7" font-size="28" text-anchor="middle">263</text>
<text x="1190" y="645.6" font-size="27" text-anchor="end">10<tspan font-size="16.5" dy="-12.8">-4</tspan></text>
<text x="1190" y="540.6" font-size="27" text-anchor="end">10<tspan font-size="16.5" dy="-12.8">-3</tspan></text>
<text x="1190" y="426.3" font-size="27" text-anchor="end">10<tspan font-size="16.5" dy="-12.8">-2</tspan></text>
<text x="1190" y="312" font-size="27" text-anchor="end">10<tspan font-size="16.5" dy="-12.8">-1</tspan></text>
<text x="1190" y="197.7" font-size="27" text-anchor="end">10<tspan font-size="16.5" dy="-12.8">0</tspan></text>
<text x="1190" y="83.4" font-size="27" text-anchor="end">10<tspan font-size="16.5" dy="-12.8">1</tspan></text>
<text x="1622.5" y="720.2" font-size="27" text-anchor="middle">Day of year 2000</text>
<text transform="translate(1124.4 342.6) rotate(-90)" font-size="26.8" text-anchor="middle">HE differential flux (1/cm<tspan font-size="16" dy="-11">2</tspan><tspan dy="11">-s-sr-MeV/n)</tspan></text>
<text x="1310.2" y="25.7" font-size="33.75">Wind/EPACT Date: 20000912 - 20000919</text>
<text x="1109.9" y="40.3" font-size="41">(b)</text>
<text x="1226.5" y="69.4" font-size="24.4">CME</text>
<text x="1226.5" y="98.3" font-size="24.4">onset</text>
<text x="1411.3" y="69.5" font-size="28.2">HCS</text>
<text x="1559.2" y="69.5" font-size="27.5">shock</text>
<text x="1646.9" y="548.7" font-size="24.4">CME</text>
<text x="1646.9" y="577.7" font-size="24.4">onset</text>
<text x="1773.5" y="558.1" font-size="28.1">HCS</text>
<text x="1862.3" y="558.1" font-size="27.4">shock</text>
<text x="1669.7" y="628.6" font-size="20.3">N14W07</text>
<text x="1219" y="645" font-size="20.3">S19W06</text>
<text x="1905.1" y="63.7" font-size="16.2" fill="#000">Energy (MeV)</text>
<text x="1904.7" y="87.2" font-size="16.2" fill="#0a14ee">2.00-2.40</text>
<text x="1904.7" y="111.5" font-size="16.2" fill="#1890f8">2.40-3.00</text>
<text x="1904.7" y="135.6" font-size="16.2" fill="#2aeac8">3.00-3.70</text>
<text x="1904.7" y="159.8" font-size="16.2" fill="#a8ee3c">3.70-4.53</text>
<text x="1904.7" y="184" font-size="16.2" fill="#fcaa10">4.53-6.00</text>
<text x="1904.7" y="208.2" font-size="16.2" fill="#fb2c0c">6.00-7.40</text>
<text x="1904.7" y="232.4" font-size="16.2" fill="#990c10">7.40-9.64</text>
</svg>
</body></html>
